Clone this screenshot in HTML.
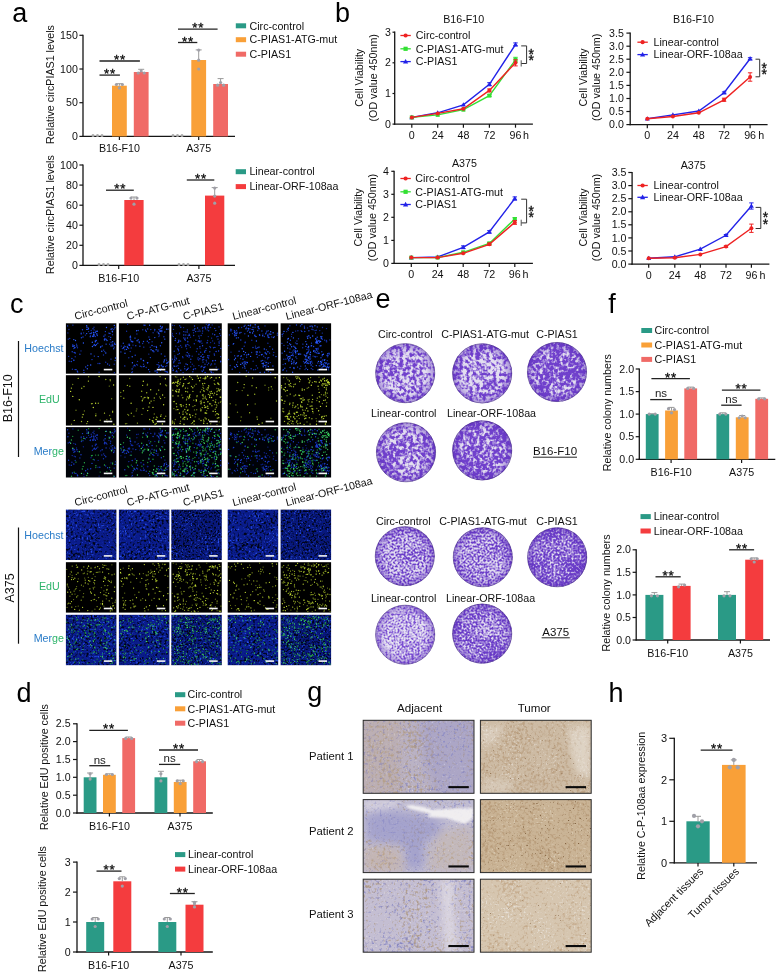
<!DOCTYPE html>
<html><head><meta charset="utf-8"><title>Figure</title>
<style>
html,body{margin:0;padding:0;background:#fff;}
body{width:777px;height:974px;overflow:hidden;}
svg{display:block;font-family:"Liberation Sans",Arial,sans-serif;}
</style></head><body>
<svg width="777" height="974" viewBox="0 0 777 974">
<defs>
<filter id="ha" x="0" y="0" width="1" height="1" color-interpolation-filters="sRGB"><feFlood flood-color="#0a1c8c" result="L0"/><feTurbulence type="fractalNoise" baseFrequency="0.45" numOctaves="1" seed="7"/><feColorMatrix type="matrix" values="1 0 0 0 0  0 0 0 0 0  0 0 0 0 0  0 0 0 0 1" result="h0"/><feTurbulence type="fractalNoise" baseFrequency="0.06" numOctaves="2" seed="57"/><feColorMatrix type="matrix" values="1 0 0 0 0  0 0 0 0 0  0 0 0 0 0  0 0 0 0 1" result="l0"/><feComposite in="h0" in2="l0" operator="arithmetic" k2="0.800" k3="0.200" result="c0"/><feColorMatrix in="c0" type="matrix" values="0 0 0 0 0  0 0 0 0 0  0 0 0 0 0  6 0 0 0 -3.000" result="t0"/><feFlood flood-color="#000418"/><feComposite in2="t0" operator="in" result="d0"/><feMerge result="L1"><feMergeNode in="L0"/><feMergeNode in="d0"/></feMerge><feTurbulence type="fractalNoise" baseFrequency="0.55" numOctaves="1" seed="107"/><feColorMatrix type="matrix" values="1 0 0 0 0  0 0 0 0 0  0 0 0 0 0  0 0 0 0 1" result="h1"/><feTurbulence type="fractalNoise" baseFrequency="0.06" numOctaves="2" seed="157"/><feColorMatrix type="matrix" values="1 0 0 0 0  0 0 0 0 0  0 0 0 0 0  0 0 0 0 1" result="l1"/><feComposite in="h1" in2="l1" operator="arithmetic" k2="0.800" k3="0.200" result="c1"/><feColorMatrix in="c1" type="matrix" values="0 0 0 0 0  0 0 0 0 0  0 0 0 0 0  6 0 0 0 -3.420" result="t1"/><feFlood flood-color="#2850f0"/><feComposite in2="t1" operator="in" result="d1"/><feMerge result="L2"><feMergeNode in="L1"/><feMergeNode in="d1"/></feMerge><feComposite in="L2" in2="SourceAlpha" operator="in"/></filter><filter id="ha2" x="0" y="0" width="1" height="1" color-interpolation-filters="sRGB"><feFlood flood-color="#08187c" result="L0"/><feTurbulence type="fractalNoise" baseFrequency="0.55" numOctaves="1" seed="8"/><feColorMatrix type="matrix" values="1 0 0 0 0  0 0 0 0 0  0 0 0 0 0  0 0 0 0 1" result="h0"/><feTurbulence type="fractalNoise" baseFrequency="0.06" numOctaves="2" seed="58"/><feColorMatrix type="matrix" values="1 0 0 0 0  0 0 0 0 0  0 0 0 0 0  0 0 0 0 1" result="l0"/><feComposite in="h0" in2="l0" operator="arithmetic" k2="0.850" k3="0.150" result="c0"/><feColorMatrix in="c0" type="matrix" values="0 0 0 0 0  0 0 0 0 0  0 0 0 0 0  6 0 0 0 -2.940" result="t0"/><feFlood flood-color="#000418"/><feComposite in2="t0" operator="in" result="d0"/><feMerge result="L1"><feMergeNode in="L0"/><feMergeNode in="d0"/></feMerge><feTurbulence type="fractalNoise" baseFrequency="0.55" numOctaves="1" seed="108"/><feColorMatrix type="matrix" values="1 0 0 0 0  0 0 0 0 0  0 0 0 0 0  0 0 0 0 1" result="h1"/><feTurbulence type="fractalNoise" baseFrequency="0.06" numOctaves="2" seed="158"/><feColorMatrix type="matrix" values="1 0 0 0 0  0 0 0 0 0  0 0 0 0 0  0 0 0 0 1" result="l1"/><feComposite in="h1" in2="l1" operator="arithmetic" k2="0.850" k3="0.150" result="c1"/><feColorMatrix in="c1" type="matrix" values="0 0 0 0 0  0 0 0 0 0  0 0 0 0 0  6 0 0 0 -3.480" result="t1"/><feFlood flood-color="#2850f0"/><feComposite in2="t1" operator="in" result="d1"/><feMerge result="L2"><feMergeNode in="L1"/><feMergeNode in="d1"/></feMerge><feComposite in="L2" in2="SourceAlpha" operator="in"/></filter><filter id="q4" x="0" y="0" width="1" height="1" color-interpolation-filters="sRGB"><feFlood flood-color="#e6e2f2" result="L0"/><feTurbulence type="fractalNoise" baseFrequency="0.5" numOctaves="2" seed="33"/><feColorMatrix type="matrix" values="1 0 0 0 0  0 0 0 0 0  0 0 0 0 0  0 0 0 0 1" result="h0"/><feTurbulence type="fractalNoise" baseFrequency="0.05" numOctaves="2" seed="83"/><feColorMatrix type="matrix" values="1 0 0 0 0  0 0 0 0 0  0 0 0 0 0  0 0 0 0 1" result="l0"/><feComposite in="h0" in2="l0" operator="arithmetic" k2="0.800" k3="0.200" result="c0"/><feColorMatrix in="c0" type="matrix" values="0 0 0 0 0  0 0 0 0 0  0 0 0 0 0  4 0 0 0 -1.640" result="t0"/><feFlood flood-color="#7a4ed2"/><feComposite in2="t0" operator="in" result="d0"/><feMerge result="L1"><feMergeNode in="L0"/><feMergeNode in="d0"/></feMerge><feComposite in="L1" in2="SourceAlpha" operator="in"/></filter><filter id="q5" x="0" y="0" width="1" height="1" color-interpolation-filters="sRGB"><feFlood flood-color="#e0daf0" result="L0"/><feTurbulence type="fractalNoise" baseFrequency="0.5" numOctaves="2" seed="34"/><feColorMatrix type="matrix" values="1 0 0 0 0  0 0 0 0 0  0 0 0 0 0  0 0 0 0 1" result="h0"/><feTurbulence type="fractalNoise" baseFrequency="0.05" numOctaves="2" seed="84"/><feColorMatrix type="matrix" values="1 0 0 0 0  0 0 0 0 0  0 0 0 0 0  0 0 0 0 1" result="l0"/><feComposite in="h0" in2="l0" operator="arithmetic" k2="0.800" k3="0.200" result="c0"/><feColorMatrix in="c0" type="matrix" values="0 0 0 0 0  0 0 0 0 0  0 0 0 0 0  4 0 0 0 -1.520" result="t0"/><feFlood flood-color="#6a3cc8"/><feComposite in2="t0" operator="in" result="d0"/><feMerge result="L1"><feMergeNode in="L0"/><feMergeNode in="d0"/></feMerge><feComposite in="L1" in2="SourceAlpha" operator="in"/></filter><filter id="q6" x="0" y="0" width="1" height="1" color-interpolation-filters="sRGB"><feFlood flood-color="#e0daf0" result="L0"/><feTurbulence type="fractalNoise" baseFrequency="0.5" numOctaves="2" seed="35"/><feColorMatrix type="matrix" values="1 0 0 0 0  0 0 0 0 0  0 0 0 0 0  0 0 0 0 1" result="h0"/><feTurbulence type="fractalNoise" baseFrequency="0.05" numOctaves="2" seed="85"/><feColorMatrix type="matrix" values="1 0 0 0 0  0 0 0 0 0  0 0 0 0 0  0 0 0 0 1" result="l0"/><feComposite in="h0" in2="l0" operator="arithmetic" k2="0.800" k3="0.200" result="c0"/><feColorMatrix in="c0" type="matrix" values="0 0 0 0 0  0 0 0 0 0  0 0 0 0 0  4 0 0 0 -1.400" result="t0"/><feFlood flood-color="#6a3cc8"/><feComposite in2="t0" operator="in" result="d0"/><feMerge result="L1"><feMergeNode in="L0"/><feMergeNode in="d0"/></feMerge><feComposite in="L1" in2="SourceAlpha" operator="in"/></filter><filter id="q7" x="0" y="0" width="1" height="1" color-interpolation-filters="sRGB"><feFlood flood-color="#e0daf0" result="L0"/><feTurbulence type="fractalNoise" baseFrequency="0.5" numOctaves="2" seed="36"/><feColorMatrix type="matrix" values="1 0 0 0 0  0 0 0 0 0  0 0 0 0 0  0 0 0 0 1" result="h0"/><feTurbulence type="fractalNoise" baseFrequency="0.05" numOctaves="2" seed="86"/><feColorMatrix type="matrix" values="1 0 0 0 0  0 0 0 0 0  0 0 0 0 0  0 0 0 0 1" result="l0"/><feComposite in="h0" in2="l0" operator="arithmetic" k2="0.800" k3="0.200" result="c0"/><feColorMatrix in="c0" type="matrix" values="0 0 0 0 0  0 0 0 0 0  0 0 0 0 0  4 0 0 0 -1.280" result="t0"/><feFlood flood-color="#6a3cc8"/><feComposite in2="t0" operator="in" result="d0"/><feMerge result="L1"><feMergeNode in="L0"/><feMergeNode in="d0"/></feMerge><feComposite in="L1" in2="SourceAlpha" operator="in"/></filter><filter id="r4" x="0" y="0" width="1" height="1" color-interpolation-filters="sRGB"><feFlood flood-color="#e2ddf0" result="L0"/><feTurbulence type="fractalNoise" baseFrequency="0.3" numOctaves="2" seed="43"/><feColorMatrix type="matrix" values="1 0 0 0 0  0 0 0 0 0  0 0 0 0 0  0 0 0 0 1" result="h0"/><feTurbulence type="fractalNoise" baseFrequency="0.05" numOctaves="2" seed="93"/><feColorMatrix type="matrix" values="1 0 0 0 0  0 0 0 0 0  0 0 0 0 0  0 0 0 0 1" result="l0"/><feComposite in="h0" in2="l0" operator="arithmetic" k2="0.750" k3="0.250" result="c0"/><feColorMatrix in="c0" type="matrix" values="0 0 0 0 0  0 0 0 0 0  0 0 0 0 0  5 0 0 0 -2.050" result="t0"/><feFlood flood-color="#7040cc"/><feComposite in2="t0" operator="in" result="d0"/><feMerge result="L1"><feMergeNode in="L0"/><feMergeNode in="d0"/></feMerge><feComposite in="L1" in2="SourceAlpha" operator="in"/></filter><filter id="r5" x="0" y="0" width="1" height="1" color-interpolation-filters="sRGB"><feFlood flood-color="#e2ddf0" result="L0"/><feTurbulence type="fractalNoise" baseFrequency="0.3" numOctaves="2" seed="44"/><feColorMatrix type="matrix" values="1 0 0 0 0  0 0 0 0 0  0 0 0 0 0  0 0 0 0 1" result="h0"/><feTurbulence type="fractalNoise" baseFrequency="0.05" numOctaves="2" seed="94"/><feColorMatrix type="matrix" values="1 0 0 0 0  0 0 0 0 0  0 0 0 0 0  0 0 0 0 1" result="l0"/><feComposite in="h0" in2="l0" operator="arithmetic" k2="0.750" k3="0.250" result="c0"/><feColorMatrix in="c0" type="matrix" values="0 0 0 0 0  0 0 0 0 0  0 0 0 0 0  5 0 0 0 -1.900" result="t0"/><feFlood flood-color="#7040cc"/><feComposite in2="t0" operator="in" result="d0"/><feMerge result="L1"><feMergeNode in="L0"/><feMergeNode in="d0"/></feMerge><feComposite in="L1" in2="SourceAlpha" operator="in"/></filter><filter id="r6" x="0" y="0" width="1" height="1" color-interpolation-filters="sRGB"><feFlood flood-color="#e2ddf0" result="L0"/><feTurbulence type="fractalNoise" baseFrequency="0.3" numOctaves="2" seed="45"/><feColorMatrix type="matrix" values="1 0 0 0 0  0 0 0 0 0  0 0 0 0 0  0 0 0 0 1" result="h0"/><feTurbulence type="fractalNoise" baseFrequency="0.05" numOctaves="2" seed="95"/><feColorMatrix type="matrix" values="1 0 0 0 0  0 0 0 0 0  0 0 0 0 0  0 0 0 0 1" result="l0"/><feComposite in="h0" in2="l0" operator="arithmetic" k2="0.750" k3="0.250" result="c0"/><feColorMatrix in="c0" type="matrix" values="0 0 0 0 0  0 0 0 0 0  0 0 0 0 0  5 0 0 0 -1.750" result="t0"/><feFlood flood-color="#7040cc"/><feComposite in2="t0" operator="in" result="d0"/><feMerge result="L1"><feMergeNode in="L0"/><feMergeNode in="d0"/></feMerge><feComposite in="L1" in2="SourceAlpha" operator="in"/></filter><radialGradient id="vig"><stop offset="0.7" stop-color="#5a2cb8" stop-opacity="0"/><stop offset="1" stop-color="#5a2cb8" stop-opacity="0.45"/></radialGradient><filter id="ia1" x="0" y="0" width="1" height="1" color-interpolation-filters="sRGB"><feFlood flood-color="#bab2c4" result="L0"/><feTurbulence type="fractalNoise" baseFrequency="0.35" numOctaves="2" seed="41"/><feColorMatrix type="matrix" values="1 0 0 0 0  0 0 0 0 0  0 0 0 0 0  0 0 0 0 1" result="h0"/><feTurbulence type="fractalNoise" baseFrequency="0.03" numOctaves="2" seed="91"/><feColorMatrix type="matrix" values="1 0 0 0 0  0 0 0 0 0  0 0 0 0 0  0 0 0 0 1" result="l0"/><feComposite in="h0" in2="l0" operator="arithmetic" k2="0.700" k3="0.300" result="c0"/><feColorMatrix in="c0" type="matrix" values="0 0 0 0 0  0 0 0 0 0  0 0 0 0 0  5 0 0 0 -2.600" result="t0"/><feFlood flood-color="#b09c8a"/><feComposite in2="t0" operator="in" result="d0"/><feMerge result="L1"><feMergeNode in="L0"/><feMergeNode in="d0"/></feMerge><feTurbulence type="fractalNoise" baseFrequency="0.35" numOctaves="2" seed="42"/><feColorMatrix type="matrix" values="1 0 0 0 0  0 0 0 0 0  0 0 0 0 0  0 0 0 0 1" result="h1"/><feTurbulence type="fractalNoise" baseFrequency="0.02" numOctaves="2" seed="92"/><feColorMatrix type="matrix" values="1 0 0 0 0  0 0 0 0 0  0 0 0 0 0  0 0 0 0 1" result="l1"/><feComposite in="h1" in2="l1" operator="arithmetic" k2="0.850" k3="0.150" result="c1"/><feColorMatrix in="c1" type="matrix" values="0 0 0 0 0  0 0 0 0 0  0 0 0 0 0  5 0 0 0 -2.900" result="t1"/><feFlood flood-color="#8686c2"/><feComposite in2="t1" operator="in" result="d1"/><feMerge result="L2"><feMergeNode in="L1"/><feMergeNode in="d1"/></feMerge><feTurbulence type="fractalNoise" baseFrequency="0.5" numOctaves="1" seed="43"/><feColorMatrix type="matrix" values="1 0 0 0 0  0 0 0 0 0  0 0 0 0 0  0 0 0 0 1" result="h2"/><feTurbulence type="fractalNoise" baseFrequency="0.05" numOctaves="1" seed="93"/><feColorMatrix type="matrix" values="1 0 0 0 0  0 0 0 0 0  0 0 0 0 0  0 0 0 0 1" result="l2"/><feComposite in="h2" in2="l2" operator="arithmetic" k2="0.850" k3="0.150" result="c2"/><feColorMatrix in="c2" type="matrix" values="0 0 0 0 0  0 0 0 0 0  0 0 0 0 0  5 0 0 0 -3.200" result="t2"/><feFlood flood-color="#dedae2"/><feComposite in2="t2" operator="in" result="d2"/><feMerge result="L3"><feMergeNode in="L2"/><feMergeNode in="d2"/></feMerge><feComposite in="L3" in2="SourceAlpha" operator="in"/></filter><filter id="ia2" x="0" y="0" width="1" height="1" color-interpolation-filters="sRGB"><feFlood flood-color="#c0bcd2" result="L0"/><feTurbulence type="fractalNoise" baseFrequency="0.35" numOctaves="2" seed="51"/><feColorMatrix type="matrix" values="1 0 0 0 0  0 0 0 0 0  0 0 0 0 0  0 0 0 0 1" result="h0"/><feTurbulence type="fractalNoise" baseFrequency="0.03" numOctaves="2" seed="101"/><feColorMatrix type="matrix" values="1 0 0 0 0  0 0 0 0 0  0 0 0 0 0  0 0 0 0 1" result="l0"/><feComposite in="h0" in2="l0" operator="arithmetic" k2="0.700" k3="0.300" result="c0"/><feColorMatrix in="c0" type="matrix" values="0 0 0 0 0  0 0 0 0 0  0 0 0 0 0  5 0 0 0 -2.800" result="t0"/><feFlood flood-color="#b09c8a"/><feComposite in2="t0" operator="in" result="d0"/><feMerge result="L1"><feMergeNode in="L0"/><feMergeNode in="d0"/></feMerge><feTurbulence type="fractalNoise" baseFrequency="0.35" numOctaves="2" seed="52"/><feColorMatrix type="matrix" values="1 0 0 0 0  0 0 0 0 0  0 0 0 0 0  0 0 0 0 1" result="h1"/><feTurbulence type="fractalNoise" baseFrequency="0.03" numOctaves="2" seed="102"/><feColorMatrix type="matrix" values="1 0 0 0 0  0 0 0 0 0  0 0 0 0 0  0 0 0 0 1" result="l1"/><feComposite in="h1" in2="l1" operator="arithmetic" k2="0.700" k3="0.300" result="c1"/><feColorMatrix in="c1" type="matrix" values="0 0 0 0 0  0 0 0 0 0  0 0 0 0 0  5 0 0 0 -2.900" result="t1"/><feFlood flood-color="#8686c2"/><feComposite in2="t1" operator="in" result="d1"/><feMerge result="L2"><feMergeNode in="L1"/><feMergeNode in="d1"/></feMerge><feTurbulence type="fractalNoise" baseFrequency="0.5" numOctaves="1" seed="53"/><feColorMatrix type="matrix" values="1 0 0 0 0  0 0 0 0 0  0 0 0 0 0  0 0 0 0 1" result="h2"/><feTurbulence type="fractalNoise" baseFrequency="0.05" numOctaves="1" seed="103"/><feColorMatrix type="matrix" values="1 0 0 0 0  0 0 0 0 0  0 0 0 0 0  0 0 0 0 1" result="l2"/><feComposite in="h2" in2="l2" operator="arithmetic" k2="0.850" k3="0.150" result="c2"/><feColorMatrix in="c2" type="matrix" values="0 0 0 0 0  0 0 0 0 0  0 0 0 0 0  5 0 0 0 -3.200" result="t2"/><feFlood flood-color="#dedae2"/><feComposite in2="t2" operator="in" result="d2"/><feMerge result="L3"><feMergeNode in="L2"/><feMergeNode in="d2"/></feMerge><feComposite in="L3" in2="SourceAlpha" operator="in"/></filter><filter id="ia3" x="0" y="0" width="1" height="1" color-interpolation-filters="sRGB"><feFlood flood-color="#c4bed2" result="L0"/><feTurbulence type="fractalNoise" baseFrequency="0.35" numOctaves="2" seed="61"/><feColorMatrix type="matrix" values="1 0 0 0 0  0 0 0 0 0  0 0 0 0 0  0 0 0 0 1" result="h0"/><feTurbulence type="fractalNoise" baseFrequency="0.03" numOctaves="2" seed="111"/><feColorMatrix type="matrix" values="1 0 0 0 0  0 0 0 0 0  0 0 0 0 0  0 0 0 0 1" result="l0"/><feComposite in="h0" in2="l0" operator="arithmetic" k2="0.700" k3="0.300" result="c0"/><feColorMatrix in="c0" type="matrix" values="0 0 0 0 0  0 0 0 0 0  0 0 0 0 0  5 0 0 0 -2.750" result="t0"/><feFlood flood-color="#b09c8a"/><feComposite in2="t0" operator="in" result="d0"/><feMerge result="L1"><feMergeNode in="L0"/><feMergeNode in="d0"/></feMerge><feTurbulence type="fractalNoise" baseFrequency="0.35" numOctaves="2" seed="62"/><feColorMatrix type="matrix" values="1 0 0 0 0  0 0 0 0 0  0 0 0 0 0  0 0 0 0 1" result="h1"/><feTurbulence type="fractalNoise" baseFrequency="0.03" numOctaves="2" seed="112"/><feColorMatrix type="matrix" values="1 0 0 0 0  0 0 0 0 0  0 0 0 0 0  0 0 0 0 1" result="l1"/><feComposite in="h1" in2="l1" operator="arithmetic" k2="0.700" k3="0.300" result="c1"/><feColorMatrix in="c1" type="matrix" values="0 0 0 0 0  0 0 0 0 0  0 0 0 0 0  5 0 0 0 -2.800" result="t1"/><feFlood flood-color="#8686c2"/><feComposite in2="t1" operator="in" result="d1"/><feMerge result="L2"><feMergeNode in="L1"/><feMergeNode in="d1"/></feMerge><feTurbulence type="fractalNoise" baseFrequency="0.5" numOctaves="1" seed="63"/><feColorMatrix type="matrix" values="1 0 0 0 0  0 0 0 0 0  0 0 0 0 0  0 0 0 0 1" result="h2"/><feTurbulence type="fractalNoise" baseFrequency="0.05" numOctaves="1" seed="113"/><feColorMatrix type="matrix" values="1 0 0 0 0  0 0 0 0 0  0 0 0 0 0  0 0 0 0 1" result="l2"/><feComposite in="h2" in2="l2" operator="arithmetic" k2="0.850" k3="0.150" result="c2"/><feColorMatrix in="c2" type="matrix" values="0 0 0 0 0  0 0 0 0 0  0 0 0 0 0  5 0 0 0 -3.100" result="t2"/><feFlood flood-color="#dedae2"/><feComposite in2="t2" operator="in" result="d2"/><feMerge result="L3"><feMergeNode in="L2"/><feMergeNode in="d2"/></feMerge><feComposite in="L3" in2="SourceAlpha" operator="in"/></filter><filter id="it1" x="0" y="0" width="1" height="1" color-interpolation-filters="sRGB"><feFlood flood-color="#cdbba4" result="L0"/><feTurbulence type="fractalNoise" baseFrequency="0.35" numOctaves="2" seed="44"/><feColorMatrix type="matrix" values="1 0 0 0 0  0 0 0 0 0  0 0 0 0 0  0 0 0 0 1" result="h0"/><feTurbulence type="fractalNoise" baseFrequency="0.03" numOctaves="2" seed="94"/><feColorMatrix type="matrix" values="1 0 0 0 0  0 0 0 0 0  0 0 0 0 0  0 0 0 0 1" result="l0"/><feComposite in="h0" in2="l0" operator="arithmetic" k2="0.700" k3="0.300" result="c0"/><feColorMatrix in="c0" type="matrix" values="0 0 0 0 0  0 0 0 0 0  0 0 0 0 0  5 0 0 0 -2.500" result="t0"/><feFlood flood-color="#bca284"/><feComposite in2="t0" operator="in" result="d0"/><feMerge result="L1"><feMergeNode in="L0"/><feMergeNode in="d0"/></feMerge><feTurbulence type="fractalNoise" baseFrequency="0.5" numOctaves="1" seed="45"/><feColorMatrix type="matrix" values="1 0 0 0 0  0 0 0 0 0  0 0 0 0 0  0 0 0 0 1" result="h1"/><feTurbulence type="fractalNoise" baseFrequency="0.04" numOctaves="2" seed="95"/><feColorMatrix type="matrix" values="1 0 0 0 0  0 0 0 0 0  0 0 0 0 0  0 0 0 0 1" result="l1"/><feComposite in="h1" in2="l1" operator="arithmetic" k2="0.700" k3="0.300" result="c1"/><feColorMatrix in="c1" type="matrix" values="0 0 0 0 0  0 0 0 0 0  0 0 0 0 0  5 0 0 0 -2.900" result="t1"/><feFlood flood-color="#e4dcd2"/><feComposite in2="t1" operator="in" result="d1"/><feMerge result="L2"><feMergeNode in="L1"/><feMergeNode in="d1"/></feMerge><feTurbulence type="fractalNoise" baseFrequency="0.6" numOctaves="1" seed="46"/><feColorMatrix type="matrix" values="1 0 0 0 0  0 0 0 0 0  0 0 0 0 0  0 0 0 0 1" result="h2"/><feColorMatrix in="h2" type="matrix" values="0 0 0 0 0  0 0 0 0 0  0 0 0 0 0  8 0 0 0 -5.600" result="t2"/><feFlood flood-color="#8c6c4c"/><feComposite in2="t2" operator="in" result="d2"/><feMerge result="L3"><feMergeNode in="L2"/><feMergeNode in="d2"/></feMerge><feComposite in="L3" in2="SourceAlpha" operator="in"/></filter><filter id="it2" x="0" y="0" width="1" height="1" color-interpolation-filters="sRGB"><feFlood flood-color="#cab496" result="L0"/><feTurbulence type="fractalNoise" baseFrequency="0.35" numOctaves="2" seed="54"/><feColorMatrix type="matrix" values="1 0 0 0 0  0 0 0 0 0  0 0 0 0 0  0 0 0 0 1" result="h0"/><feTurbulence type="fractalNoise" baseFrequency="0.03" numOctaves="2" seed="104"/><feColorMatrix type="matrix" values="1 0 0 0 0  0 0 0 0 0  0 0 0 0 0  0 0 0 0 1" result="l0"/><feComposite in="h0" in2="l0" operator="arithmetic" k2="0.700" k3="0.300" result="c0"/><feColorMatrix in="c0" type="matrix" values="0 0 0 0 0  0 0 0 0 0  0 0 0 0 0  5 0 0 0 -2.500" result="t0"/><feFlood flood-color="#b89c7a"/><feComposite in2="t0" operator="in" result="d0"/><feMerge result="L1"><feMergeNode in="L0"/><feMergeNode in="d0"/></feMerge><feTurbulence type="fractalNoise" baseFrequency="0.5" numOctaves="1" seed="55"/><feColorMatrix type="matrix" values="1 0 0 0 0  0 0 0 0 0  0 0 0 0 0  0 0 0 0 1" result="h1"/><feTurbulence type="fractalNoise" baseFrequency="0.04" numOctaves="2" seed="105"/><feColorMatrix type="matrix" values="1 0 0 0 0  0 0 0 0 0  0 0 0 0 0  0 0 0 0 1" result="l1"/><feComposite in="h1" in2="l1" operator="arithmetic" k2="0.700" k3="0.300" result="c1"/><feColorMatrix in="c1" type="matrix" values="0 0 0 0 0  0 0 0 0 0  0 0 0 0 0  5 0 0 0 -3.000" result="t1"/><feFlood flood-color="#e2d6c2"/><feComposite in2="t1" operator="in" result="d1"/><feMerge result="L2"><feMergeNode in="L1"/><feMergeNode in="d1"/></feMerge><feTurbulence type="fractalNoise" baseFrequency="0.6" numOctaves="1" seed="56"/><feColorMatrix type="matrix" values="1 0 0 0 0  0 0 0 0 0  0 0 0 0 0  0 0 0 0 1" result="h2"/><feColorMatrix in="h2" type="matrix" values="0 0 0 0 0  0 0 0 0 0  0 0 0 0 0  8 0 0 0 -5.440" result="t2"/><feFlood flood-color="#80603e"/><feComposite in2="t2" operator="in" result="d2"/><feMerge result="L3"><feMergeNode in="L2"/><feMergeNode in="d2"/></feMerge><feComposite in="L3" in2="SourceAlpha" operator="in"/></filter><filter id="it3" x="0" y="0" width="1" height="1" color-interpolation-filters="sRGB"><feFlood flood-color="#d6c6b0" result="L0"/><feTurbulence type="fractalNoise" baseFrequency="0.35" numOctaves="2" seed="64"/><feColorMatrix type="matrix" values="1 0 0 0 0  0 0 0 0 0  0 0 0 0 0  0 0 0 0 1" result="h0"/><feTurbulence type="fractalNoise" baseFrequency="0.03" numOctaves="2" seed="114"/><feColorMatrix type="matrix" values="1 0 0 0 0  0 0 0 0 0  0 0 0 0 0  0 0 0 0 1" result="l0"/><feComposite in="h0" in2="l0" operator="arithmetic" k2="0.700" k3="0.300" result="c0"/><feColorMatrix in="c0" type="matrix" values="0 0 0 0 0  0 0 0 0 0  0 0 0 0 0  5 0 0 0 -2.650" result="t0"/><feFlood flood-color="#c4aa8c"/><feComposite in2="t0" operator="in" result="d0"/><feMerge result="L1"><feMergeNode in="L0"/><feMergeNode in="d0"/></feMerge><feTurbulence type="fractalNoise" baseFrequency="0.5" numOctaves="1" seed="65"/><feColorMatrix type="matrix" values="1 0 0 0 0  0 0 0 0 0  0 0 0 0 0  0 0 0 0 1" result="h1"/><feTurbulence type="fractalNoise" baseFrequency="0.04" numOctaves="2" seed="115"/><feColorMatrix type="matrix" values="1 0 0 0 0  0 0 0 0 0  0 0 0 0 0  0 0 0 0 1" result="l1"/><feComposite in="h1" in2="l1" operator="arithmetic" k2="0.700" k3="0.300" result="c1"/><feColorMatrix in="c1" type="matrix" values="0 0 0 0 0  0 0 0 0 0  0 0 0 0 0  5 0 0 0 -2.900" result="t1"/><feFlood flood-color="#e8e2da"/><feComposite in2="t1" operator="in" result="d1"/><feMerge result="L2"><feMergeNode in="L1"/><feMergeNode in="d1"/></feMerge><feTurbulence type="fractalNoise" baseFrequency="0.6" numOctaves="1" seed="66"/><feColorMatrix type="matrix" values="1 0 0 0 0  0 0 0 0 0  0 0 0 0 0  0 0 0 0 1" result="h2"/><feColorMatrix in="h2" type="matrix" values="0 0 0 0 0  0 0 0 0 0  0 0 0 0 0  8 0 0 0 -5.760" result="t2"/><feFlood flood-color="#8c6c4c"/><feComposite in2="t2" operator="in" result="d2"/><feMerge result="L3"><feMergeNode in="L2"/><feMergeNode in="d2"/></feMerge><feComposite in="L3" in2="SourceAlpha" operator="in"/></filter><filter id="bl1" x="-50%" y="-50%" width="200%" height="200%"><feGaussianBlur stdDeviation="1"/></filter><filter id="bl3" x="-50%" y="-50%" width="200%" height="200%"><feGaussianBlur stdDeviation="3"/></filter><filter id="bl4" x="-50%" y="-50%" width="200%" height="200%"><feGaussianBlur stdDeviation="4"/></filter><clipPath id="cg00"><rect x="363.2" y="720.3" width="110.8" height="73"/></clipPath><clipPath id="cg01"><rect x="480.4" y="720.3" width="110.8" height="73"/></clipPath><clipPath id="cg10"><rect x="363.2" y="799.6" width="110.8" height="73"/></clipPath><clipPath id="cg11"><rect x="480.4" y="799.6" width="110.8" height="73"/></clipPath><clipPath id="cg20"><rect x="363.2" y="879.2" width="110.8" height="73"/></clipPath><clipPath id="cg21"><rect x="480.4" y="879.2" width="110.8" height="73"/></clipPath>
</defs>
<rect width="777" height="974" fill="#fff"/>
<rect x="65.9" y="323.3" width="50.5" height="50.4" fill="#000" />
<path d="M96.9 334.5h0M93.9 345.1h0M112.5 334.8h0M105.7 362.2h0M94.0 327.3h0M94.1 335.5h0M115.1 327.2h0M108.9 336.6h0M69.2 361.2h0M103.5 355.0h0M69.7 338.5h0M67.9 332.9h0M74.7 348.1h0M114.4 372.7h0M88.6 331.6h0M104.7 351.6h0M72.8 344.8h0M98.0 363.5h0M114.6 328.1h0M114.3 344.4h0M115.4 344.4h0M99.1 372.3h0M76.5 344.2h0M91.7 332.4h0M109.5 365.3h0M81.0 350.9h0M110.4 339.4h0M81.2 334.0h0M113.7 329.5h0M77.5 347.7h0M91.2 330.4h0M109.6 344.3h0M105.6 339.0h0M93.2 336.5h0M95.4 336.5h0M94.1 330.0h0M73.7 360.3h0M104.7 338.4h0M75.2 356.7h0M73.8 348.5h0M83.6 332.9h0M95.6 341.0h0M85.4 335.1h0M72.4 369.2h0M68.9 329.5h0M114.2 364.3h0M95.4 340.4h0M111.1 342.3h0M73.2 346.1h0M88.5 329.3h0M68.6 356.4h0" stroke="#1430a8" stroke-width="1.4" stroke-linecap="round" fill="none"/>
<path d="M74.2 352.5h0M96.5 344.4h0M107.6 364.0h0M75.3 353.0h0M110.0 333.4h0M113.7 348.7h0M75.1 369.6h0M87.0 329.4h0M103.7 350.1h0M90.5 335.9h0M99.8 363.5h0M97.8 343.3h0M71.3 361.5h0M90.2 336.7h0M94.0 334.2h0M96.0 331.3h0M97.4 331.1h0M106.2 339.4h0M85.7 367.0h0M114.2 347.1h0M105.4 331.6h0M112.2 344.2h0M68.2 339.1h0M72.2 351.8h0M67.6 325.9h0M83.0 337.0h0M73.9 360.2h0M108.9 333.1h0M94.3 356.1h0M112.1 328.8h0M114.5 343.3h0M92.0 359.6h0M76.2 369.6h0M81.2 333.2h0M82.5 329.8h0M81.4 337.7h0M96.4 340.5h0M105.1 334.9h0M94.0 345.5h0M100.8 346.8h0M97.3 335.5h0M79.9 354.2h0M110.7 337.4h0M77.7 372.0h0M72.9 325.1h0M90.0 333.6h0M83.8 370.3h0M74.4 345.7h0M102.2 345.9h0M103.9 336.3h0M111.0 359.1h0M93.0 328.7h0M115.1 360.6h0M87.7 365.5h0M71.9 358.5h0M96.8 333.8h0M95.4 332.5h0M94.4 344.5h0" stroke="#1c44d8" stroke-width="1.4" stroke-linecap="round" fill="none"/>
<path d="M75.5 340.5h0M114.3 325.4h0M88.5 328.2h0M73.8 339.6h0M112.7 341.7h0M92.7 336.2h0M87.0 329.4h0M72.6 346.1h0M106.5 327.5h0M112.5 331.7h0M84.0 372.6h0M107.0 340.5h0M87.0 327.2h0M104.4 339.7h0M92.4 346.5h0M87.3 368.8h0M100.5 347.1h0M104.6 340.1h0M73.3 346.1h0M93.7 332.4h0M76.9 346.0h0M98.2 356.6h0M112.2 331.3h0M97.0 331.4h0M115.5 358.0h0M91.0 333.5h0M91.0 353.9h0M95.3 341.8h0M90.7 365.0h0M93.8 335.9h0M83.4 343.0h0M95.6 345.5h0M74.9 347.4h0M86.7 333.6h0M101.8 351.2h0M106.1 344.1h0M105.8 353.0h0M93.7 334.2h0M92.3 342.2h0M86.7 325.8h0M111.1 345.9h0M77.3 371.1h0M111.1 329.3h0M112.8 345.7h0" stroke="#2c5cff" stroke-width="1.4" stroke-linecap="round" fill="none"/>
<rect x="103.8" y="368.8" width="8.5" height="1.6" fill="#f4f4f4" />
<rect x="65.9" y="375.2" width="50.5" height="50.4" fill="#000" />
<path d="M71.5 424.3h0M91.5 403.8h0M106.8 419.7h0M109.6 415.5h0M84.4 410.9h0M95.9 413.9h0M88.6 376.8h0M100.2 420.2h0M76.0 410.2h0M111.6 398.8h0M112.6 411.1h0M109.3 386.1h0M72.7 384.5h0M110.3 380.7h0" stroke="#6c7c18" stroke-width="1.4" stroke-linecap="round" fill="none"/>
<path d="M98.3 403.2h0M78.2 378.4h0M84.0 386.5h0M107.3 421.7h0M86.8 423.6h0M81.7 388.2h0M81.5 421.5h0M110.2 379.8h0M105.8 379.5h0" stroke="#98b024" stroke-width="1.4" stroke-linecap="round" fill="none"/>
<path d="M88.4 381.1h0M83.1 414.5h0M104.5 413.1h0M79.3 399.8h0M99.1 376.5h0M92.1 403.6h0M70.6 391.4h0M95.8 415.7h0M82.3 417.1h0M95.6 403.2h0M72.8 396.4h0M110.7 418.9h0M113.6 385.0h0M74.2 420.4h0M113.9 424.2h0M112.6 412.0h0M87.6 421.6h0M93.3 407.5h0M71.4 388.1h0" stroke="#c0d834" stroke-width="1.4" stroke-linecap="round" fill="none"/>
<rect x="103.8" y="420.7" width="8.5" height="1.6" fill="#f4f4f4" />
<rect x="65.9" y="427.1" width="50.5" height="50.4" fill="#000208" />
<path d="M96.9 438.3h0M74.2 456.3h0M112.5 438.6h0M73.8 443.4h0M94.1 439.3h0M108.9 440.4h0M69.2 465.0h0M87.0 433.2h0M90.5 439.7h0M72.6 449.9h0M96.0 435.1h0M74.7 451.9h0M84.0 476.4h0M107.0 444.3h0M87.0 431.0h0M87.3 472.6h0M100.5 450.9h0M88.6 435.4h0M108.9 436.9h0M104.6 443.9h0M73.3 449.9h0M98.0 467.3h0M76.2 473.4h0M98.2 460.4h0M115.4 448.2h0M99.1 476.1h0M112.2 435.1h0M115.5 461.8h0M94.0 449.3h0M76.5 448.0h0M91.0 437.3h0M91.0 457.7h0M109.5 469.1h0M100.8 450.6h0M81.2 437.8h0M113.7 433.3h0M97.3 439.3h0M83.4 446.8h0M77.5 451.5h0M72.9 428.9h0M109.6 448.1h0M105.6 442.8h0M73.7 464.1h0M93.7 438.0h0M111.0 462.9h0M95.6 444.8h0M95.4 444.2h0M111.1 433.1h0M88.5 433.1h0" stroke="#0c2088" stroke-width="1.4" stroke-linecap="round" fill="none"/>
<path d="M75.5 444.3h0M96.5 448.2h0M93.9 448.9h0M75.3 456.8h0M114.3 429.2h0M105.7 466.0h0M112.7 445.5h0M94.0 431.1h0M103.5 458.8h0M103.7 453.9h0M97.8 447.1h0M87.0 433.2h0M94.0 438.0h0M106.5 431.3h0M97.4 434.9h0M112.5 435.5h0M114.4 476.5h0M112.2 448.0h0M72.2 455.6h0M104.4 443.5h0M92.4 450.3h0M83.0 440.8h0M73.9 464.0h0M104.7 455.4h0M114.6 431.9h0M114.3 448.2h0M81.2 437.0h0M81.4 441.5h0M96.4 444.3h0M95.3 445.6h0M110.4 443.2h0M93.8 439.7h0M79.9 458.0h0M95.6 449.3h0M91.2 434.2h0M110.7 441.2h0M90.0 437.4h0M83.8 474.1h0M93.2 440.3h0M94.1 433.8h0M86.7 437.4h0M74.4 449.5h0M101.8 455.0h0M75.2 460.5h0M73.8 452.3h0M83.6 436.7h0M92.3 446.0h0M93.0 432.5h0M85.4 438.9h0M68.9 433.3h0M111.1 449.7h0M87.7 469.3h0M71.9 462.3h0M112.8 449.5h0M96.8 437.6h0M73.2 449.9h0M95.4 436.3h0" stroke="#1430b0" stroke-width="1.4" stroke-linecap="round" fill="none"/>
<path d="M107.6 467.8h0M88.5 432.0h0M110.0 437.2h0M113.7 452.5h0M115.1 431.0h0M75.1 473.4h0M92.7 440.0h0M99.8 467.3h0M71.3 465.3h0M90.2 440.5h0M69.7 442.3h0M67.9 436.7h0M106.2 443.2h0M85.7 470.8h0M114.2 450.9h0M105.4 435.4h0M68.2 442.9h0M67.6 429.7h0M72.8 448.6h0M94.3 459.9h0M112.1 432.6h0M114.5 447.1h0M93.7 436.2h0M92.0 463.4h0M76.9 449.8h0M82.5 433.6h0M105.1 438.7h0M97.0 435.2h0M91.7 436.2h0M81.0 454.7h0M90.7 468.8h0M74.9 451.2h0M77.7 475.8h0M95.4 440.3h0M104.7 442.2h0M106.1 447.9h0M102.2 449.7h0M103.9 440.1h0M105.8 456.8h0M72.4 473.0h0M114.2 468.1h0M86.7 429.6h0M111.1 446.1h0M115.1 464.4h0M77.3 474.9h0M94.4 448.3h0M68.6 460.2h0" stroke="#1c40d0" stroke-width="1.4" stroke-linecap="round" fill="none"/>
<path d="M91.5 455.7h0M106.8 471.6h0M109.6 467.4h0M99.1 428.4h0M78.2 430.3h0M88.6 428.7h0M100.2 472.1h0M95.8 467.6h0M95.6 455.1h0M74.2 472.3h0M112.6 463.0h0M93.3 459.4h0M81.7 440.1h0M72.7 436.4h0" stroke="#1c8c38" stroke-width="1.4" stroke-linecap="round" fill="none"/>
<path d="M98.3 455.1h0M71.5 476.2h0M83.1 466.4h0M104.5 465.0h0M84.4 462.8h0M95.9 465.8h0M92.1 455.5h0M82.3 469.0h0M76.0 462.1h0M113.6 436.9h0M112.6 463.9h0M86.8 475.5h0M71.4 440.0h0" stroke="#28b048" stroke-width="1.4" stroke-linecap="round" fill="none"/>
<path d="M88.4 433.0h0M79.3 451.7h0M70.6 443.3h0M72.8 448.3h0M110.7 470.8h0M111.6 450.7h0M113.9 476.1h0M84.0 438.4h0M107.3 473.6h0M87.6 473.5h0M109.3 438.0h0M81.5 473.4h0M110.2 431.7h0M105.8 431.4h0M110.3 432.6h0" stroke="#44d468" stroke-width="1.4" stroke-linecap="round" fill="none"/>
<rect x="103.8" y="472.6" width="8.5" height="1.6" fill="#f4f4f4" />
<rect x="118.9" y="323.3" width="50.5" height="50.4" fill="#000" />
<path d="M142.8 329.8h0M139.4 342.8h0M158.7 362.6h0M136.9 334.0h0M165.5 366.5h0M133.2 366.9h0M129.6 345.0h0M137.5 361.4h0M134.5 365.2h0M140.5 366.2h0M156.5 370.7h0M166.1 359.1h0M148.8 354.1h0M127.1 346.6h0M127.6 324.3h0M147.7 362.9h0M143.8 361.0h0M166.9 365.7h0M150.2 347.3h0M166.6 360.6h0M130.2 351.5h0M162.4 327.7h0M126.6 331.3h0M159.3 335.0h0M154.1 346.5h0M159.4 331.1h0M164.3 361.0h0M143.5 364.3h0M154.7 330.7h0M122.4 348.5h0M162.0 366.2h0M148.9 337.0h0M133.0 345.1h0M125.4 346.6h0M136.7 364.4h0M132.5 371.6h0M152.6 350.8h0M123.7 348.3h0M131.2 348.0h0M152.1 341.7h0M135.3 365.9h0M147.9 362.6h0M124.8 349.7h0M146.2 367.5h0M128.6 348.4h0M158.5 364.9h0M158.9 336.6h0M128.8 357.8h0M129.1 343.9h0M141.8 366.7h0M121.3 346.1h0M157.2 372.5h0M128.1 347.9h0M137.5 365.1h0M157.2 331.9h0M128.3 345.0h0M157.9 351.4h0M149.7 371.7h0M142.6 343.5h0M153.1 332.7h0" stroke="#1430a8" stroke-width="1.4" stroke-linecap="round" fill="none"/>
<path d="M153.9 351.8h0M143.8 347.1h0M147.7 328.9h0M130.2 337.8h0M123.3 343.2h0M135.2 355.2h0M132.1 341.8h0M159.0 329.5h0M131.3 341.2h0M144.2 366.1h0M161.2 369.0h0M150.4 357.6h0M120.9 351.9h0M165.2 371.5h0M168.2 329.1h0M147.3 341.3h0M138.2 330.5h0M130.5 339.8h0M143.9 325.1h0M146.3 331.5h0M139.9 346.3h0M154.8 329.4h0M157.1 364.6h0M138.2 339.8h0M161.4 327.9h0M150.8 329.6h0M167.4 362.7h0M162.3 326.7h0M163.9 336.7h0M143.5 341.5h0M168.4 361.9h0M156.2 346.5h0M164.9 356.3h0M124.8 365.9h0M145.0 325.2h0M157.2 372.3h0M135.8 345.8h0M132.2 341.4h0M134.2 365.5h0M130.6 337.7h0M130.2 336.7h0M163.2 366.4h0M159.5 366.0h0M166.7 371.7h0M148.8 342.8h0M132.8 341.7h0M160.9 328.7h0M161.3 353.9h0M160.4 345.8h0M131.9 372.4h0M164.8 332.0h0M124.4 346.1h0" stroke="#1c44d8" stroke-width="1.4" stroke-linecap="round" fill="none"/>
<path d="M139.2 341.9h0M153.0 350.8h0M161.3 365.3h0M127.5 347.2h0M160.3 331.3h0M148.6 369.6h0M166.7 329.2h0M130.5 336.1h0M135.0 338.1h0M158.0 350.1h0M161.7 342.8h0M166.8 363.2h0M152.0 345.5h0M164.8 339.1h0M132.2 356.7h0M136.6 330.7h0M164.4 360.0h0M160.5 370.2h0M151.1 349.7h0M129.5 345.2h0M160.4 326.2h0M149.6 325.2h0M158.9 333.5h0M126.5 349.4h0M158.5 332.9h0M125.0 353.3h0M154.8 337.6h0M137.1 340.8h0M156.5 347.5h0M158.7 367.2h0M123.7 347.4h0M132.1 368.9h0M162.9 366.9h0M161.8 330.6h0M145.6 330.1h0M149.7 339.4h0M161.8 331.6h0M141.0 359.0h0M163.9 362.0h0M147.5 362.7h0M156.1 349.7h0M143.8 366.6h0M132.4 362.7h0M167.5 372.1h0M143.4 360.4h0M155.1 371.0h0M160.2 330.7h0" stroke="#2c5cff" stroke-width="1.4" stroke-linecap="round" fill="none"/>
<rect x="156.8" y="368.8" width="8.5" height="1.6" fill="#f4f4f4" />
<rect x="118.9" y="375.2" width="50.5" height="50.4" fill="#000" />
<path d="M153.6 417.8h0M128.6 415.2h0M125.5 423.7h0M165.7 416.2h0M120.7 392.5h0M154.3 414.0h0M166.6 385.7h0M147.5 384.3h0M136.3 410.9h0M156.6 416.9h0M141.9 414.4h0M143.9 398.0h0M154.0 400.6h0M159.7 397.0h0M120.9 396.4h0M136.8 408.9h0M133.9 416.2h0M126.8 423.6h0M129.7 378.5h0M153.0 420.8h0M164.7 397.6h0M127.8 414.4h0M147.4 397.2h0M155.6 419.4h0M161.2 414.7h0" stroke="#6c7c18" stroke-width="1.4" stroke-linecap="round" fill="none"/>
<path d="M127.4 385.4h0M164.3 418.4h0M160.1 376.6h0M137.4 423.1h0M149.7 419.5h0M156.3 423.5h0M142.9 399.1h0M141.3 396.6h0M146.7 392.8h0M147.3 385.1h0M142.6 385.4h0M129.8 386.3h0M148.2 398.5h0M123.5 390.8h0M152.7 421.1h0M156.4 419.5h0M143.1 408.5h0M156.5 394.0h0M157.1 417.6h0M154.3 398.0h0M123.8 398.2h0M131.3 413.2h0M141.7 391.3h0M165.7 384.9h0M148.9 407.0h0" stroke="#98b024" stroke-width="1.4" stroke-linecap="round" fill="none"/>
<path d="M165.4 378.7h0M150.7 389.8h0M153.3 422.3h0M162.4 423.9h0M144.9 397.4h0M143.3 381.2h0M148.5 397.6h0M153.0 407.4h0M158.7 390.1h0M160.4 383.9h0M160.7 416.2h0M155.1 424.2h0M142.3 400.8h0M131.1 403.3h0M151.1 401.1h0M147.7 410.6h0M152.3 420.6h0M163.6 404.7h0M160.5 398.6h0M149.7 403.0h0M162.6 395.0h0" stroke="#c0d834" stroke-width="1.4" stroke-linecap="round" fill="none"/>
<rect x="156.8" y="420.7" width="8.5" height="1.6" fill="#f4f4f4" />
<rect x="118.9" y="427.1" width="50.5" height="50.4" fill="#000208" />
<path d="M136.9 437.8h0M143.8 450.9h0M147.7 432.7h0M130.2 441.6h0M160.3 435.1h0M130.5 439.9h0M148.8 457.9h0M158.0 453.9h0M166.8 467.0h0M127.6 428.1h0M147.7 466.7h0M136.6 434.5h0M130.2 455.3h0M160.5 474.0h0M120.9 455.7h0M151.1 453.5h0M160.4 430.0h0M138.2 434.3h0M130.5 443.6h0M159.3 438.8h0M154.1 450.3h0M159.4 434.9h0M139.9 450.1h0M157.1 468.4h0M154.7 434.5h0M154.8 441.4h0M161.4 431.7h0M167.4 466.5h0M137.1 444.6h0M163.9 440.5h0M158.7 471.0h0M148.9 440.8h0M162.9 470.7h0M125.4 450.4h0M145.6 433.9h0M145.0 429.0h0M131.2 451.8h0M147.5 466.5h0M132.2 445.2h0M135.3 469.7h0M147.9 466.4h0M130.2 440.5h0M124.8 453.5h0M163.2 470.2h0M166.7 475.5h0M158.5 468.7h0M148.8 446.6h0M167.5 475.9h0M132.8 445.5h0M143.4 464.2h0M131.9 476.2h0M129.1 447.7h0M141.8 470.5h0M128.1 451.7h0" stroke="#0c2088" stroke-width="1.4" stroke-linecap="round" fill="none"/>
<path d="M139.2 445.7h0M142.8 433.6h0M139.4 446.6h0M158.7 466.4h0M165.5 470.3h0M129.6 448.8h0M127.5 451.0h0M148.6 473.4h0M140.5 470.0h0M166.1 462.9h0M135.2 459.0h0M132.1 445.6h0M127.1 450.4h0M159.0 433.3h0M161.7 446.6h0M152.0 449.3h0M143.8 464.8h0M131.3 445.0h0M166.9 469.5h0M150.2 451.1h0M150.4 461.4h0M129.5 449.0h0M162.4 431.5h0M126.6 435.1h0M149.6 429.0h0M158.9 437.3h0M164.3 464.8h0M143.5 468.1h0M125.0 457.1h0M154.8 433.2h0M138.2 443.6h0M150.8 433.4h0M143.5 445.3h0M162.0 470.0h0M123.7 451.2h0M168.4 465.7h0M133.0 448.9h0M132.1 472.7h0M164.9 460.1h0M132.5 475.4h0M149.7 443.2h0M123.7 452.1h0M141.0 462.8h0M157.2 476.1h0M134.2 469.3h0M156.1 453.5h0M143.8 470.4h0M146.2 471.3h0M132.4 466.5h0M159.5 469.8h0M158.9 440.4h0M128.8 461.6h0M157.2 476.3h0M137.5 468.9h0M157.9 455.2h0M149.7 475.5h0" stroke="#1430b0" stroke-width="1.4" stroke-linecap="round" fill="none"/>
<path d="M153.9 455.6h0M153.0 454.6h0M161.3 469.1h0M133.2 470.7h0M166.7 433.0h0M137.5 465.2h0M134.5 469.0h0M156.5 474.5h0M123.3 447.0h0M135.0 441.9h0M164.8 442.9h0M144.2 469.9h0M132.2 460.5h0M161.2 472.8h0M166.6 464.4h0M164.4 463.8h0M165.2 475.3h0M168.2 432.9h0M147.3 445.1h0M143.9 428.9h0M146.3 435.3h0M126.5 453.2h0M158.5 436.7h0M122.4 452.3h0M162.3 430.5h0M156.5 451.3h0M161.8 434.4h0M156.2 450.3h0M136.7 468.2h0M124.8 469.7h0M152.6 454.6h0M161.8 435.4h0M163.9 465.8h0M135.8 449.6h0M152.1 445.5h0M130.6 441.5h0M128.6 452.2h0M160.9 432.5h0M155.1 474.8h0M161.3 457.7h0M160.4 449.6h0M164.8 435.8h0M121.3 449.9h0M160.2 434.5h0M157.2 435.7h0M124.4 449.9h0M128.3 448.8h0M142.6 447.3h0M153.1 436.5h0" stroke="#1c40d0" stroke-width="1.4" stroke-linecap="round" fill="none"/>
<path d="M150.7 441.7h0M125.5 475.6h0M144.9 449.3h0M149.7 471.4h0M156.6 468.8h0M160.7 468.1h0M141.9 466.3h0M143.9 449.9h0M154.0 452.5h0M155.1 476.1h0M120.9 448.3h0M142.6 437.3h0M147.7 462.5h0M133.9 468.1h0M126.8 475.5h0M123.5 442.7h0M153.0 472.7h0M156.5 445.9h0M157.1 469.5h0M154.3 449.9h0M127.8 466.3h0M147.4 449.1h0M131.3 465.1h0M162.6 446.9h0M155.6 471.3h0" stroke="#1c8c38" stroke-width="1.4" stroke-linecap="round" fill="none"/>
<path d="M165.4 430.6h0M128.6 467.1h0M160.1 428.5h0M153.3 474.2h0M162.4 475.8h0M154.3 465.9h0M166.6 437.6h0M147.5 436.2h0M136.3 462.8h0M153.0 459.3h0M142.3 452.7h0M159.7 448.9h0M131.1 455.2h0M151.1 453.0h0M152.3 472.5h0M156.4 471.4h0M163.6 456.6h0M164.7 449.5h0M143.1 460.4h0M149.7 454.9h0M141.7 443.2h0" stroke="#28b048" stroke-width="1.4" stroke-linecap="round" fill="none"/>
<path d="M153.6 469.7h0M127.4 437.3h0M165.7 468.1h0M164.3 470.3h0M120.7 444.4h0M143.3 433.1h0M137.4 475.0h0M156.3 475.4h0M148.5 449.5h0M142.9 451.0h0M141.3 448.5h0M158.7 442.0h0M160.4 435.8h0M146.7 444.7h0M147.3 437.0h0M136.8 460.8h0M129.8 438.2h0M148.2 450.4h0M152.7 473.0h0M129.7 430.4h0M160.5 450.5h0M123.8 450.1h0M165.7 436.8h0M161.2 466.6h0M148.9 458.9h0" stroke="#44d468" stroke-width="1.4" stroke-linecap="round" fill="none"/>
<rect x="156.8" y="472.6" width="8.5" height="1.6" fill="#f4f4f4" />
<rect x="171.3" y="323.3" width="50.5" height="50.4" fill="#000" />
<path d="M200.1 348.6h0M185.6 338.1h0M215.2 360.4h0M183.6 327.6h0M187.8 342.1h0M200.6 356.4h0M202.3 333.2h0M205.4 327.8h0M207.5 357.4h0M175.9 371.6h0M207.0 343.1h0M214.5 343.2h0M192.3 364.3h0M188.4 368.1h0M189.0 345.6h0M205.1 366.8h0M207.2 329.9h0M185.2 332.0h0M198.1 357.6h0M198.1 341.6h0M193.5 332.7h0M201.2 341.0h0M176.4 333.4h0M172.5 335.3h0M186.6 348.7h0M220.0 340.9h0M190.5 337.2h0M181.7 347.3h0M173.8 366.0h0M177.7 348.5h0M183.0 357.7h0M220.5 329.6h0M208.5 357.5h0M174.3 325.6h0M190.7 366.8h0M194.0 368.7h0M216.7 336.7h0M207.5 364.8h0M174.9 357.4h0M198.6 360.0h0M186.2 344.9h0M212.6 340.9h0M205.5 372.8h0M179.5 333.9h0M175.1 360.5h0M212.7 360.7h0M220.5 335.5h0M211.5 369.7h0M202.0 343.3h0M172.4 325.2h0M207.6 340.4h0M180.6 345.5h0M208.6 358.5h0M190.4 347.2h0M178.9 346.6h0M199.1 329.9h0M189.0 357.3h0M178.7 363.2h0M179.6 332.9h0M184.6 366.5h0M196.5 351.5h0M192.2 356.3h0M172.3 333.5h0M208.3 336.6h0M210.6 342.6h0M210.6 327.5h0M198.1 331.4h0M172.4 368.3h0M203.6 367.4h0M193.9 365.9h0M212.2 324.9h0M197.8 359.0h0M175.8 346.3h0M206.6 361.9h0M208.9 324.3h0M208.1 327.5h0" stroke="#10289a" stroke-width="1.4" stroke-linecap="round" fill="none"/>
<path d="M219.0 341.9h0M205.8 350.4h0M202.7 354.4h0M179.4 353.5h0M199.9 342.3h0M210.7 365.1h0M210.5 347.6h0M183.1 372.8h0M205.6 328.7h0M198.9 354.2h0M204.7 351.3h0M183.7 331.6h0M179.2 360.5h0M187.8 341.4h0M202.8 327.5h0M211.6 338.1h0M202.0 371.0h0M200.7 352.2h0M209.0 355.7h0M217.9 336.4h0M202.4 371.5h0M202.7 331.0h0M208.7 330.8h0M197.2 348.7h0M176.3 366.2h0M174.2 351.3h0M192.8 371.7h0M205.0 372.4h0M214.9 364.0h0M177.9 354.4h0M188.7 353.9h0M188.0 368.4h0M173.7 362.8h0M211.5 363.9h0M205.0 327.0h0M187.4 329.9h0M194.3 343.8h0M208.0 327.8h0M187.9 355.7h0M203.8 356.8h0M189.1 334.2h0M172.3 359.3h0M219.0 345.4h0M219.0 326.9h0M209.8 351.7h0M206.3 324.1h0M207.2 342.5h0M185.7 345.3h0M218.7 369.2h0M198.9 365.6h0M207.6 355.8h0M185.8 335.0h0M220.6 356.6h0M213.2 372.9h0M208.6 363.2h0M186.1 355.1h0M174.9 356.0h0M205.0 364.2h0M179.7 325.8h0M198.4 340.6h0M188.3 335.6h0M209.9 346.6h0M199.4 338.1h0M202.5 328.6h0M195.6 368.8h0M182.6 356.8h0M176.5 358.7h0M199.0 341.0h0M201.0 366.9h0M193.0 330.2h0M213.5 347.7h0M187.8 344.4h0M212.6 333.9h0M214.7 328.4h0M177.1 371.9h0M178.6 350.8h0M206.2 360.3h0M214.2 354.0h0M203.7 359.5h0M187.3 356.3h0M201.1 335.5h0M193.7 335.5h0M204.7 352.2h0M195.8 340.1h0M176.3 358.3h0M173.5 329.4h0M177.9 365.7h0M216.2 367.1h0M185.3 340.2h0M190.6 362.1h0M184.8 368.7h0" stroke="#1838c0" stroke-width="1.4" stroke-linecap="round" fill="none"/>
<path d="M186.0 363.9h0M184.8 339.2h0M198.9 336.1h0M180.1 363.0h0M187.2 352.5h0M178.6 368.4h0M176.6 371.0h0M203.9 367.7h0M194.2 330.1h0M219.2 343.1h0M185.9 346.6h0M195.7 331.6h0M211.0 371.8h0M208.4 325.3h0M201.4 356.1h0M174.0 361.2h0M209.3 324.8h0M219.6 333.6h0M194.9 328.7h0M190.8 359.2h0M173.2 336.6h0M174.6 359.2h0M180.8 327.2h0M220.8 361.3h0M218.0 339.1h0M199.9 341.2h0M218.6 351.0h0M220.6 361.7h0M208.0 325.9h0M187.4 369.4h0M202.9 357.5h0M215.5 360.6h0M197.6 328.0h0M214.7 334.7h0M214.9 347.4h0M215.8 330.6h0M174.6 366.2h0M201.8 366.3h0M194.5 326.0h0M178.7 340.9h0M202.5 359.9h0M173.1 370.5h0M183.8 337.9h0M186.4 370.1h0M178.7 341.7h0M220.9 348.4h0M180.8 370.2h0M177.9 342.6h0M203.0 362.1h0M187.4 364.6h0M216.1 351.5h0M199.9 346.8h0M187.5 338.0h0M211.5 372.6h0M199.9 358.8h0M204.3 367.2h0M214.5 355.1h0M187.1 332.0h0M193.4 369.5h0M216.7 369.8h0M175.2 340.5h0M178.2 349.5h0M202.6 345.8h0M189.6 335.2h0M206.2 348.6h0M173.3 369.9h0M180.6 341.1h0M212.8 360.8h0M200.0 331.1h0M178.9 340.3h0M175.5 338.6h0M189.6 355.8h0M203.5 370.0h0M183.8 335.0h0" stroke="#2448e0" stroke-width="1.4" stroke-linecap="round" fill="none"/>
<rect x="209.2" y="368.8" width="8.5" height="1.6" fill="#f4f4f4" />
<rect x="171.3" y="375.2" width="50.5" height="50.4" fill="#000" />
<path d="M176.8 377.1h0M190.2 394.8h0M173.9 408.6h0M196.7 409.7h0M184.2 419.6h0M177.6 383.3h0M214.7 404.6h0M201.5 402.4h0M176.9 389.4h0M219.2 384.5h0M203.3 396.7h0M206.4 389.2h0M205.4 396.2h0M181.8 395.1h0M185.9 417.1h0M176.8 392.0h0M182.9 412.0h0M178.3 409.6h0M189.8 397.5h0M190.1 415.3h0M203.6 388.5h0M186.2 378.9h0M201.1 409.4h0M196.3 401.4h0M219.2 421.9h0M191.4 423.6h0M178.0 385.4h0M205.0 379.2h0M216.5 404.6h0M184.7 419.2h0M180.2 382.5h0M216.4 407.4h0M179.2 390.6h0M206.7 410.6h0M214.3 383.6h0M183.3 405.8h0M187.0 413.6h0M193.0 406.5h0M196.1 384.2h0M175.3 419.5h0M202.9 387.4h0M176.1 409.8h0M207.0 406.9h0M196.9 396.7h0M200.3 401.8h0M218.5 403.0h0M201.8 389.6h0M191.2 377.8h0M194.1 424.3h0M178.6 391.7h0M186.4 400.0h0M216.9 388.5h0M180.5 421.2h0M194.4 386.0h0M180.8 378.6h0M199.1 419.0h0M204.4 391.3h0M214.2 380.5h0M203.2 385.6h0M208.8 386.2h0M216.2 407.5h0M173.5 401.6h0M188.3 409.9h0M216.9 391.8h0M187.7 388.2h0M217.8 383.3h0M210.7 423.7h0M217.0 424.6h0M215.8 399.8h0M194.5 409.9h0M216.9 405.8h0M183.3 411.1h0M213.6 395.1h0M200.5 409.0h0M209.6 397.6h0M215.4 415.0h0M220.4 402.3h0M175.4 376.8h0M193.7 400.2h0M195.2 416.9h0M203.2 378.4h0M221.0 401.4h0" stroke="#6c7c18" stroke-width="1.4" stroke-linecap="round" fill="none"/>
<path d="M176.7 406.8h0M216.8 413.8h0M180.6 404.6h0M214.9 384.4h0M211.4 391.5h0M215.7 402.6h0M182.7 386.6h0M208.1 388.1h0M209.6 403.7h0M205.5 377.0h0M192.9 391.4h0M219.5 390.9h0M177.5 381.4h0M187.6 391.9h0M201.1 401.0h0M184.1 417.4h0M175.6 382.2h0M220.0 397.1h0M208.4 394.4h0M172.3 383.3h0M177.9 383.5h0M210.6 403.9h0M189.1 397.6h0M186.9 414.0h0M207.7 406.2h0M209.9 391.9h0M220.2 389.6h0M202.4 395.1h0M204.5 405.5h0M197.1 395.8h0M180.3 404.8h0M200.5 377.8h0M184.8 409.5h0M208.6 385.6h0M202.3 407.6h0M217.3 391.1h0M178.1 380.0h0M210.3 378.1h0M187.4 396.9h0M205.6 413.0h0M176.3 403.7h0M188.8 398.6h0M174.0 422.1h0M206.5 399.2h0M203.6 390.7h0M211.9 405.7h0M207.2 423.5h0M183.4 377.3h0M217.8 413.6h0M189.4 382.9h0M203.0 398.8h0M181.4 404.9h0M191.5 386.5h0M206.6 413.3h0M186.3 406.9h0M207.5 376.2h0M177.3 386.3h0M182.8 397.7h0M194.9 405.6h0M210.6 393.6h0M186.6 399.1h0M215.2 409.2h0M192.6 422.7h0M192.7 415.6h0M181.3 406.5h0M188.8 397.9h0M205.1 417.9h0M218.6 388.9h0M176.8 385.6h0M174.2 401.5h0M207.7 389.9h0M180.6 417.1h0M174.4 423.8h0M185.8 412.1h0M172.8 390.3h0M194.0 420.8h0M180.5 379.6h0M203.5 419.9h0M183.2 418.8h0M200.4 391.9h0M178.4 381.4h0M204.7 383.4h0M182.9 419.1h0M213.1 400.5h0M204.0 421.3h0M186.4 404.5h0" stroke="#98b024" stroke-width="1.4" stroke-linecap="round" fill="none"/>
<path d="M177.6 409.6h0M175.7 391.0h0M205.7 407.1h0M220.7 397.3h0M209.9 395.3h0M189.4 404.8h0M185.8 391.5h0M172.4 421.1h0M216.1 378.0h0M183.0 414.3h0M192.5 379.4h0M213.1 411.3h0M178.1 395.9h0M207.6 376.6h0M208.1 387.8h0M216.9 394.5h0M202.7 383.8h0M196.2 399.7h0M201.0 420.5h0M207.9 401.8h0M189.7 376.5h0M189.5 395.1h0M201.0 403.8h0M203.1 395.0h0M219.4 377.5h0M184.0 424.3h0M184.7 417.2h0M218.8 417.7h0M215.5 411.6h0M180.1 423.5h0M179.7 384.1h0M176.5 391.5h0M211.6 397.5h0M200.9 410.8h0M177.1 382.5h0M172.4 423.0h0M211.8 421.5h0M185.1 379.4h0M205.0 407.5h0M204.9 378.3h0M209.6 397.2h0M185.4 388.1h0M188.2 383.4h0M199.7 380.7h0M212.2 393.4h0M218.5 414.6h0M195.8 414.1h0M198.3 378.2h0M187.5 410.2h0M192.8 387.8h0M203.7 423.2h0M174.2 383.1h0M197.3 376.0h0M205.1 412.9h0M172.9 395.9h0M190.5 417.2h0M205.9 378.0h0M189.7 414.5h0M208.0 408.4h0M183.7 383.8h0M214.5 393.1h0M187.4 419.0h0M219.0 390.2h0M205.1 398.0h0M183.1 385.5h0M178.9 392.0h0M204.1 402.5h0M173.3 382.5h0M211.6 377.4h0M194.1 421.4h0M218.4 384.0h0M217.9 383.1h0M196.4 400.4h0M179.4 413.1h0M208.6 420.0h0M215.3 401.9h0M189.4 396.4h0M217.3 418.1h0M179.2 389.5h0M206.2 418.9h0" stroke="#c0d834" stroke-width="1.4" stroke-linecap="round" fill="none"/>
<rect x="209.2" y="420.7" width="8.5" height="1.6" fill="#f4f4f4" />
<rect x="171.3" y="427.1" width="50.5" height="50.4" fill="#000208" />
<path d="M200.1 452.4h0M202.7 458.2h0M198.9 439.9h0M180.1 466.8h0M215.2 464.2h0M183.6 431.4h0M179.4 457.3h0M176.6 474.8h0M203.9 471.5h0M205.4 431.6h0M219.2 446.9h0M185.9 450.4h0M210.7 468.9h0M210.5 451.4h0M208.4 429.1h0M205.6 432.5h0M204.7 455.1h0M179.2 464.3h0M187.8 445.2h0M202.8 431.3h0M202.0 474.8h0M201.4 459.9h0M200.7 456.0h0M202.4 475.3h0M202.7 434.8h0M190.8 463.0h0M208.7 434.6h0M174.2 455.1h0M220.8 465.1h0M190.5 441.0h0M218.6 454.8h0M214.9 467.8h0M183.0 461.5h0M211.5 467.7h0M197.6 431.8h0M208.5 461.3h0M174.3 429.4h0M215.8 434.4h0M194.5 429.8h0M172.3 463.1h0M219.0 449.2h0M186.2 448.7h0M209.8 455.5h0M205.5 476.6h0M212.7 464.5h0M211.5 473.5h0M172.4 429.0h0M207.6 444.2h0M213.2 476.7h0M203.0 465.9h0M187.4 468.4h0M216.1 455.3h0M188.3 439.4h0M208.6 462.3h0M190.4 451.0h0M209.9 450.4h0M179.6 436.7h0M199.9 462.6h0M195.6 472.6h0M187.1 435.8h0M182.6 460.6h0M199.0 444.8h0M193.0 434.0h0M208.3 440.4h0M210.6 446.4h0M187.8 448.2h0M178.2 453.3h0M177.1 475.7h0M198.1 435.2h0M178.6 454.6h0M202.6 449.6h0M206.2 452.4h0M173.3 473.7h0M180.6 444.9h0M212.8 464.6h0M197.8 462.8h0M204.7 456.0h0M175.8 450.1h0M176.3 462.1h0M175.5 442.4h0M184.8 472.5h0" stroke="#0c2088" stroke-width="1.4" stroke-linecap="round" fill="none"/>
<path d="M185.6 441.9h0M186.0 467.7h0M205.8 454.2h0M178.6 472.2h0M211.0 475.6h0M183.1 476.6h0M188.4 471.9h0M198.9 458.0h0M183.7 435.4h0M207.2 433.7h0M185.2 435.8h0M174.0 465.0h0M194.9 432.5h0M198.1 445.4h0M217.9 440.2h0M193.5 436.5h0M174.6 463.0h0M180.8 431.0h0M176.4 437.2h0M176.3 470.0h0M172.5 439.1h0M192.8 475.5h0M218.0 442.9h0M220.6 465.5h0M177.7 452.3h0M188.7 457.7h0M188.0 472.2h0M208.0 429.7h0M187.4 473.2h0M220.5 433.4h0M202.9 461.3h0M215.5 464.4h0M187.4 433.7h0M190.7 470.6h0M216.7 440.5h0M174.6 470.0h0M201.8 470.1h0M187.9 459.5h0M174.9 461.2h0M203.8 460.6h0M189.1 438.0h0M178.7 444.7h0M202.5 463.7h0M173.1 474.3h0M212.6 444.7h0M206.3 427.9h0M183.8 441.7h0M198.9 469.4h0M179.5 437.7h0M175.1 464.3h0M207.6 459.6h0M185.8 438.8h0M208.6 467.0h0M178.7 445.5h0M174.9 459.8h0M177.9 446.4h0M179.7 429.6h0M180.6 449.3h0M178.9 450.4h0M199.4 441.9h0M202.5 432.4h0M214.5 458.9h0M201.0 470.7h0M216.7 473.6h0M213.5 451.5h0M172.3 437.3h0M175.2 444.3h0M212.6 437.7h0M203.6 471.2h0M189.6 439.0h0M206.2 464.1h0M200.0 434.9h0M203.7 463.3h0M187.3 460.1h0M193.7 439.3h0M206.6 465.7h0M173.5 433.2h0M185.3 444.0h0M203.5 473.8h0M183.8 438.8h0" stroke="#1430b0" stroke-width="1.4" stroke-linecap="round" fill="none"/>
<path d="M219.0 445.7h0M184.8 443.0h0M187.2 456.3h0M187.8 445.9h0M199.9 446.1h0M200.6 460.2h0M202.3 437.0h0M194.2 433.9h0M207.5 461.2h0M175.9 475.4h0M195.7 435.4h0M207.0 446.9h0M214.5 447.0h0M192.3 468.1h0M189.0 449.4h0M205.1 470.6h0M211.6 441.9h0M209.3 428.6h0M219.6 437.4h0M198.1 461.4h0M209.0 459.5h0M201.2 444.8h0M173.2 440.4h0M197.2 452.5h0M186.6 452.5h0M220.0 444.7h0M199.9 445.0h0M181.7 451.1h0M173.8 469.8h0M205.0 476.2h0M177.9 458.2h0M173.7 466.6h0M205.0 430.8h0M214.7 438.5h0M194.3 447.6h0M214.9 451.2h0M208.0 431.6h0M194.0 472.5h0M207.5 468.6h0M198.6 463.8h0M219.0 430.7h0M207.2 446.3h0M185.7 449.1h0M218.7 473.0h0M220.5 439.3h0M186.4 473.9h0M202.0 447.1h0M220.6 460.4h0M186.1 458.9h0M220.9 452.2h0M180.8 474.0h0M205.0 468.0h0M198.4 444.4h0M199.9 450.6h0M199.1 433.7h0M187.5 441.8h0M211.5 476.4h0M189.0 461.1h0M178.7 467.0h0M184.6 470.3h0M204.3 471.0h0M196.5 455.3h0M176.5 462.5h0M192.2 460.1h0M193.4 473.3h0M210.6 431.3h0M214.7 432.2h0M172.4 472.1h0M193.9 469.7h0M212.2 428.7h0M214.2 457.8h0M178.9 444.1h0M201.1 439.3h0M195.8 443.9h0M208.9 428.1h0M208.1 431.3h0M177.9 469.5h0M216.2 470.9h0M189.6 459.6h0M190.6 465.9h0" stroke="#1c40d0" stroke-width="1.4" stroke-linecap="round" fill="none"/>
<path d="M216.8 465.7h0M173.9 460.5h0M211.4 443.4h0M215.7 454.5h0M216.1 429.9h0M192.5 431.3h0M214.7 456.5h0M201.5 454.3h0M213.1 463.2h0M176.9 441.3h0M209.6 455.6h0M203.3 448.6h0M192.9 443.3h0M205.4 448.1h0M187.6 443.8h0M182.9 463.9h0M196.2 451.6h0M201.1 452.9h0M184.1 469.3h0M189.8 449.4h0M203.6 440.4h0M208.4 446.3h0M201.0 455.7h0M210.6 455.8h0M196.3 453.3h0M189.1 449.5h0M219.2 473.8h0M218.8 469.6h0M209.9 443.8h0M216.5 456.5h0M220.2 441.5h0M180.2 434.4h0M216.4 459.3h0M197.1 447.7h0M180.3 456.7h0M211.6 449.4h0M184.8 461.4h0M177.1 434.4h0M208.6 437.5h0M217.3 443.0h0M178.1 431.9h0M187.0 465.5h0M193.0 458.4h0M210.3 430.0h0M185.1 431.3h0M176.1 461.7h0M207.0 458.8h0M196.9 448.6h0M209.6 449.1h0M185.4 440.0h0M218.5 454.9h0M201.8 441.5h0M188.8 450.5h0M218.5 466.5h0M206.5 451.1h0M187.5 462.1h0M203.6 442.6h0M192.8 439.7h0M203.7 475.1h0M180.8 430.5h0M174.2 435.0h0M191.5 438.4h0M205.1 464.8h0M194.9 457.5h0M210.6 445.5h0M215.2 461.1h0M192.6 474.6h0M188.3 461.8h0M188.8 449.8h0M208.0 460.3h0M207.7 441.8h0M180.6 469.0h0M217.8 435.2h0M214.5 445.0h0M185.8 464.0h0M178.9 443.9h0M180.5 431.5h0M218.4 435.9h0M200.4 443.8h0M183.3 463.0h0M213.6 447.0h0M196.4 452.3h0M209.6 449.5h0M179.4 465.0h0M204.7 435.3h0M217.3 470.0h0M204.0 473.2h0M179.2 441.4h0M203.2 430.3h0" stroke="#1c8c38" stroke-width="1.4" stroke-linecap="round" fill="none"/>
<path d="M177.6 461.5h0M176.7 458.7h0M205.7 459.0h0M176.8 429.0h0M190.2 446.7h0M220.7 449.2h0M196.7 461.6h0M189.4 456.7h0M172.4 473.0h0M182.7 438.5h0M183.0 466.2h0M219.2 436.4h0M206.4 441.1h0M219.5 442.8h0M216.9 446.4h0M181.8 447.0h0M202.7 435.7h0M207.9 453.7h0M190.1 467.2h0M201.1 461.3h0M203.1 446.9h0M191.4 475.5h0M184.7 469.1h0M178.0 437.3h0M202.4 447.0h0M204.5 457.4h0M179.2 442.5h0M206.7 462.5h0M176.5 443.4h0M200.5 429.7h0M200.9 462.7h0M214.3 435.5h0M183.3 457.7h0M172.4 474.9h0M211.8 473.4h0M196.1 436.1h0M175.3 471.4h0M187.4 448.8h0M204.9 430.2h0M212.2 445.3h0M194.1 476.2h0M178.6 443.6h0M195.8 466.0h0M198.3 430.1h0M216.9 440.4h0M183.4 429.2h0M199.1 470.9h0M181.4 456.8h0M186.3 458.8h0M207.5 428.1h0M177.3 438.2h0M205.9 429.9h0M203.2 437.5h0M173.5 453.5h0M192.7 467.5h0M187.7 440.1h0M218.6 440.8h0M176.8 437.5h0M174.2 453.4h0M210.7 475.6h0M183.7 435.7h0M174.4 475.7h0M215.8 451.7h0M205.1 449.9h0M183.1 437.4h0M172.8 442.2h0M194.5 461.8h0M204.1 454.4h0M194.1 473.3h0M217.9 435.0h0M215.4 466.9h0M220.4 454.2h0M175.4 428.7h0M193.7 452.1h0M182.9 471.0h0M206.2 470.8h0M221.0 453.3h0" stroke="#28b048" stroke-width="1.4" stroke-linecap="round" fill="none"/>
<path d="M175.7 442.9h0M209.9 447.2h0M180.6 456.5h0M185.8 443.4h0M214.9 436.3h0M184.2 471.5h0M177.6 435.2h0M208.1 440.0h0M205.5 428.9h0M178.1 447.8h0M207.6 428.5h0M208.1 439.7h0M177.5 433.3h0M185.9 469.0h0M176.8 443.9h0M201.0 472.4h0M178.3 461.5h0M175.6 434.1h0M220.0 449.0h0M189.7 428.4h0M186.2 430.8h0M172.3 435.2h0M189.5 447.0h0M177.9 435.4h0M219.4 429.4h0M184.0 476.2h0M186.9 465.9h0M205.0 431.1h0M207.7 458.1h0M184.7 471.1h0M215.5 463.5h0M180.1 475.4h0M179.7 436.0h0M202.3 459.5h0M205.6 464.9h0M202.9 439.3h0M205.0 459.4h0M200.3 453.7h0M176.3 455.6h0M188.2 435.3h0M199.7 432.6h0M191.2 429.7h0M174.0 474.0h0M186.4 451.9h0M211.9 457.6h0M207.2 475.4h0M180.5 473.1h0M194.4 437.9h0M217.8 465.5h0M189.4 434.8h0M204.4 443.2h0M203.0 450.7h0M197.3 427.9h0M214.2 432.4h0M172.9 447.8h0M206.6 465.2h0M190.5 469.1h0M182.8 449.6h0M189.7 466.4h0M186.6 451.0h0M208.8 438.1h0M216.2 459.4h0M181.3 458.4h0M216.9 443.7h0M205.1 469.8h0M217.0 476.5h0M187.4 470.9h0M219.0 442.1h0M194.0 472.7h0M173.3 434.4h0M203.5 471.8h0M211.6 429.3h0M183.2 470.7h0M216.9 457.7h0M178.4 433.3h0M200.5 460.9h0M208.6 471.9h0M213.1 452.4h0M215.3 453.8h0M189.4 448.3h0M195.2 468.8h0M186.4 456.4h0" stroke="#44d468" stroke-width="1.4" stroke-linecap="round" fill="none"/>
<rect x="209.2" y="472.6" width="8.5" height="1.6" fill="#f4f4f4" />
<rect x="227.7" y="323.3" width="50.5" height="50.4" fill="#000" />
<path d="M256.4 348.5h0M244.3 361.8h0M259.6 352.0h0M244.8 333.7h0M266.2 332.7h0M255.1 327.2h0M251.8 340.3h0M259.2 355.4h0M254.6 335.8h0M237.6 362.1h0M234.4 334.3h0M257.7 330.5h0M264.3 336.5h0M251.6 352.5h0M255.5 346.1h0M267.5 358.9h0M229.4 334.9h0M268.3 330.7h0M231.6 329.9h0M259.7 335.0h0M246.6 357.3h0M265.0 325.9h0M240.7 356.6h0M241.6 327.5h0M244.2 346.3h0M230.2 365.5h0M266.8 365.0h0M262.4 354.5h0M243.9 362.3h0M245.1 325.2h0M245.0 361.9h0M273.8 352.4h0M242.7 367.7h0M257.6 368.0h0M240.5 358.6h0M245.1 342.8h0M230.5 330.6h0M239.7 372.5h0M255.5 347.9h0M255.5 336.5h0M231.0 352.1h0M253.7 369.8h0M253.1 361.2h0M246.0 362.0h0M232.5 333.6h0M235.5 331.9h0M236.5 330.4h0M246.5 370.7h0M250.2 332.8h0M268.4 371.5h0M259.9 352.3h0M228.5 359.5h0M255.6 369.5h0M264.9 361.1h0M266.7 370.1h0M231.0 331.1h0M277.4 333.3h0M234.6 355.7h0M257.4 357.3h0M257.0 354.3h0M256.3 365.8h0M262.9 334.1h0M246.1 364.6h0M259.2 328.7h0M263.7 356.3h0M248.5 372.2h0M247.0 362.8h0M265.3 357.7h0M266.5 362.6h0M267.9 343.3h0M228.6 345.6h0M271.7 336.9h0M266.4 349.7h0M249.9 328.7h0M246.5 327.3h0M270.3 362.6h0M267.9 357.8h0" stroke="#1430a8" stroke-width="1.4" stroke-linecap="round" fill="none"/>
<path d="M235.3 367.5h0M238.3 355.7h0M274.2 336.7h0M258.8 328.5h0M242.6 363.5h0M265.8 367.0h0M236.4 338.0h0M268.8 357.6h0M269.9 346.6h0M262.7 360.4h0M269.3 334.0h0M240.8 340.0h0M257.8 347.7h0M239.1 351.3h0M245.2 342.1h0M272.9 366.0h0M238.3 337.7h0M267.8 335.0h0M232.2 369.2h0M259.6 335.4h0M265.7 333.7h0M264.5 372.3h0M244.2 354.5h0M265.3 353.6h0M235.5 333.8h0M247.4 331.1h0M256.4 354.2h0M234.4 330.7h0M268.3 337.2h0M270.7 372.6h0M269.6 353.1h0M234.5 366.6h0M259.5 334.8h0M251.1 368.8h0M238.7 327.7h0M258.1 327.6h0M236.8 333.4h0M243.0 359.3h0M268.3 363.2h0M266.9 331.3h0M246.7 355.0h0M265.2 352.4h0M253.5 331.2h0M241.0 332.4h0M273.3 355.1h0M248.5 329.9h0M237.0 332.3h0M252.0 329.4h0M265.9 362.6h0M277.3 335.1h0M261.9 331.0h0M242.2 363.0h0M265.3 365.4h0M253.0 327.3h0M269.0 337.5h0M230.8 329.2h0M253.0 347.5h0M244.6 366.5h0M266.6 362.4h0M264.4 365.4h0M254.8 335.2h0M237.3 356.1h0M250.6 325.0h0" stroke="#1c44d8" stroke-width="1.4" stroke-linecap="round" fill="none"/>
<path d="M235.5 358.2h0M244.1 365.0h0M245.0 368.1h0M262.7 335.7h0M276.0 356.6h0M245.1 363.2h0M262.2 363.4h0M261.2 361.0h0M244.2 326.2h0M248.6 354.5h0M270.8 334.2h0M241.3 356.0h0M247.4 362.5h0M240.7 364.4h0M246.0 328.7h0M249.8 332.2h0M234.5 332.3h0M245.5 352.6h0M264.3 349.0h0M233.7 343.6h0M248.3 325.4h0M256.4 341.0h0M263.2 366.8h0M267.9 335.9h0M237.5 366.4h0M248.4 354.4h0M266.5 354.0h0M239.8 333.0h0M255.2 324.7h0M273.1 332.7h0M268.3 366.5h0M242.2 348.8h0M263.5 363.3h0M234.8 335.8h0M250.2 325.8h0M250.6 356.4h0M252.6 333.0h0M253.0 329.6h0M256.1 336.6h0M248.4 336.0h0M248.3 328.4h0M261.5 354.7h0M260.1 372.4h0M243.6 351.4h0M256.3 351.9h0M270.7 331.8h0M233.2 344.1h0M236.3 335.3h0M263.2 364.9h0M234.5 359.7h0M267.9 351.8h0M272.6 349.1h0M236.6 364.8h0M259.0 347.1h0M273.4 337.6h0M258.2 326.4h0M257.3 352.0h0" stroke="#2c5cff" stroke-width="1.4" stroke-linecap="round" fill="none"/>
<rect x="265.6" y="368.8" width="8.5" height="1.6" fill="#f4f4f4" />
<rect x="227.7" y="375.2" width="50.5" height="50.4" fill="#000" />
<path d="M240.6 420.8h0M268.7 387.7h0M237.5 412.2h0M270.9 418.3h0M272.2 389.1h0M255.2 404.0h0M242.2 390.6h0M230.2 403.8h0M243.9 387.8h0M265.0 385.2h0M235.9 404.9h0M241.2 417.0h0M268.6 390.1h0" stroke="#6c7c18" stroke-width="1.4" stroke-linecap="round" fill="none"/>
<path d="M257.0 416.9h0M257.4 419.2h0M246.2 376.3h0M236.9 390.6h0M271.3 386.7h0M262.2 423.0h0M256.4 387.8h0M252.0 385.7h0M237.7 382.5h0M254.7 394.3h0M249.6 412.7h0M276.5 401.0h0M252.6 378.0h0" stroke="#98b024" stroke-width="1.4" stroke-linecap="round" fill="none"/>
<path d="M275.2 377.8h0M258.9 424.5h0M247.6 404.7h0M247.9 395.3h0M228.8 417.3h0M244.2 384.6h0" stroke="#c0d834" stroke-width="1.4" stroke-linecap="round" fill="none"/>
<rect x="265.6" y="420.7" width="8.5" height="1.6" fill="#f4f4f4" />
<rect x="227.7" y="427.1" width="50.5" height="50.4" fill="#000208" />
<path d="M256.4 452.3h0M235.3 471.3h0M266.2 436.5h0M258.8 432.3h0M259.2 459.2h0M245.1 467.0h0M262.2 467.2h0M261.2 464.8h0M236.4 441.8h0M234.4 438.1h0M262.7 464.2h0M255.5 449.9h0M270.8 438.0h0M247.4 466.3h0M268.3 434.5h0M246.0 432.5h0M246.6 461.1h0M245.5 456.4h0M264.3 452.8h0M241.6 431.3h0M259.6 439.2h0M248.3 429.2h0M265.7 437.5h0M264.5 476.1h0M244.2 458.3h0M247.4 434.9h0M256.4 458.0h0M263.2 470.6h0M245.0 465.7h0M234.4 434.5h0M273.8 456.2h0M269.6 456.9h0M257.6 471.8h0M266.5 457.8h0M239.7 476.3h0M255.5 440.3h0M255.2 428.5h0M253.1 465.0h0M246.0 465.8h0M236.8 437.2h0M268.3 470.3h0M232.5 437.4h0M235.5 435.7h0M236.5 434.2h0M250.6 460.2h0M252.6 436.8h0M256.1 440.4h0M268.4 475.3h0M248.3 432.2h0M253.5 435.0h0M264.9 464.9h0M237.0 436.1h0M270.7 435.6h0M233.2 447.9h0M263.7 460.1h0M247.0 466.6h0M265.3 469.2h0M267.9 455.6h0M269.0 441.3h0M267.9 447.1h0M244.6 470.3h0M266.6 466.2h0M271.7 440.7h0M266.4 453.5h0M236.6 468.6h0M249.9 432.5h0M246.5 431.1h0M258.2 430.2h0M267.9 461.6h0" stroke="#0c2088" stroke-width="1.4" stroke-linecap="round" fill="none"/>
<path d="M244.1 468.8h0M259.6 455.8h0M244.8 437.5h0M251.8 444.1h0M276.0 460.4h0M242.6 467.3h0M254.6 439.6h0M244.2 430.0h0M248.6 458.3h0M257.7 434.3h0M251.6 456.3h0M267.5 462.7h0M257.8 451.5h0M240.7 468.2h0M231.6 433.7h0M245.2 445.9h0M234.5 436.1h0M265.0 429.7h0M238.3 441.5h0M232.2 473.0h0M230.2 469.3h0M265.3 457.4h0M256.4 444.8h0M245.1 429.0h0M268.3 441.0h0M270.7 476.4h0M267.9 439.7h0M237.5 470.2h0M234.5 470.4h0M251.1 472.6h0M238.7 431.5h0M253.7 473.6h0M258.1 431.4h0M243.0 463.1h0M268.3 467.0h0M266.9 435.1h0M246.5 474.5h0M253.0 433.4h0M248.4 439.8h0M259.9 456.1h0M228.5 463.3h0M241.0 436.2h0M273.3 458.9h0M243.6 455.2h0M234.6 459.5h0M257.4 461.1h0M256.3 469.6h0M277.3 438.9h0M259.2 432.5h0M242.2 466.8h0M236.3 439.1h0M234.5 463.5h0M253.0 431.1h0M230.8 433.0h0M266.5 466.4h0M272.6 452.9h0M273.4 441.4h0M250.6 428.8h0M270.3 466.4h0M257.3 455.8h0" stroke="#1430b0" stroke-width="1.4" stroke-linecap="round" fill="none"/>
<path d="M235.5 462.0h0M244.3 465.6h0M255.1 431.0h0M238.3 459.5h0M245.0 471.9h0M262.7 439.5h0M274.2 440.5h0M265.8 470.8h0M237.6 465.9h0M268.8 461.4h0M269.9 450.4h0M264.3 440.3h0M269.3 437.8h0M240.8 443.8h0M241.3 459.8h0M229.4 438.7h0M259.7 438.8h0M239.1 455.1h0M249.8 436.0h0M272.9 469.8h0M240.7 460.4h0M267.8 438.8h0M244.2 450.1h0M233.7 447.4h0M266.8 468.8h0M262.4 458.3h0M235.5 437.6h0M243.9 466.1h0M242.7 471.5h0M240.5 462.4h0M248.4 458.2h0M245.1 446.6h0M230.5 434.4h0M255.5 451.7h0M239.8 436.8h0M259.5 438.6h0M231.0 455.9h0M273.1 436.5h0M242.2 452.6h0M263.5 467.1h0M234.8 439.6h0M250.2 429.6h0M250.2 436.6h0M246.7 458.8h0M265.2 456.2h0M261.5 458.5h0M255.6 473.3h0M260.1 476.2h0M266.7 473.9h0M231.0 434.9h0M277.4 437.1h0M248.5 433.7h0M257.0 458.1h0M256.3 455.7h0M252.0 433.2h0M262.9 437.9h0M265.9 466.4h0M246.1 468.4h0M261.9 434.8h0M248.5 476.0h0M263.2 468.7h0M265.3 461.5h0M253.0 451.3h0M228.6 449.4h0M264.4 469.2h0M254.8 439.0h0M237.3 459.9h0M259.0 450.9h0" stroke="#1c40d0" stroke-width="1.4" stroke-linecap="round" fill="none"/>
<path d="M257.0 468.8h0M246.2 428.2h0M240.6 472.7h0M268.7 439.6h0M236.9 442.5h0M272.2 441.0h0M255.2 455.9h0M237.7 434.4h0M276.5 452.9h0M265.0 437.1h0M252.6 429.9h0" stroke="#1c8c38" stroke-width="1.4" stroke-linecap="round" fill="none"/>
<path d="M257.4 471.1h0M275.2 429.7h0M247.6 456.6h0M271.3 438.6h0M270.9 470.2h0M262.2 474.9h0M256.4 439.7h0M252.0 437.6h0M228.8 469.2h0M230.2 455.7h0M254.7 446.2h0M243.9 439.7h0M249.6 464.6h0M244.2 436.5h0M268.6 442.0h0" stroke="#28b048" stroke-width="1.4" stroke-linecap="round" fill="none"/>
<path d="M258.9 476.4h0M237.5 464.1h0M247.9 447.2h0M242.2 442.5h0M235.9 456.8h0M241.2 468.9h0" stroke="#44d468" stroke-width="1.4" stroke-linecap="round" fill="none"/>
<rect x="265.6" y="472.6" width="8.5" height="1.6" fill="#f4f4f4" />
<rect x="280.6" y="323.3" width="50.5" height="50.4" fill="#000" />
<path d="M304.4 326.2h0M326.7 341.8h0M315.7 348.6h0M300.8 366.3h0M296.8 358.6h0M288.0 345.6h0M322.0 338.7h0M316.6 352.6h0M296.9 341.0h0M306.9 349.4h0M310.7 358.1h0M293.1 352.9h0M294.8 351.6h0M315.6 339.0h0M295.6 331.1h0M318.2 348.2h0M316.2 342.5h0M309.5 356.8h0M291.6 334.3h0M315.0 330.6h0M307.8 347.5h0M322.3 339.4h0M320.2 363.2h0M293.4 355.7h0M325.2 365.1h0M305.0 369.6h0M316.8 348.7h0M301.1 330.6h0M326.4 368.2h0M302.7 347.7h0M283.8 359.3h0M283.1 364.6h0M310.9 345.9h0M319.8 330.6h0M328.3 369.7h0M310.1 356.6h0M308.5 351.4h0M291.5 336.6h0M283.2 333.5h0M320.9 361.6h0M282.4 336.1h0M319.2 365.7h0M306.7 363.3h0M307.4 360.5h0M292.8 351.1h0M316.2 343.4h0M288.7 361.1h0M312.7 366.4h0M308.4 335.7h0M295.5 342.9h0M320.0 346.0h0M313.1 356.1h0M323.7 366.0h0M329.5 354.0h0M298.5 338.7h0M327.7 356.8h0M292.8 354.3h0M293.8 363.9h0M328.0 363.5h0M290.0 349.0h0M289.9 325.7h0M315.6 333.0h0M329.8 339.9h0M317.0 356.6h0M326.5 340.5h0M311.7 361.3h0M315.4 357.0h0M326.4 341.8h0M311.3 368.5h0M307.5 327.9h0M316.3 330.3h0M295.8 353.8h0M326.9 355.5h0M287.4 329.3h0M303.5 361.5h0M322.5 327.5h0M284.0 345.4h0M318.2 343.6h0M325.6 363.4h0M292.3 355.4h0M293.8 368.3h0M289.5 352.2h0M281.9 343.4h0M308.5 357.3h0M297.9 330.8h0M288.2 330.2h0M304.3 354.8h0M292.6 354.9h0M320.9 361.6h0M318.1 349.3h0M295.6 350.4h0M313.1 329.7h0M312.8 369.5h0M312.5 363.1h0M317.8 363.0h0M329.0 363.8h0M316.4 353.1h0M286.7 331.6h0M327.3 360.6h0M326.5 328.6h0M322.3 333.1h0M318.3 353.4h0M308.8 360.8h0M286.6 370.9h0M298.3 353.7h0" stroke="#1430a8" stroke-width="1.4" stroke-linecap="round" fill="none"/>
<path d="M316.4 350.1h0M324.8 362.4h0M320.6 336.7h0M310.2 361.7h0M301.8 331.4h0M306.1 368.3h0M291.4 361.2h0M295.6 348.3h0M312.0 329.3h0M318.1 353.3h0M323.8 363.9h0M293.9 362.5h0M307.1 352.8h0M306.0 359.2h0M319.7 342.2h0M288.6 359.7h0M284.8 368.3h0M289.6 356.4h0M312.6 326.9h0M319.1 340.7h0M323.6 364.2h0M322.2 355.8h0M314.9 356.5h0M285.9 359.1h0M317.3 326.9h0M320.0 365.9h0M317.2 337.3h0M319.6 341.0h0M307.9 352.7h0M294.0 361.0h0M308.9 350.0h0M304.8 331.5h0M311.5 343.1h0M289.6 343.7h0M310.4 363.2h0M302.9 344.1h0M291.1 352.6h0M308.4 357.9h0M308.7 363.5h0M290.4 340.3h0M308.9 330.8h0M313.6 346.5h0M305.9 346.4h0M311.9 326.0h0M308.6 347.7h0M306.4 361.0h0M321.9 361.1h0M310.0 359.3h0M294.0 350.0h0M290.1 367.5h0M329.0 353.2h0M299.9 368.8h0M295.5 351.0h0M293.8 346.2h0M327.6 364.7h0M309.0 335.9h0M322.9 359.9h0M304.4 363.0h0M321.8 351.8h0M307.3 336.8h0M286.8 355.2h0M322.2 364.1h0M282.2 334.4h0M305.1 359.2h0M307.1 359.7h0M315.1 351.1h0M316.9 340.0h0M316.6 348.9h0M327.4 366.6h0M283.5 369.7h0M300.5 325.9h0M321.0 357.8h0M294.1 368.6h0M329.1 366.9h0M289.1 360.6h0M306.7 355.7h0M305.4 365.9h0M317.7 351.1h0M310.9 362.2h0M296.5 325.0h0M310.0 359.1h0M297.6 367.1h0M313.9 350.4h0M308.1 352.0h0M315.1 352.2h0M316.2 342.5h0M324.7 340.1h0M287.7 358.6h0" stroke="#1c44d8" stroke-width="1.4" stroke-linecap="round" fill="none"/>
<path d="M298.7 354.4h0M316.9 342.0h0M305.4 362.6h0M328.5 367.8h0M292.3 359.3h0M321.3 338.2h0M309.9 354.1h0M290.7 344.7h0M317.8 370.0h0M316.3 365.6h0M292.0 363.1h0M291.7 346.8h0M317.1 341.5h0M318.4 340.9h0M310.5 352.2h0M321.5 364.6h0M326.2 363.0h0M327.0 367.3h0M310.3 354.6h0M320.8 369.3h0M314.9 325.7h0M296.5 362.7h0M320.6 341.4h0M299.2 353.9h0M327.9 355.3h0M288.5 356.6h0M305.1 355.5h0M315.8 338.7h0M287.8 357.1h0M307.6 369.6h0M323.4 354.2h0M327.8 353.6h0M322.4 354.6h0M297.0 343.8h0M318.5 361.4h0M292.9 332.4h0M324.8 359.6h0M321.8 336.7h0M322.0 367.9h0M311.1 365.0h0M308.4 357.1h0M295.7 363.8h0M323.1 366.5h0M287.7 348.1h0M305.8 356.8h0M292.6 372.3h0M310.3 337.7h0M295.6 352.4h0M291.6 363.7h0M288.4 328.2h0M282.1 353.1h0M293.9 367.6h0M287.8 339.0h0M317.3 343.0h0M285.3 363.7h0M300.7 354.1h0M301.9 324.6h0M307.7 338.3h0M293.4 337.9h0M321.5 362.7h0M315.9 342.1h0M295.9 351.6h0M306.8 353.8h0M310.1 326.2h0M284.0 331.4h0M295.9 356.9h0M319.1 353.2h0M320.6 361.5h0M320.9 345.7h0M317.4 342.6h0M291.3 355.4h0M325.2 366.6h0M295.9 348.5h0M284.6 351.3h0M308.6 346.5h0M311.6 345.8h0M310.4 354.8h0M316.6 341.0h0M294.9 347.3h0M287.4 342.1h0M324.1 365.7h0M306.7 344.3h0M282.8 370.1h0M290.2 357.1h0M306.2 361.5h0M312.7 336.0h0M309.0 358.1h0M297.4 351.0h0M305.8 341.6h0M288.4 338.5h0M313.6 351.2h0M324.5 360.3h0M321.3 364.7h0M304.5 328.0h0M307.7 363.0h0M289.8 358.5h0" stroke="#2c5cff" stroke-width="1.4" stroke-linecap="round" fill="none"/>
<rect x="318.5" y="368.8" width="8.5" height="1.6" fill="#f4f4f4" />
<rect x="280.6" y="375.2" width="50.5" height="50.4" fill="#000" />
<path d="M289.2 421.6h0M284.1 403.4h0M316.8 400.6h0M326.1 385.6h0M326.7 402.7h0M293.2 423.9h0M290.9 420.8h0M302.7 409.8h0M322.8 379.6h0M319.3 396.5h0M302.9 410.4h0M308.6 387.5h0M309.2 399.4h0M289.4 386.0h0M322.0 418.9h0M289.4 411.0h0M287.7 423.9h0M321.6 385.0h0M287.9 379.8h0M304.4 413.7h0M325.0 380.9h0M328.4 381.4h0M328.6 383.5h0M290.5 385.8h0M294.0 384.5h0M318.7 389.1h0M316.1 418.6h0M293.6 417.4h0M295.6 376.9h0M322.7 385.7h0M327.5 385.5h0M308.8 401.8h0M288.5 413.6h0M286.6 377.9h0M283.7 377.6h0M313.1 412.9h0M316.8 408.4h0M323.3 384.1h0M289.8 414.1h0M292.6 407.1h0M306.0 418.1h0M307.7 404.4h0M296.2 376.6h0M299.3 418.4h0M305.3 410.2h0M289.4 424.6h0M300.3 398.8h0M307.2 388.3h0M325.8 383.5h0M307.0 421.9h0M291.6 423.4h0M322.4 403.5h0M319.5 414.6h0M282.7 411.3h0M319.0 377.3h0M281.5 396.7h0M321.4 394.6h0M312.4 382.5h0M287.1 395.8h0" stroke="#6c7c18" stroke-width="1.4" stroke-linecap="round" fill="none"/>
<path d="M300.8 414.7h0M329.3 382.6h0M303.0 397.9h0M297.5 412.2h0M295.8 406.2h0M293.7 416.7h0M294.9 407.5h0M289.9 403.2h0M293.5 386.7h0M295.6 395.0h0M283.5 389.2h0M304.0 399.9h0M304.4 389.8h0M303.0 414.9h0M327.6 397.6h0M290.6 383.4h0M292.7 421.5h0M284.9 401.2h0M325.5 393.9h0M322.9 378.9h0M311.9 418.8h0M292.6 421.4h0M304.6 418.8h0M302.2 389.0h0M325.5 392.3h0M316.7 421.1h0M296.5 422.1h0M297.0 416.6h0M305.7 418.3h0M287.4 418.8h0M312.3 395.2h0M324.4 387.4h0M304.3 399.7h0M325.6 424.0h0M289.6 404.6h0M298.6 415.4h0M310.6 377.6h0M327.2 393.1h0M310.2 406.3h0M326.3 388.0h0M324.5 383.9h0M291.2 386.6h0M294.1 395.9h0M311.9 408.8h0M288.0 414.5h0M325.4 400.0h0M292.8 405.2h0M302.2 390.3h0M300.6 405.2h0M290.7 416.8h0M293.8 417.0h0M319.9 397.1h0M284.4 389.7h0M326.0 396.1h0M297.8 423.7h0M304.1 424.5h0M308.1 400.0h0M283.7 411.7h0M309.3 417.7h0M312.6 399.4h0M320.7 380.3h0M292.9 421.4h0M284.5 421.4h0M299.6 381.6h0M281.5 387.6h0M289.1 413.3h0M324.4 378.2h0M327.3 379.8h0M327.6 382.7h0M283.0 408.7h0M285.3 383.9h0M281.5 387.9h0M323.8 395.0h0M285.3 416.5h0M297.7 404.7h0M303.0 400.3h0M302.8 400.1h0M301.8 402.2h0M326.2 415.8h0M304.4 416.1h0M298.8 395.3h0M326.4 389.8h0M326.9 385.0h0" stroke="#98b024" stroke-width="1.4" stroke-linecap="round" fill="none"/>
<path d="M323.6 418.6h0M301.6 402.0h0M317.3 398.1h0M296.9 378.5h0M297.0 421.0h0M294.9 418.8h0M310.1 424.1h0M329.3 384.2h0M298.2 408.1h0M318.1 386.3h0M327.7 382.3h0M287.6 417.1h0M282.4 400.2h0M324.6 380.8h0M326.6 380.7h0M322.9 383.7h0M312.7 409.0h0M316.5 424.2h0M325.7 385.3h0M285.3 387.4h0M300.8 406.7h0M324.2 416.3h0M289.0 384.5h0M319.2 392.4h0M312.0 402.0h0M289.1 413.2h0M288.3 419.0h0M287.2 390.4h0M321.4 381.0h0M326.4 406.2h0M281.5 385.7h0M309.9 380.9h0M303.9 412.8h0M311.9 406.0h0M316.1 381.9h0M314.7 381.6h0M295.3 384.1h0M309.2 382.8h0M300.2 379.6h0M312.7 411.4h0M296.4 412.3h0M285.5 391.1h0M287.6 416.4h0M308.4 378.9h0M318.6 410.8h0M299.3 378.3h0M302.2 406.9h0M288.0 423.2h0M325.3 424.1h0M281.5 399.9h0M307.9 411.0h0M321.7 417.3h0M290.2 394.1h0M311.3 385.2h0M306.7 408.2h0M297.9 377.0h0M306.1 415.5h0M300.2 423.3h0M319.3 382.3h0M319.3 401.7h0M323.8 400.4h0M289.4 419.3h0M286.7 416.3h0M293.1 402.9h0M328.8 382.4h0M322.1 416.5h0M320.5 406.4h0M294.1 413.2h0M299.6 395.5h0M328.0 381.8h0M301.2 398.7h0M289.4 380.9h0M294.7 414.0h0M326.1 422.3h0" stroke="#c0d834" stroke-width="1.4" stroke-linecap="round" fill="none"/>
<rect x="318.5" y="420.7" width="8.5" height="1.6" fill="#f4f4f4" />
<rect x="280.6" y="427.1" width="50.5" height="50.4" fill="#000208" />
<path d="M298.7 458.2h0M324.8 466.2h0M315.7 452.4h0M296.8 462.4h0M305.4 466.4h0M328.5 471.6h0M288.0 449.4h0M290.7 448.5h0M292.0 466.9h0M310.7 461.9h0M318.4 444.7h0M295.6 452.1h0M315.6 442.8h0M318.2 452.0h0M284.8 472.1h0M327.0 471.1h0M312.6 430.7h0M309.5 460.6h0M319.1 444.5h0M315.0 434.4h0M299.2 457.7h0M323.6 468.0h0M322.2 459.6h0M307.8 451.3h0M327.9 459.1h0M320.2 467.0h0M288.5 460.4h0M325.2 468.9h0M316.8 452.5h0M305.1 459.3h0M301.1 434.4h0M326.4 472.0h0M307.6 473.4h0M307.9 456.5h0M283.1 468.4h0M308.9 453.8h0M311.5 446.9h0M297.0 447.6h0M310.1 460.4h0M291.5 440.4h0M322.0 471.7h0M308.7 467.3h0M320.9 465.4h0M282.4 439.9h0M306.7 467.1h0M308.4 460.9h0M307.4 464.3h0M308.9 434.6h0M323.1 470.3h0M308.4 439.5h0M305.8 460.6h0M292.6 476.1h0M295.6 456.2h0M311.9 429.8h0M298.5 442.5h0M288.4 432.0h0M282.1 456.9h0M308.6 451.5h0M306.4 464.8h0M321.9 464.9h0M300.7 457.9h0M293.8 450.0h0M301.9 428.4h0M307.7 442.1h0M327.6 468.5h0M309.0 439.7h0M311.7 465.1h0M322.9 463.7h0M304.4 466.8h0M315.4 460.8h0M321.8 455.6h0M286.8 459.0h0M322.2 467.9h0M295.9 455.4h0M295.9 460.7h0M307.1 463.5h0M311.3 472.3h0M295.8 457.6h0M325.2 470.4h0M284.6 455.1h0M287.4 433.1h0M316.9 443.8h0M316.6 452.7h0M308.6 450.3h0M303.5 465.3h0M322.5 431.3h0M300.5 429.7h0M284.0 449.2h0M293.8 472.1h0M321.0 461.6h0M294.1 472.4h0M281.9 447.2h0M306.7 459.5h0M306.7 448.1h0M308.5 461.1h0M282.8 473.9h0M304.3 458.6h0M309.0 461.9h0M297.4 454.8h0M305.8 445.4h0M288.4 442.3h0M310.9 466.0h0M296.5 428.8h0M310.0 462.9h0M313.6 455.0h0M297.6 470.9h0M313.9 454.2h0M317.8 466.8h0M304.5 431.8h0M307.7 466.8h0M308.1 455.8h0M316.4 456.9h0M326.5 432.4h0M322.3 436.9h0M316.2 446.3h0M318.3 457.2h0M287.7 462.4h0" stroke="#0c2088" stroke-width="1.4" stroke-linecap="round" fill="none"/>
<path d="M304.4 430.0h0M326.7 445.6h0M316.9 445.8h0M310.2 465.5h0M322.0 442.5h0M296.9 444.8h0M316.3 469.4h0M293.1 456.7h0M312.0 433.1h0M294.8 455.4h0M310.5 456.0h0M293.9 466.3h0M288.6 463.5h0M289.6 460.2h0M310.3 458.4h0M320.8 473.1h0M316.2 446.3h0M314.9 460.3h0M322.3 443.2h0M285.9 462.9h0M293.4 459.5h0M320.0 469.7h0M317.2 441.1h0M315.8 442.5h0M287.8 460.9h0M323.4 458.0h0M283.8 463.1h0M319.8 434.4h0M318.5 465.2h0M308.5 455.2h0M310.4 467.0h0M302.9 447.9h0M291.1 456.4h0M308.4 461.7h0M319.2 469.5h0M295.7 467.6h0M292.8 454.9h0M316.2 447.2h0M313.6 450.3h0M305.9 450.2h0M310.3 441.5h0M320.0 449.8h0M291.6 467.5h0M310.0 463.1h0M294.0 453.8h0M299.9 472.6h0M285.3 467.5h0M290.0 452.8h0M329.8 443.7h0M307.3 440.6h0M282.2 438.2h0M284.0 435.2h0M319.1 457.0h0M307.5 431.7h0M317.4 446.4h0M316.3 434.1h0M295.9 452.3h0M326.9 459.3h0M325.6 467.2h0M311.6 449.6h0M329.1 470.7h0M287.4 445.9h0M289.1 464.4h0M324.1 469.5h0M297.9 434.6h0M290.2 460.9h0M288.2 434.0h0M305.4 469.7h0M292.6 458.7h0M320.9 465.4h0M312.8 473.3h0M324.5 464.1h0M329.0 467.6h0M289.8 462.3h0M298.3 457.5h0M324.7 443.9h0" stroke="#1430b0" stroke-width="1.4" stroke-linecap="round" fill="none"/>
<path d="M316.4 453.9h0M320.6 440.5h0M300.8 470.1h0M292.3 463.1h0M321.3 442.0h0M301.8 435.2h0M316.6 456.4h0M309.9 457.9h0M306.9 453.2h0M306.1 472.1h0M317.8 473.8h0M291.7 450.6h0M317.1 445.3h0M291.4 465.0h0M318.1 457.1h0M295.6 434.9h0M323.8 467.7h0M307.1 456.6h0M321.5 468.4h0M306.0 463.0h0M319.7 446.0h0M326.2 466.8h0M314.9 429.5h0M296.5 466.5h0M320.6 445.2h0M291.6 438.1h0M317.3 430.7h0M305.0 473.4h0M319.6 444.8h0M302.7 451.5h0M327.8 457.4h0M310.9 449.7h0M294.0 464.8h0M328.3 473.5h0M304.8 435.3h0M322.4 458.4h0M292.9 436.2h0M324.8 463.4h0M321.8 440.5h0M283.2 437.3h0M289.6 447.5h0M311.1 468.8h0M290.4 444.1h0M288.7 464.9h0M312.7 470.2h0M295.5 446.7h0M287.7 451.9h0M313.1 459.9h0M323.7 469.8h0M329.5 457.8h0M327.7 460.6h0M293.9 471.4h0M292.8 458.1h0M287.8 442.8h0M317.3 446.8h0M293.8 467.7h0M290.1 471.3h0M329.0 457.0h0M328.0 467.3h0M295.5 454.8h0M289.9 429.5h0M315.6 436.8h0M317.0 460.4h0M326.5 444.3h0M293.4 441.7h0M321.5 466.5h0M315.9 445.9h0M326.4 445.6h0M305.1 463.0h0M306.8 457.6h0M310.1 430.0h0M320.6 465.3h0M320.9 449.5h0M315.1 454.9h0M291.3 459.2h0M327.4 470.4h0M283.5 473.5h0M318.2 447.4h0M292.3 459.2h0M310.4 458.6h0M289.5 456.0h0M316.6 444.8h0M294.9 451.1h0M306.2 465.3h0M312.7 439.8h0M317.7 454.9h0M318.1 453.1h0M295.6 454.2h0M313.1 433.5h0M312.5 466.9h0M321.3 468.5h0M286.7 435.4h0M327.3 464.4h0M315.1 456.0h0M308.8 464.6h0M286.6 474.7h0" stroke="#1c40d0" stroke-width="1.4" stroke-linecap="round" fill="none"/>
<path d="M326.1 437.5h0M329.3 434.5h0M303.0 449.8h0M317.3 450.0h0M296.9 430.4h0M329.3 436.1h0M290.9 472.7h0M297.5 464.1h0M294.9 459.4h0M298.2 460.0h0M293.5 438.6h0M318.1 438.2h0M283.5 441.1h0M304.0 451.8h0M304.4 441.7h0M303.0 466.8h0M309.2 451.3h0M289.4 437.9h0M324.6 432.7h0M284.9 453.1h0M312.7 460.9h0M287.7 475.8h0M311.9 470.7h0M321.6 436.9h0M325.7 437.2h0M292.6 473.3h0M304.6 470.7h0M300.8 458.6h0M325.0 432.8h0M305.7 470.2h0M312.0 453.9h0M324.4 439.3h0M304.3 451.6h0M289.6 456.5h0M281.5 437.6h0M309.9 432.8h0M298.6 467.3h0M303.9 464.7h0M311.9 457.9h0M293.6 469.3h0M327.5 437.4h0M294.1 447.8h0M311.9 460.7h0M286.6 429.8h0M296.4 464.2h0M325.4 451.9h0M285.5 443.0h0M292.8 457.1h0M313.1 464.8h0M290.7 468.7h0M319.9 449.0h0M318.6 462.7h0M288.0 475.1h0M308.1 451.9h0M325.3 476.0h0M307.9 462.9h0M321.7 469.2h0M290.2 446.0h0M312.6 451.3h0M306.7 460.1h0M306.1 467.4h0M319.3 434.2h0M327.3 431.7h0M307.2 440.2h0M297.7 456.6h0M307.0 473.8h0M303.0 452.2h0M320.5 458.3h0M299.6 447.4h0M319.5 466.5h0M282.7 463.2h0M319.0 429.2h0M321.4 446.5h0M304.4 468.0h0" stroke="#1c8c38" stroke-width="1.4" stroke-linecap="round" fill="none"/>
<path d="M284.1 455.3h0M293.2 475.8h0M301.6 453.9h0M297.0 472.9h0M310.1 476.0h0M295.8 458.1h0M289.9 455.1h0M302.7 461.7h0M322.8 431.5h0M295.6 446.9h0M319.3 448.4h0M308.6 439.4h0M327.7 434.2h0M287.6 469.0h0M327.6 449.5h0M282.4 452.1h0M322.0 470.8h0M292.7 473.4h0M289.4 462.9h0M325.5 444.2h0M285.3 439.3h0M296.5 474.0h0M324.2 468.2h0M287.4 470.7h0M289.0 436.4h0M319.2 444.3h0M287.2 442.3h0M325.6 475.9h0M316.1 470.5h0M310.6 429.5h0M310.2 458.2h0M326.3 439.9h0M316.1 433.8h0M295.3 436.0h0M324.5 435.8h0M291.2 438.5h0M308.8 453.7h0M288.5 465.5h0M287.6 468.3h0M300.6 457.1h0M316.8 460.3h0M293.8 468.9h0M284.4 441.6h0M299.3 430.2h0M289.8 466.0h0M304.1 476.4h0M302.2 458.8h0M292.6 459.0h0M309.3 469.6h0M311.3 437.1h0M307.7 456.3h0M292.9 473.3h0M281.5 439.5h0M300.2 475.2h0M305.3 462.1h0M289.1 465.2h0M324.4 430.1h0M319.3 453.6h0M323.8 452.3h0M289.4 471.2h0M327.6 434.6h0M293.1 454.8h0M283.0 460.6h0M285.3 435.8h0M325.8 435.4h0M285.3 468.4h0M291.6 475.3h0M328.8 434.3h0M302.8 452.0h0M328.0 433.7h0M281.5 448.6h0M301.2 450.6h0M289.4 432.8h0M326.1 474.2h0" stroke="#28b048" stroke-width="1.4" stroke-linecap="round" fill="none"/>
<path d="M289.2 473.5h0M300.8 466.6h0M316.8 452.5h0M323.6 470.5h0M326.7 454.6h0M294.9 470.7h0M293.7 468.6h0M302.9 462.3h0M290.6 435.3h0M326.6 432.6h0M325.5 445.8h0M322.9 435.6h0M322.9 430.8h0M316.5 476.1h0M287.9 431.7h0M302.2 440.9h0M304.4 465.6h0M316.7 473.0h0M297.0 468.5h0M328.4 433.3h0M312.3 447.1h0M328.6 435.4h0M289.1 465.1h0M290.5 437.7h0M294.0 436.4h0M288.3 470.9h0M321.4 432.9h0M326.4 458.1h0M318.7 441.0h0M327.2 445.0h0M314.7 433.5h0M295.6 428.8h0M309.2 434.7h0M322.7 437.6h0M300.2 431.5h0M312.7 463.3h0M288.0 466.4h0M283.7 429.5h0M308.4 430.8h0M302.2 442.2h0M323.3 436.0h0M326.0 448.0h0M297.8 475.6h0M283.7 463.6h0M281.5 451.8h0M306.0 470.0h0M296.2 428.5h0M297.9 428.9h0M320.7 432.2h0M284.5 473.3h0M299.3 470.3h0M299.6 433.5h0M289.4 476.5h0M286.7 468.2h0M300.3 450.7h0M281.5 439.8h0M323.8 446.9h0M322.1 468.4h0M294.1 465.1h0M322.4 455.4h0M301.8 454.1h0M326.2 467.7h0M294.7 465.9h0M298.8 447.2h0M326.4 441.7h0M312.4 434.4h0M287.1 447.7h0M326.9 436.9h0" stroke="#44d468" stroke-width="1.4" stroke-linecap="round" fill="none"/>
<rect x="318.5" y="472.6" width="8.5" height="1.6" fill="#f4f4f4" />
<rect x="65.9" y="509.6" width="50.5" height="50.4" fill="#000" filter="url(#ha)"/>
<rect x="103.8" y="555.1" width="8.5" height="1.6" fill="#f4f4f4" />
<rect x="65.9" y="562.2" width="50.5" height="50.4" fill="#000" />
<path d="M104.4 577.9h0M99.9 571.9h0M66.7 569.4h0M69.4 589.5h0M76.5 597.0h0M111.4 581.2h0M94.7 587.1h0M85.3 580.6h0M93.3 599.6h0M94.3 580.3h0M98.2 572.1h0M102.7 564.7h0M97.2 572.4h0M71.5 572.3h0M68.4 587.0h0M93.4 574.2h0M75.0 594.1h0M95.1 576.6h0M106.3 598.8h0M96.4 600.5h0M70.1 574.0h0M83.2 573.7h0M67.7 603.9h0M75.2 589.6h0M88.5 584.0h0M111.9 564.8h0M85.2 579.9h0M103.9 590.8h0M95.4 567.1h0M112.5 609.6h0M100.8 603.8h0M105.9 565.3h0M84.7 578.0h0M88.3 577.4h0M106.2 595.8h0M104.7 576.6h0M73.6 599.5h0M112.7 603.2h0M87.8 583.8h0M83.6 593.5h0M79.9 590.6h0M67.1 607.4h0M105.6 595.1h0M67.3 585.8h0M106.0 592.5h0M94.9 609.2h0M103.9 606.1h0M76.6 586.6h0M72.1 575.3h0M78.2 606.0h0M78.3 578.8h0M69.9 596.2h0M96.2 572.3h0M83.4 586.2h0M112.1 610.7h0M93.5 588.9h0M71.2 571.4h0M101.3 587.6h0M77.8 595.7h0M92.1 611.0h0M115.5 600.1h0M75.8 606.6h0" stroke="#6c7c18" stroke-width="1.25" stroke-linecap="round" fill="none"/>
<path d="M92.1 578.4h0M84.3 573.1h0M115.1 602.2h0M105.3 579.1h0M108.7 569.2h0M108.7 573.7h0M95.0 567.7h0M97.1 606.6h0M73.5 579.4h0M79.4 610.2h0M99.5 568.7h0M100.5 607.9h0M72.2 566.1h0M83.8 566.9h0M76.3 574.3h0M111.2 608.8h0M76.0 588.6h0M108.6 593.4h0M76.8 596.8h0M104.9 585.5h0M108.3 580.3h0M81.2 600.2h0M106.8 590.2h0M94.9 595.3h0M98.7 597.5h0M94.5 583.8h0M93.9 582.3h0M113.6 605.6h0M110.5 606.9h0M104.2 565.4h0M105.6 577.7h0M100.5 592.6h0M114.3 574.1h0M87.3 573.9h0M94.6 599.3h0M72.0 577.6h0M88.5 566.2h0M87.4 568.2h0M110.3 608.0h0M93.2 587.8h0M81.4 585.1h0M83.1 596.9h0M87.9 571.1h0M76.4 565.0h0M104.1 578.3h0M68.7 576.5h0M107.8 585.6h0M67.3 584.2h0M70.3 603.5h0M72.1 594.2h0M94.7 594.5h0M74.1 591.1h0" stroke="#98b024" stroke-width="1.25" stroke-linecap="round" fill="none"/>
<path d="M104.0 594.7h0M87.8 610.6h0M89.8 581.2h0M91.2 600.5h0M77.6 567.1h0M111.1 582.6h0M89.9 588.8h0M109.3 581.3h0M70.7 592.0h0M112.8 605.9h0M91.0 568.0h0M107.0 589.3h0M103.0 567.4h0M85.3 582.9h0M77.0 567.3h0M102.6 572.1h0M94.8 580.4h0M88.6 566.2h0M71.5 601.5h0M112.0 574.8h0M82.6 607.3h0M102.5 603.4h0M71.8 607.1h0M103.5 581.4h0M67.7 592.2h0M102.7 601.1h0M91.1 571.7h0M109.2 600.8h0M74.7 609.4h0M78.0 572.9h0M90.1 571.9h0M111.8 598.2h0M114.5 608.1h0M102.5 604.5h0M71.5 579.5h0M81.7 569.9h0M90.5 591.9h0M74.8 578.2h0M110.3 610.9h0M107.0 568.8h0M99.4 609.2h0M114.3 591.5h0M97.7 566.5h0M88.6 580.5h0M68.8 603.2h0M77.7 581.6h0M106.9 595.8h0M114.7 587.1h0M91.4 593.2h0" stroke="#c0d834" stroke-width="1.25" stroke-linecap="round" fill="none"/>
<rect x="103.8" y="607.7" width="8.5" height="1.6" fill="#f4f4f4" />
<rect x="65.9" y="614.8" width="50.5" height="50.4" fill="#000" filter="url(#ha)"/>
<path d="M104.4 630.5h0M89.8 633.8h0M111.4 633.8h0M91.2 653.1h0M77.6 619.7h0M111.1 635.2h0M94.3 632.9h0M102.7 617.3h0M97.1 659.2h0M93.4 626.8h0M73.5 632.0h0M75.0 646.7h0M100.5 660.5h0M83.8 619.5h0M102.6 624.7h0M76.3 626.9h0M111.2 661.4h0M76.0 641.2h0M108.6 646.0h0M111.9 617.4h0M85.2 632.5h0M112.5 662.2h0M82.6 659.9h0M88.3 630.0h0M106.2 648.4h0M71.8 659.7h0M102.7 653.7h0M93.9 634.9h0M73.6 652.1h0M87.8 636.4h0M110.5 659.5h0M83.6 646.1h0M79.9 643.2h0M67.1 660.0h0M100.5 645.2h0M90.1 624.5h0M103.9 658.7h0M71.5 632.1h0M72.1 627.9h0M107.0 621.4h0M104.1 630.9h0M99.4 661.8h0M114.3 644.1h0M88.6 633.1h0M68.8 655.8h0M78.3 631.4h0M77.7 634.2h0M83.4 638.8h0M92.1 663.6h0M70.3 656.1h0M74.1 643.7h0" stroke="#1c8c38" stroke-width="1.25" stroke-linecap="round" fill="none"/>
<path d="M92.1 631.0h0M87.8 663.2h0M66.7 622.0h0M115.1 654.8h0M105.3 631.7h0M76.5 649.6h0M94.7 639.7h0M85.3 633.2h0M93.3 652.2h0M108.7 626.3h0M98.2 624.7h0M97.2 625.0h0M109.3 633.9h0M112.8 658.5h0M91.0 620.6h0M107.0 641.9h0M106.3 651.4h0M96.4 653.1h0M70.1 626.6h0M103.0 620.0h0M99.5 621.3h0M72.2 618.7h0M77.0 619.9h0M83.2 626.3h0M76.8 649.4h0M75.2 642.2h0M104.9 638.1h0M88.6 618.8h0M88.5 636.6h0M100.8 656.4h0M84.7 630.6h0M98.7 650.1h0M94.5 636.4h0M67.7 644.8h0M91.1 624.3h0M104.7 629.2h0M113.6 658.2h0M112.7 655.8h0M74.7 662.0h0M114.3 626.7h0M87.3 626.5h0M94.6 651.9h0M94.9 661.8h0M78.0 625.5h0M72.0 630.2h0M88.5 618.8h0M114.5 660.7h0M110.3 660.6h0M93.2 640.4h0M74.8 630.8h0M87.9 623.7h0M76.4 617.6h0M110.3 663.5h0M78.2 658.6h0M97.7 619.1h0M107.8 638.2h0M96.2 624.9h0M112.1 663.3h0M71.2 624.0h0M77.8 648.3h0M72.1 646.8h0" stroke="#28b048" stroke-width="1.25" stroke-linecap="round" fill="none"/>
<path d="M104.0 647.3h0M84.3 625.7h0M99.9 624.5h0M69.4 642.1h0M108.7 621.8h0M89.9 641.4h0M95.0 620.3h0M71.5 624.9h0M70.7 644.6h0M68.4 639.6h0M95.1 629.2h0M79.4 662.8h0M85.3 635.5h0M67.7 656.5h0M94.8 633.0h0M71.5 654.1h0M108.3 632.9h0M81.2 652.8h0M112.0 627.4h0M103.9 643.4h0M95.4 619.7h0M106.8 642.8h0M105.9 617.9h0M94.9 647.9h0M102.5 656.0h0M103.5 634.0h0M109.2 653.4h0M104.2 618.0h0M105.6 630.3h0M105.6 647.7h0M67.3 638.4h0M106.0 645.1h0M87.4 620.8h0M111.8 650.8h0M102.5 657.1h0M76.6 639.2h0M81.4 637.7h0M81.7 622.5h0M90.5 644.5h0M83.1 649.5h0M68.7 629.1h0M69.9 648.8h0M93.5 641.5h0M67.3 636.8h0M106.9 648.4h0M101.3 640.2h0M114.7 639.7h0M115.5 652.7h0M75.8 659.2h0M91.4 645.8h0M94.7 647.1h0" stroke="#44d468" stroke-width="1.25" stroke-linecap="round" fill="none"/>
<rect x="103.8" y="660.3" width="8.5" height="1.6" fill="#f4f4f4" />
<rect x="118.9" y="509.6" width="50.5" height="50.4" fill="#000" filter="url(#ha)"/>
<rect x="156.8" y="555.1" width="8.5" height="1.6" fill="#f4f4f4" />
<rect x="118.9" y="562.2" width="50.5" height="50.4" fill="#000" />
<path d="M140.2 582.0h0M123.2 568.0h0M150.9 570.1h0M143.3 573.5h0M132.9 574.5h0M160.8 591.5h0M166.7 569.7h0M167.9 587.5h0M147.7 579.7h0M162.7 564.2h0M142.7 598.5h0M123.2 600.7h0M129.9 574.8h0M127.2 578.8h0M151.7 600.2h0M146.3 580.1h0M165.0 564.1h0M122.1 586.4h0M152.8 571.7h0M134.1 575.2h0M152.9 573.9h0M120.9 580.7h0M154.5 565.3h0M146.1 574.9h0M159.1 609.5h0M132.1 573.5h0M156.7 568.9h0M146.8 575.7h0M124.7 602.0h0M145.8 580.4h0M162.1 610.7h0M130.6 569.9h0M155.8 578.9h0M124.7 593.1h0M134.8 594.8h0" stroke="#6c7c18" stroke-width="1.25" stroke-linecap="round" fill="none"/>
<path d="M148.6 594.9h0M122.8 597.8h0M166.6 599.8h0M140.8 600.1h0M120.8 573.2h0M152.4 579.3h0M158.6 572.0h0M155.1 593.1h0M159.2 567.0h0M130.8 582.0h0M157.0 580.7h0M156.4 580.6h0M146.9 589.0h0M159.0 598.9h0M148.2 574.9h0M162.0 567.9h0M135.6 606.0h0M153.9 576.8h0M148.4 571.9h0M144.4 608.4h0M148.2 609.8h0M152.5 576.2h0M132.7 599.9h0M146.3 588.8h0M166.5 570.6h0M125.6 605.0h0M123.1 607.7h0M148.6 583.8h0M124.5 577.9h0M153.0 563.9h0M136.6 578.4h0M134.1 606.0h0M163.6 595.6h0M148.8 593.9h0M150.2 573.3h0M157.9 587.8h0M124.9 578.0h0M148.4 571.8h0M166.7 599.5h0M145.8 586.1h0M165.1 575.3h0M167.8 576.2h0M144.9 610.9h0M160.1 570.2h0M138.9 592.2h0M154.1 598.3h0" stroke="#98b024" stroke-width="1.25" stroke-linecap="round" fill="none"/>
<path d="M129.0 565.9h0M164.9 564.5h0M163.5 595.8h0M159.3 591.3h0M141.8 578.3h0M156.0 581.5h0M159.0 565.2h0M155.5 579.8h0M123.2 584.1h0M126.4 578.1h0M133.6 588.0h0M132.4 568.7h0M149.6 605.5h0M155.1 573.9h0M159.5 599.0h0M163.5 605.7h0M151.3 572.2h0M123.7 605.1h0M121.5 581.3h0M125.1 609.3h0M128.7 568.4h0M123.9 603.9h0M136.5 597.7h0M168.4 568.3h0M133.1 603.8h0M130.8 607.8h0M144.3 564.5h0M125.7 600.5h0M134.1 606.9h0M156.6 605.9h0M156.5 587.4h0M158.2 563.6h0M139.6 573.9h0M120.5 572.4h0M126.9 577.9h0M145.6 600.2h0M122.2 578.4h0M154.5 571.4h0M120.6 569.3h0M128.7 574.9h0M145.9 584.7h0M129.5 574.3h0M167.9 593.5h0M165.5 610.6h0M153.1 589.2h0M146.3 606.9h0M130.2 600.5h0" stroke="#c0d834" stroke-width="1.25" stroke-linecap="round" fill="none"/>
<rect x="156.8" y="607.7" width="8.5" height="1.6" fill="#f4f4f4" />
<rect x="118.9" y="614.8" width="50.5" height="50.4" fill="#000" filter="url(#ha)"/>
<path d="M164.9 617.1h0M163.5 648.4h0M122.8 650.4h0M166.6 652.4h0M159.0 617.8h0M150.9 622.7h0M143.3 626.1h0M123.2 636.7h0M160.8 644.1h0M126.4 630.7h0M162.7 616.8h0M132.4 621.3h0M129.9 627.4h0M156.4 633.2h0M146.3 632.7h0M153.9 629.4h0M148.2 662.4h0M132.7 652.5h0M152.8 624.3h0M136.5 650.3h0M166.5 623.2h0M168.4 620.9h0M133.1 656.4h0M154.5 617.9h0M153.0 616.5h0M146.1 627.5h0M132.1 626.1h0M158.2 616.2h0M163.6 648.2h0M145.6 652.8h0M124.7 654.6h0M162.1 663.3h0M165.1 627.9h0M129.5 626.9h0M165.5 663.2h0M146.3 659.5h0M154.1 650.9h0" stroke="#1c8c38" stroke-width="1.25" stroke-linecap="round" fill="none"/>
<path d="M129.0 618.5h0M140.2 634.6h0M120.8 625.8h0M155.5 632.4h0M158.6 624.6h0M159.2 619.6h0M133.6 640.6h0M147.7 632.3h0M142.7 651.1h0M123.2 653.3h0M130.8 634.6h0M155.1 626.5h0M159.5 651.6h0M151.7 652.8h0M159.0 651.5h0M148.2 627.5h0M135.6 658.6h0M151.3 624.8h0M144.4 661.0h0M121.5 633.9h0M125.1 661.9h0M128.7 621.0h0M123.9 656.5h0M122.1 639.0h0M125.6 657.6h0M134.1 627.8h0M136.6 631.0h0M134.1 658.6h0M134.1 659.5h0M156.5 640.0h0M159.1 662.1h0M139.6 626.5h0M148.8 646.5h0M156.7 621.5h0M126.9 630.5h0M148.4 624.4h0M166.7 652.1h0M130.6 622.5h0M155.8 631.5h0M124.7 645.7h0M122.2 631.0h0M134.8 647.4h0M154.5 624.0h0M120.6 621.9h0M145.9 637.3h0M167.9 646.1h0M153.1 641.8h0M144.9 663.5h0M160.1 622.8h0" stroke="#28b048" stroke-width="1.25" stroke-linecap="round" fill="none"/>
<path d="M123.2 620.6h0M159.3 643.9h0M148.6 647.5h0M140.8 652.7h0M141.8 630.9h0M156.0 634.1h0M132.9 627.1h0M152.4 631.9h0M166.7 622.3h0M155.1 645.7h0M167.9 640.1h0M149.6 658.1h0M157.0 633.3h0M127.2 631.4h0M163.5 658.3h0M146.9 641.6h0M162.0 620.5h0M165.0 616.7h0M148.4 624.5h0M123.7 657.7h0M152.5 628.8h0M146.3 641.4h0M123.1 660.3h0M152.9 626.5h0M120.9 633.3h0M148.6 636.4h0M124.5 630.5h0M130.8 660.4h0M144.3 617.1h0M125.7 653.1h0M156.6 658.5h0M150.2 625.9h0M146.8 628.3h0M120.5 625.0h0M157.9 640.4h0M124.9 630.6h0M145.8 633.0h0M145.8 638.7h0M128.7 627.5h0M167.8 628.8h0M138.9 644.8h0M130.2 653.1h0" stroke="#44d468" stroke-width="1.25" stroke-linecap="round" fill="none"/>
<rect x="156.8" y="660.3" width="8.5" height="1.6" fill="#f4f4f4" />
<rect x="171.3" y="509.6" width="50.5" height="50.4" fill="#000" filter="url(#ha2)"/>
<rect x="209.2" y="555.1" width="8.5" height="1.6" fill="#f4f4f4" />
<rect x="171.3" y="562.2" width="50.5" height="50.4" fill="#000" />
<path d="M205.5 580.2h0M217.0 603.2h0M203.0 601.8h0M178.5 571.8h0M215.4 599.2h0M181.7 563.3h0M210.3 584.1h0M196.7 591.9h0M198.2 611.6h0M193.6 573.4h0M183.2 603.9h0M205.4 603.8h0M218.2 576.4h0M219.0 582.9h0M172.1 593.3h0M195.7 597.9h0M181.2 591.9h0M174.8 596.7h0M217.1 610.7h0M207.8 607.6h0M186.9 573.0h0M207.9 598.8h0M187.2 572.4h0M176.2 564.0h0M206.4 577.3h0M186.5 565.8h0M205.3 605.3h0M200.1 567.2h0M205.9 585.4h0M179.1 599.6h0M213.9 568.3h0M190.1 580.1h0M206.8 563.1h0M211.2 567.7h0M180.4 588.0h0M220.2 594.9h0M186.7 607.5h0M192.2 605.0h0M181.7 581.4h0M193.0 580.0h0M204.8 578.8h0M180.7 608.4h0M218.2 575.8h0M177.5 578.8h0M183.1 604.0h0M193.2 586.5h0M207.4 580.3h0M215.0 579.7h0M173.2 563.1h0M179.7 603.8h0M187.7 610.0h0M180.7 576.9h0M217.4 567.3h0M192.6 589.0h0M216.2 581.2h0M179.5 573.2h0M186.1 582.0h0M175.8 586.3h0M186.4 601.3h0M186.8 569.9h0M205.4 576.4h0M200.8 582.0h0M191.7 583.9h0M195.4 573.9h0M202.1 593.2h0M196.4 600.0h0M183.6 606.9h0M188.7 610.4h0M185.7 564.5h0M203.2 605.2h0M201.5 584.9h0M197.1 604.1h0M211.1 607.2h0" stroke="#6c7c18" stroke-width="1.25" stroke-linecap="round" fill="none"/>
<path d="M200.7 599.2h0M178.0 597.2h0M188.0 564.9h0M189.3 566.7h0M217.9 585.7h0M188.9 587.8h0M174.6 611.5h0M219.4 570.6h0M184.5 610.3h0M181.9 567.1h0M207.3 571.1h0M206.2 598.4h0M187.5 582.8h0M176.3 579.6h0M178.4 605.5h0M220.8 611.0h0M191.2 607.6h0M192.1 587.6h0M212.5 609.7h0M209.2 587.3h0M186.3 575.0h0M219.0 564.5h0M183.3 599.1h0M182.8 609.0h0M191.5 611.8h0M188.4 608.5h0M192.5 582.9h0M185.4 604.1h0M189.5 574.5h0M199.1 598.3h0M194.9 585.9h0M197.3 578.5h0M175.6 610.4h0M191.7 568.9h0M197.2 597.7h0M213.6 566.6h0M203.3 596.2h0M195.2 600.3h0M174.5 578.3h0M203.7 596.8h0M178.0 582.3h0M178.0 607.0h0M219.4 575.1h0M177.1 594.1h0M175.6 611.0h0M219.1 610.8h0M196.7 569.0h0M200.8 579.8h0M204.2 575.9h0M206.3 576.6h0M187.2 567.1h0M211.2 589.9h0M178.3 576.7h0M221.0 606.0h0M178.2 594.0h0M176.6 574.9h0M214.0 582.3h0M215.3 606.8h0M190.9 573.1h0M212.1 602.5h0M189.3 596.6h0M202.4 601.6h0M220.9 573.8h0M206.1 575.0h0M203.5 603.0h0M202.7 571.2h0M177.7 608.0h0M195.9 604.0h0M219.2 564.6h0M178.0 574.5h0M181.0 579.2h0M177.8 600.6h0M209.4 566.8h0M206.3 579.0h0M181.8 593.9h0M217.2 567.3h0M193.0 591.2h0" stroke="#98b024" stroke-width="1.25" stroke-linecap="round" fill="none"/>
<path d="M216.9 593.4h0M211.0 604.8h0M185.6 569.9h0M215.3 565.8h0M199.7 575.1h0M176.5 606.7h0M209.5 569.7h0M179.5 575.4h0M218.2 583.2h0M184.0 591.3h0M214.3 584.2h0M189.7 608.2h0M180.0 566.5h0M192.6 576.3h0M212.2 565.9h0M211.8 610.6h0M174.9 601.0h0M215.0 566.9h0M214.3 590.5h0M173.7 607.8h0M217.7 594.1h0M217.6 590.4h0M180.3 568.6h0M196.4 605.5h0M183.4 600.9h0M217.6 568.8h0M219.9 611.4h0M178.5 568.4h0M206.3 604.7h0M174.4 596.0h0M197.6 608.5h0M220.6 577.7h0M200.0 607.4h0M219.8 566.4h0M190.1 586.8h0M205.6 600.6h0M180.0 578.4h0M193.6 578.6h0M217.1 601.1h0M194.2 610.9h0M210.4 593.4h0M188.9 569.4h0M196.7 578.9h0M192.2 565.9h0M210.2 605.3h0M178.3 575.9h0M192.6 578.1h0M202.9 573.0h0M212.8 573.3h0M190.7 595.9h0M208.1 569.9h0M173.2 574.2h0M213.2 592.5h0M187.5 574.8h0M195.4 585.9h0M199.0 565.1h0M178.3 575.1h0M179.9 580.6h0M191.1 569.5h0M173.4 582.2h0M196.3 594.8h0M195.9 586.0h0M177.5 597.8h0M195.0 611.8h0M205.9 588.4h0M181.3 568.6h0M185.3 571.5h0M215.4 580.2h0M210.3 566.4h0M212.8 566.8h0M213.0 567.4h0M192.9 574.1h0M194.2 599.2h0M187.2 574.7h0M194.4 595.4h0M215.8 574.9h0M176.0 576.4h0M195.3 584.9h0M220.1 580.8h0M213.3 574.7h0M180.4 604.3h0M183.5 579.8h0" stroke="#c0d834" stroke-width="1.25" stroke-linecap="round" fill="none"/>
<rect x="209.2" y="607.7" width="8.5" height="1.6" fill="#f4f4f4" />
<rect x="171.3" y="614.8" width="50.5" height="50.4" fill="#000" filter="url(#ha2)"/>
<path d="M211.0 657.4h0M176.5 659.3h0M217.0 655.8h0M188.0 617.5h0M179.5 628.0h0M218.2 635.8h0M180.0 619.1h0M212.2 618.5h0M220.8 663.6h0M217.7 646.7h0M181.7 615.9h0M186.3 627.6h0M219.0 617.1h0M196.7 644.5h0M182.8 661.6h0M191.5 664.4h0M178.5 621.0h0M174.4 648.6h0M193.6 626.0h0M205.4 656.4h0M218.2 629.0h0M219.0 635.5h0M172.1 645.9h0M195.7 650.5h0M192.5 635.5h0M185.4 656.7h0M174.8 649.3h0M189.5 627.1h0M194.9 638.5h0M197.3 631.1h0M217.1 663.3h0M197.2 650.3h0M213.6 619.2h0M190.1 639.4h0M205.6 653.2h0M207.9 651.4h0M217.1 653.7h0M210.4 646.0h0M192.2 618.5h0M203.7 649.4h0M205.3 657.9h0M200.1 619.8h0M205.9 638.0h0M178.0 659.6h0M177.1 646.7h0M202.9 625.6h0M212.8 625.9h0M175.6 663.6h0M219.1 663.4h0M186.7 660.1h0M204.2 628.5h0M213.2 645.1h0M195.4 638.5h0M193.0 632.6h0M204.8 631.4h0M207.4 632.9h0M178.2 646.6h0M195.9 638.6h0M179.7 656.4h0M187.7 662.6h0M180.7 629.5h0M181.3 621.2h0M215.3 659.4h0M190.9 625.7h0M217.4 619.9h0M212.1 655.1h0M215.4 632.8h0M220.9 626.4h0M186.1 634.6h0M202.7 623.8h0M175.8 638.9h0M213.0 620.0h0M200.8 634.6h0M195.3 637.5h0M178.0 627.1h0M181.0 631.8h0M209.4 619.4h0M220.1 633.4h0M211.1 659.8h0M217.2 619.9h0M183.5 632.4h0" stroke="#1c8c38" stroke-width="1.25" stroke-linecap="round" fill="none"/>
<path d="M200.7 651.8h0M215.3 618.4h0M199.7 627.7h0M209.5 622.3h0M188.9 640.4h0M184.0 643.9h0M174.6 664.1h0M189.7 660.8h0M184.5 662.9h0M181.9 619.7h0M178.5 624.4h0M206.2 651.0h0M187.5 635.4h0M211.8 663.2h0M176.3 632.2h0M178.4 658.1h0M215.4 651.8h0M215.0 619.5h0M191.2 660.2h0M214.3 643.1h0M173.7 660.4h0M212.5 662.3h0M180.3 621.2h0M196.4 658.1h0M210.3 636.7h0M183.4 653.5h0M219.9 664.0h0M197.6 661.1h0M191.7 621.5h0M219.8 619.0h0M186.9 625.6h0M180.0 631.0h0M193.6 631.2h0M195.2 652.9h0M176.2 616.6h0M206.4 629.9h0M210.2 657.9h0M178.0 634.9h0M178.3 628.5h0M179.1 652.2h0M219.4 627.7h0M213.9 620.9h0M190.1 632.7h0M200.8 632.4h0M206.3 629.2h0M192.2 657.6h0M181.7 634.0h0M187.2 619.7h0M211.2 642.5h0M199.0 617.7h0M180.7 661.0h0M193.2 639.1h0M221.0 658.6h0M173.4 634.8h0M196.3 647.4h0M176.6 627.5h0M205.9 641.0h0M185.3 624.1h0M214.0 634.9h0M192.6 641.6h0M216.2 633.8h0M179.5 625.8h0M210.3 619.0h0M202.4 654.2h0M203.5 655.6h0M212.8 619.4h0M192.9 626.7h0M194.2 651.8h0M205.4 629.0h0M187.2 627.3h0M191.7 636.5h0M177.7 660.6h0M195.4 626.5h0M194.4 648.0h0M188.7 663.0h0M219.2 617.2h0M201.5 637.5h0M197.1 656.7h0M181.8 646.5h0M213.3 627.3h0M180.4 656.9h0" stroke="#28b048" stroke-width="1.25" stroke-linecap="round" fill="none"/>
<path d="M216.9 646.0h0M185.6 622.5h0M178.0 649.8h0M205.5 632.8h0M189.3 619.3h0M217.9 638.3h0M214.3 636.8h0M203.0 654.4h0M219.4 623.2h0M192.6 628.9h0M207.3 623.7h0M174.9 653.6h0M192.1 640.2h0M209.2 639.9h0M217.6 643.0h0M217.6 621.4h0M183.3 651.7h0M198.2 664.2h0M188.4 661.1h0M206.3 657.3h0M183.2 656.5h0M220.6 630.3h0M181.2 644.5h0M199.1 650.9h0M207.8 660.2h0M175.6 663.0h0M200.0 660.0h0M203.3 648.8h0M187.2 625.0h0M194.2 663.5h0M188.9 622.0h0M196.7 631.5h0M186.5 618.4h0M174.5 630.9h0M192.6 630.7h0M206.8 615.7h0M211.2 620.3h0M196.7 621.6h0M190.7 648.5h0M180.4 640.6h0M220.2 647.5h0M208.1 622.5h0M173.2 626.8h0M187.5 627.4h0M178.3 629.3h0M218.2 628.4h0M177.5 631.4h0M183.1 656.6h0M178.3 627.7h0M179.9 633.2h0M215.0 632.3h0M191.1 622.1h0M173.2 615.7h0M177.5 650.4h0M195.0 664.4h0M189.3 649.2h0M206.1 627.6h0M186.4 653.9h0M186.8 622.5h0M202.1 645.8h0M196.4 652.6h0M183.6 659.5h0M215.8 627.5h0M176.0 629.0h0M195.9 656.6h0M185.7 617.1h0M177.8 653.2h0M203.2 657.8h0M206.3 631.6h0M193.0 643.8h0" stroke="#44d468" stroke-width="1.25" stroke-linecap="round" fill="none"/>
<rect x="209.2" y="660.3" width="8.5" height="1.6" fill="#f4f4f4" />
<rect x="227.7" y="509.6" width="50.5" height="50.4" fill="#000" filter="url(#ha)"/>
<rect x="265.6" y="555.1" width="8.5" height="1.6" fill="#f4f4f4" />
<rect x="227.7" y="562.2" width="50.5" height="50.4" fill="#000" />
<path d="M231.6 608.4h0M274.9 600.4h0M254.3 610.2h0M272.6 597.6h0M260.0 604.4h0M266.6 609.4h0M276.5 577.7h0M245.3 609.1h0M255.9 585.6h0M275.8 594.8h0M264.4 591.2h0M240.4 596.2h0M241.6 604.2h0M233.0 597.2h0M276.1 611.0h0M245.2 578.5h0M263.1 567.0h0M251.5 584.0h0M260.3 573.8h0M263.5 572.1h0M246.6 607.3h0M249.3 576.8h0M246.6 600.7h0M248.3 604.1h0M236.5 609.8h0M259.3 585.1h0M277.0 579.4h0M230.5 605.3h0M241.8 579.0h0M272.8 586.7h0M230.3 568.0h0M274.9 577.1h0M263.9 605.7h0M249.7 565.1h0M249.5 580.3h0M236.9 598.8h0M235.3 605.5h0" stroke="#6c7c18" stroke-width="1.25" stroke-linecap="round" fill="none"/>
<path d="M277.3 598.6h0M272.7 566.0h0M246.9 606.3h0M259.7 563.1h0M252.7 591.6h0M257.5 587.7h0M259.4 587.4h0M249.3 574.7h0M262.3 569.8h0M257.0 581.1h0M236.4 586.2h0M268.7 596.4h0M254.0 600.6h0M268.5 608.7h0M252.1 572.8h0M243.4 568.3h0M273.2 602.5h0M228.6 566.9h0M260.1 593.3h0M268.9 597.0h0M251.4 610.9h0M262.7 597.2h0M250.3 574.5h0M260.6 569.1h0M260.9 587.2h0M258.6 571.0h0M231.7 566.6h0M276.1 607.2h0M238.0 608.8h0M234.6 564.0h0M238.9 589.0h0M236.8 585.1h0M253.7 580.9h0M248.8 606.7h0M233.1 597.9h0M256.0 589.8h0M250.5 567.6h0M247.1 597.9h0M276.9 604.9h0M263.7 589.8h0M230.6 594.7h0M235.3 569.8h0" stroke="#98b024" stroke-width="1.25" stroke-linecap="round" fill="none"/>
<path d="M250.9 607.9h0M233.6 582.2h0M258.0 594.7h0M238.7 608.8h0M276.6 564.0h0M245.3 592.4h0M241.2 599.5h0M258.3 603.1h0M235.8 590.2h0M269.0 597.9h0M275.6 585.8h0M261.0 571.5h0M229.2 601.3h0M234.1 593.0h0M241.4 564.1h0M237.8 563.2h0M267.8 609.4h0M229.5 580.4h0M235.7 566.2h0M272.2 563.7h0M238.0 608.7h0M269.8 573.5h0M234.4 583.3h0M250.7 594.8h0M247.8 567.3h0M265.5 607.8h0M269.4 582.3h0M260.0 601.1h0M239.2 610.3h0M244.0 584.8h0M266.1 582.8h0M257.7 602.8h0M247.2 584.0h0M254.5 600.5h0M248.0 575.8h0" stroke="#c0d834" stroke-width="1.25" stroke-linecap="round" fill="none"/>
<rect x="265.6" y="607.7" width="8.5" height="1.6" fill="#f4f4f4" />
<rect x="227.7" y="614.8" width="50.5" height="50.4" fill="#000" filter="url(#ha)"/>
<path d="M272.7 618.6h0M233.6 634.8h0M238.7 661.4h0M272.6 650.2h0M260.0 657.0h0M259.7 615.7h0M276.5 630.3h0M255.9 638.2h0M241.2 652.1h0M240.4 648.8h0M268.7 649.0h0M254.0 653.2h0M268.5 661.3h0M252.1 625.4h0M273.2 655.1h0M261.0 624.1h0M262.7 649.8h0M263.1 619.6h0M260.3 626.4h0M258.6 623.6h0M276.1 659.8h0M267.8 662.0h0M248.8 659.3h0M238.0 661.3h0M256.0 642.4h0M241.8 631.6h0M263.7 642.4h0M230.6 647.3h0M247.2 636.6h0" stroke="#1c8c38" stroke-width="1.25" stroke-linecap="round" fill="none"/>
<path d="M250.9 660.5h0M258.0 647.3h0M276.6 616.6h0M245.3 645.0h0M252.7 644.2h0M257.5 640.3h0M259.4 640.0h0M249.3 627.3h0M262.3 622.4h0M258.3 655.7h0M235.8 642.8h0M275.8 647.4h0M233.0 649.8h0M243.4 620.9h0M260.1 645.9h0M251.4 663.5h0M251.5 636.6h0M234.1 645.6h0M237.8 615.8h0M238.0 661.4h0M234.6 616.6h0M238.9 641.6h0M253.7 633.5h0M246.6 653.3h0M248.3 656.7h0M233.1 650.5h0M236.5 662.4h0M259.3 637.7h0M269.8 626.1h0M247.1 650.5h0M247.8 619.9h0M230.5 657.9h0M265.5 660.4h0M272.8 639.3h0M276.9 657.5h0M269.4 634.9h0M274.9 629.7h0M260.0 653.7h0M239.2 662.9h0M266.1 635.4h0M249.5 632.9h0M236.9 651.4h0" stroke="#28b048" stroke-width="1.25" stroke-linecap="round" fill="none"/>
<path d="M277.3 651.2h0M231.6 661.0h0M274.9 653.0h0M254.3 662.8h0M246.9 658.9h0M266.6 662.0h0M245.3 661.7h0M264.4 643.8h0M241.6 656.8h0M257.0 633.7h0M269.0 650.5h0M275.6 638.4h0M236.4 638.8h0M228.6 619.5h0M268.9 649.6h0M276.1 663.6h0M245.2 631.1h0M229.2 653.9h0M250.3 627.1h0M260.6 621.7h0M260.9 639.8h0M231.7 619.2h0M241.4 616.7h0M263.5 624.7h0M236.8 637.7h0M246.6 659.9h0M229.5 633.0h0M249.3 629.4h0M235.7 618.8h0M272.2 616.3h0M234.4 635.9h0M277.0 632.0h0M250.7 647.4h0M250.5 620.2h0M230.3 620.6h0M244.0 637.4h0M263.9 658.3h0M257.7 655.4h0M249.7 617.7h0M254.5 653.1h0M248.0 628.4h0M235.3 658.1h0M235.3 622.4h0" stroke="#44d468" stroke-width="1.25" stroke-linecap="round" fill="none"/>
<rect x="265.6" y="660.3" width="8.5" height="1.6" fill="#f4f4f4" />
<rect x="280.6" y="509.6" width="50.5" height="50.4" fill="#000" filter="url(#ha2)"/>
<rect x="318.5" y="555.1" width="8.5" height="1.6" fill="#f4f4f4" />
<rect x="280.6" y="562.2" width="50.5" height="50.4" fill="#000" />
<path d="M289.6 573.4h0M303.1 566.7h0M312.3 584.3h0M307.2 574.3h0M327.5 588.0h0M295.6 577.9h0M301.3 567.8h0M325.8 597.8h0M318.5 565.5h0M313.3 564.1h0M282.2 582.8h0M303.5 604.6h0M311.2 603.4h0M325.3 569.7h0M316.4 567.4h0M308.2 563.2h0M323.6 591.3h0M307.2 605.7h0M322.2 581.0h0M299.4 571.7h0M297.2 594.3h0M321.5 564.9h0M303.0 576.0h0M287.3 609.1h0M300.1 590.5h0M284.0 581.1h0M320.1 586.9h0M314.9 564.7h0M315.4 595.4h0M297.6 601.3h0M294.5 584.4h0M300.8 567.4h0M294.7 597.7h0M306.0 577.5h0M289.3 592.0h0M310.4 594.8h0M324.7 566.4h0M316.1 570.5h0M325.2 592.0h0M329.1 609.7h0M309.0 607.7h0M310.5 604.1h0M322.3 588.5h0M294.7 587.1h0M330.1 611.5h0M299.0 602.3h0M290.9 610.1h0M316.4 574.1h0M301.0 566.1h0M294.8 575.3h0M305.5 567.8h0M304.2 580.3h0M299.0 570.4h0M321.7 596.4h0M294.6 603.7h0M290.5 583.4h0M316.6 571.6h0M310.9 575.1h0M324.9 592.5h0M310.0 602.8h0M310.3 569.2h0M288.0 588.8h0M324.9 571.3h0M326.4 596.6h0M309.8 565.1h0M317.9 607.5h0M283.1 598.9h0M324.0 592.3h0M296.5 565.3h0M283.4 581.5h0M326.9 566.8h0M313.9 599.1h0M283.8 610.1h0M294.5 573.6h0M325.7 600.8h0M297.8 578.2h0M324.5 610.1h0M318.0 599.4h0M314.6 593.2h0M321.2 595.2h0M312.2 611.5h0M283.4 582.9h0M292.8 570.3h0M328.0 564.2h0M304.3 571.6h0M301.5 567.4h0" stroke="#6c7c18" stroke-width="1.25" stroke-linecap="round" fill="none"/>
<path d="M328.7 568.3h0M290.5 571.0h0M286.8 590.1h0M298.8 579.7h0M288.1 570.2h0M283.1 610.5h0M309.9 569.1h0M316.6 563.5h0M307.6 601.2h0M284.8 602.6h0M296.5 580.1h0M329.7 589.1h0M315.5 601.4h0M308.7 571.0h0M310.4 569.3h0M289.8 579.5h0M324.4 590.0h0M294.7 608.8h0M323.9 573.5h0M288.4 588.0h0M318.8 564.8h0M311.0 606.9h0M290.0 595.2h0M308.5 568.3h0M297.2 607.1h0M283.9 607.3h0M324.5 606.0h0M290.8 593.2h0M321.1 587.1h0M323.0 566.7h0M286.0 585.4h0M295.2 594.0h0M330.0 594.5h0M311.7 594.7h0M313.0 576.7h0M324.3 566.4h0M307.9 611.5h0M314.7 565.4h0M288.2 565.2h0M293.7 591.5h0M325.9 595.1h0M309.0 573.9h0M313.1 598.1h0M304.8 602.7h0M288.3 593.4h0M320.0 604.7h0M288.9 605.5h0M328.7 609.5h0M311.2 579.8h0M311.7 603.1h0M295.6 565.6h0M294.4 585.9h0M300.0 603.2h0M283.4 589.6h0M300.0 576.1h0M308.8 570.7h0M318.6 570.9h0M323.3 572.3h0M291.7 597.7h0M287.9 577.7h0M284.4 607.4h0M303.9 600.1h0M288.4 583.0h0M306.2 574.4h0M287.2 577.9h0M295.7 597.0h0M286.9 567.3h0M329.6 601.1h0M283.7 565.5h0M284.0 600.8h0M311.2 592.4h0M326.1 565.0h0M304.4 568.7h0M303.0 566.9h0M321.8 605.7h0M289.3 568.4h0M284.8 582.3h0M310.1 570.3h0M307.6 581.9h0M294.5 571.3h0M305.9 580.6h0M322.8 604.1h0M285.0 577.3h0M298.2 575.9h0M284.0 575.1h0M325.9 594.9h0M283.3 572.0h0M327.8 572.7h0M304.4 564.0h0M318.2 605.9h0M294.3 575.4h0M297.0 611.1h0M316.9 583.3h0M308.1 569.2h0M315.1 599.2h0M316.0 574.1h0M291.8 581.1h0" stroke="#98b024" stroke-width="1.25" stroke-linecap="round" fill="none"/>
<path d="M318.8 594.1h0M290.1 594.0h0M289.5 575.8h0M323.3 586.7h0M309.3 572.1h0M296.2 590.1h0M311.8 565.9h0M303.5 572.1h0M313.1 603.0h0M299.4 597.0h0M288.0 582.9h0M285.4 610.7h0M315.3 610.0h0M293.7 601.1h0M287.6 584.9h0M291.1 583.3h0M290.6 594.4h0M308.2 608.6h0M284.6 574.8h0M314.5 582.2h0M315.3 579.3h0M310.9 585.3h0M304.0 590.0h0M312.5 602.1h0M307.4 608.9h0M316.7 566.7h0M286.6 575.1h0M323.2 586.1h0M298.3 590.4h0M301.1 571.4h0M292.7 607.1h0M325.4 604.9h0M308.9 601.6h0M299.7 606.3h0M322.1 575.0h0M306.6 609.7h0M309.0 603.2h0M328.5 572.3h0M325.8 571.2h0M327.8 594.2h0M317.5 603.9h0M313.9 566.1h0M294.6 596.0h0M286.2 591.6h0M307.8 569.3h0M319.6 607.2h0M297.4 608.8h0M297.6 563.3h0M303.2 584.2h0M282.1 567.0h0M326.6 605.9h0M292.2 595.4h0M307.4 574.3h0M308.1 565.0h0M291.6 591.3h0M322.4 598.7h0M281.6 579.3h0M317.8 584.9h0M304.0 600.2h0M282.4 603.7h0M324.0 611.1h0M318.7 564.6h0M311.0 574.7h0M294.9 578.0h0M297.9 593.1h0M292.1 574.2h0M303.8 572.0h0M318.8 570.9h0M322.2 595.7h0M313.0 594.5h0M320.6 581.0h0M313.2 606.9h0M319.6 573.7h0M304.5 567.9h0M286.5 606.4h0M295.3 601.9h0M319.6 594.9h0" stroke="#c0d834" stroke-width="1.25" stroke-linecap="round" fill="none"/>
<rect x="318.5" y="607.7" width="8.5" height="1.6" fill="#f4f4f4" />
<rect x="280.6" y="614.8" width="50.5" height="50.4" fill="#000" filter="url(#ha2)"/>
<path d="M303.1 619.3h0M318.8 646.7h0M327.5 640.6h0M309.9 621.7h0M309.3 624.7h0M316.6 616.1h0M318.5 618.1h0M307.6 653.8h0M284.8 655.2h0M296.2 642.7h0M311.8 618.5h0M282.2 635.4h0M316.4 620.0h0M308.7 623.6h0M308.2 615.8h0M321.5 617.5h0M293.7 653.7h0M324.4 642.6h0M303.0 628.6h0M287.3 661.7h0M290.0 647.8h0M300.1 643.1h0M291.1 635.9h0M324.5 658.6h0M308.2 661.2h0M294.5 637.0h0M290.8 645.8h0M323.0 619.3h0M300.8 620.0h0M314.5 634.8h0M294.7 650.3h0M306.0 630.1h0M324.7 619.0h0M324.3 619.0h0M307.4 661.5h0M314.7 618.0h0M288.2 617.8h0M293.7 644.1h0M325.9 647.7h0M301.1 624.0h0M292.7 659.7h0M325.4 657.5h0M288.3 646.0h0M320.0 657.3h0M310.5 656.7h0M322.3 641.1h0M311.7 655.7h0M299.7 658.9h0M309.0 655.8h0M328.5 624.9h0M325.8 623.8h0M317.5 656.5h0M304.2 632.9h0M299.0 623.0h0M286.2 644.2h0M321.7 649.0h0M300.0 628.7h0M308.8 623.3h0M297.6 615.9h0M303.2 636.8h0M318.6 623.5h0M282.1 619.6h0M310.3 621.8h0M292.2 648.0h0M307.4 626.9h0M303.9 652.7h0M326.4 649.2h0M295.7 649.6h0M309.8 617.7h0M329.6 653.7h0M304.0 652.8h0M282.4 656.3h0M324.0 663.7h0M324.0 644.9h0M294.5 626.2h0M294.9 630.6h0M297.9 645.7h0M324.5 662.7h0M310.1 622.9h0M318.8 623.5h0M305.9 633.2h0M285.0 629.9h0M284.0 627.7h0M283.3 624.6h0M319.6 626.3h0M304.4 616.6h0M321.2 647.8h0M294.3 628.0h0M297.0 663.7h0M304.5 620.5h0M312.2 664.1h0M316.9 635.9h0M295.3 654.5h0M319.6 647.5h0M316.0 626.7h0M301.5 620.0h0" stroke="#1c8c38" stroke-width="1.25" stroke-linecap="round" fill="none"/>
<path d="M289.6 626.0h0M290.5 623.6h0M295.6 630.5h0M290.1 646.6h0M283.1 663.1h0M323.3 639.3h0M303.5 657.2h0M296.5 632.7h0M329.7 641.7h0M325.3 622.3h0M313.1 655.6h0M310.4 621.9h0M323.6 643.9h0M288.0 635.5h0M307.2 658.3h0M322.2 633.6h0M285.4 663.3h0M297.2 646.9h0M315.3 662.6h0M289.8 632.1h0M288.4 640.6h0M318.8 617.4h0M308.5 620.9h0M314.9 617.3h0M283.9 659.9h0M284.6 627.4h0M321.1 639.7h0M315.3 631.9h0M286.0 638.0h0M310.4 647.4h0M311.7 647.3h0M304.0 642.6h0M312.5 654.7h0M288.9 658.1h0M328.7 662.1h0M311.2 632.4h0M306.6 662.3h0M294.4 638.5h0M316.4 626.7h0M301.0 618.7h0M313.9 618.7h0M305.5 620.4h0M310.9 627.7h0M297.4 661.4h0M324.9 645.1h0M323.3 624.9h0M291.7 650.3h0M310.0 655.4h0M326.6 658.5h0M287.9 630.3h0M284.4 660.0h0M324.9 623.9h0M308.1 617.6h0M291.6 643.9h0M322.4 651.3h0M283.1 651.5h0M283.7 618.1h0M284.0 653.4h0M311.0 627.3h0M296.5 617.9h0M326.9 619.4h0M326.1 617.6h0M303.0 619.5h0M325.7 653.4h0M318.0 652.0h0M322.2 648.3h0M313.0 647.1h0M298.2 628.5h0M325.9 647.5h0M318.2 658.5h0M286.5 659.0h0M283.4 635.5h0M315.1 651.8h0M328.0 616.8h0M291.8 633.7h0" stroke="#28b048" stroke-width="1.25" stroke-linecap="round" fill="none"/>
<path d="M328.7 620.9h0M312.3 636.9h0M307.2 626.9h0M286.8 642.7h0M298.8 632.3h0M288.1 622.8h0M289.5 628.4h0M301.3 620.4h0M325.8 650.4h0M313.3 616.7h0M303.5 624.7h0M311.2 656.0h0M315.5 654.0h0M299.4 649.6h0M299.4 624.3h0M294.7 661.4h0M287.6 637.5h0M323.9 626.1h0M311.0 659.5h0M284.0 633.7h0M320.1 639.5h0M297.2 659.7h0M315.4 648.0h0M297.6 653.9h0M290.6 647.0h0M289.3 644.6h0M310.9 637.9h0M295.2 646.6h0M330.0 647.1h0M313.0 629.3h0M316.1 623.1h0M307.9 664.1h0M325.2 644.6h0M316.7 619.3h0M286.6 627.7h0M323.2 638.7h0M309.0 626.5h0M298.3 643.0h0M313.1 650.7h0M304.8 655.3h0M329.1 662.3h0M309.0 660.3h0M308.9 654.2h0M294.7 639.7h0M330.1 664.1h0M295.6 618.2h0M322.1 627.6h0M327.8 646.8h0M299.0 654.9h0M290.9 662.7h0M300.0 655.8h0M294.8 627.9h0M283.4 642.2h0M294.6 648.6h0M294.6 656.3h0M290.5 636.0h0M316.6 624.2h0M307.8 621.9h0M319.6 659.8h0M288.0 641.4h0M288.4 635.6h0M306.2 627.0h0M287.2 630.5h0M281.6 631.9h0M286.9 619.9h0M317.9 660.1h0M317.8 637.5h0M318.7 617.2h0M283.4 634.1h0M311.2 645.0h0M313.9 651.7h0M283.8 662.7h0M304.4 621.3h0M321.8 658.3h0M297.8 630.8h0M289.3 621.0h0M292.1 626.8h0M284.8 634.9h0M303.8 624.6h0M307.6 634.5h0M294.5 623.9h0M322.8 656.7h0M320.6 633.6h0M314.6 645.8h0M313.2 659.5h0M327.8 625.3h0M308.1 621.8h0M292.8 622.9h0M304.3 624.2h0" stroke="#44d468" stroke-width="1.25" stroke-linecap="round" fill="none"/>
<rect x="318.5" y="660.3" width="8.5" height="1.6" fill="#f4f4f4" />
<text x="63.5" y="352.3" font-size="10.7" text-anchor="end" fill="#2a7cc8" >Hoechst</text>
<text x="59.7" y="403.0" font-size="10.7" text-anchor="end" fill="#2db46a" >EdU</text>
<text x="64" y="454.6" font-size="10.7" text-anchor="end"><tspan fill="#2a7cc8">Mer</tspan><tspan fill="#2db46a">ge</tspan></text>
<text x="63.5" y="538.6" font-size="10.7" text-anchor="end" fill="#2a7cc8" >Hoechst</text>
<text x="59.7" y="590.0" font-size="10.7" text-anchor="end" fill="#2db46a" >EdU</text>
<text x="64" y="642.3" font-size="10.7" text-anchor="end"><tspan fill="#2a7cc8">Mer</tspan><tspan fill="#2db46a">ge</tspan></text>
<line x1="18.5" y1="341.0" x2="18.5" y2="457.0" stroke="#111" stroke-width="1.2"/>
<line x1="18.5" y1="527.5" x2="18.5" y2="643.7" stroke="#111" stroke-width="1.2"/>
<text transform="translate(12.0,398.3) rotate(-90)" font-size="12.5" text-anchor="middle" fill="#111">B16-F10</text>
<text transform="translate(13.5,588.0) rotate(-90)" font-size="12.5" text-anchor="middle" fill="#111">A375</text>
<text transform="translate(75.5,320.0) rotate(-14.5)" font-size="10.7" fill="#111">Circ-control</text>
<text transform="translate(127.7,320.0) rotate(-14.5)" font-size="10.7" fill="#111">C-P-ATG-mut</text>
<text transform="translate(183.9,320.0) rotate(-14.5)" font-size="10.7" fill="#111">C-PIAS1</text>
<text transform="translate(233.6,320.0) rotate(-14.5)" font-size="10.7" fill="#111">Linear-control</text>
<text transform="translate(286.8,320.0) rotate(-14.5)" font-size="10.7" fill="#111">Linear-ORF-108aa</text>
<text transform="translate(75.5,506.3) rotate(-14.5)" font-size="10.7" fill="#111">Circ-control</text>
<text transform="translate(127.7,506.3) rotate(-14.5)" font-size="10.7" fill="#111">C-P-ATG-mut</text>
<text transform="translate(183.9,506.3) rotate(-14.5)" font-size="10.7" fill="#111">C-PIAS1</text>
<text transform="translate(233.6,506.3) rotate(-14.5)" font-size="10.7" fill="#111">Linear-control</text>
<text transform="translate(286.8,506.3) rotate(-14.5)" font-size="10.7" fill="#111">Linear-ORF-108aa</text>
<circle cx="405.2" cy="373.2" r="29.8" fill="#000" filter="url(#r4)"/>
<circle cx="405.2" cy="373.2" r="29.8" fill="url(#vig)"/>
<circle cx="405.2" cy="373.2" r="29.6" fill="none" stroke="#3c2c6c" stroke-opacity="0.6" stroke-width="0.7"/>
<circle cx="482.2" cy="373.4" r="29.8" fill="#000" filter="url(#r4)"/>
<circle cx="482.2" cy="373.4" r="29.8" fill="url(#vig)"/>
<circle cx="482.2" cy="373.4" r="29.6" fill="none" stroke="#3c2c6c" stroke-opacity="0.6" stroke-width="0.7"/>
<circle cx="557" cy="372" r="29.8" fill="#000" filter="url(#r6)"/>
<circle cx="557" cy="372" r="29.8" fill="url(#vig)"/>
<circle cx="557" cy="372" r="29.6" fill="none" stroke="#3c2c6c" stroke-opacity="0.6" stroke-width="0.7"/>
<circle cx="406" cy="452.3" r="29.8" fill="#000" filter="url(#r5)"/>
<circle cx="406" cy="452.3" r="29.8" fill="url(#vig)"/>
<circle cx="406" cy="452.3" r="29.6" fill="none" stroke="#3c2c6c" stroke-opacity="0.6" stroke-width="0.7"/>
<circle cx="482.2" cy="450.4" r="29.8" fill="#000" filter="url(#r6)"/>
<circle cx="482.2" cy="450.4" r="29.8" fill="url(#vig)"/>
<circle cx="482.2" cy="450.4" r="29.6" fill="none" stroke="#3c2c6c" stroke-opacity="0.6" stroke-width="0.7"/>
<circle cx="404.8" cy="556.2" r="29.8" fill="#000" filter="url(#q5)"/>
<circle cx="404.8" cy="556.2" r="29.8" fill="url(#vig)"/>
<circle cx="404.8" cy="556.2" r="29.6" fill="none" stroke="#3c2c6c" stroke-opacity="0.6" stroke-width="0.7"/>
<circle cx="482.8" cy="557.3" r="29.8" fill="#000" filter="url(#q5)"/>
<circle cx="482.8" cy="557.3" r="29.8" fill="url(#vig)"/>
<circle cx="482.8" cy="557.3" r="29.6" fill="none" stroke="#3c2c6c" stroke-opacity="0.6" stroke-width="0.7"/>
<circle cx="557.2" cy="557.3" r="29.8" fill="#000" filter="url(#q7)"/>
<circle cx="557.2" cy="557.3" r="29.8" fill="url(#vig)"/>
<circle cx="557.2" cy="557.3" r="29.6" fill="none" stroke="#3c2c6c" stroke-opacity="0.6" stroke-width="0.7"/>
<circle cx="405.2" cy="634.7" r="29.8" fill="#000" filter="url(#q4)"/>
<circle cx="405.2" cy="634.7" r="29.8" fill="url(#vig)"/>
<circle cx="405.2" cy="634.7" r="29.6" fill="none" stroke="#3c2c6c" stroke-opacity="0.6" stroke-width="0.7"/>
<circle cx="482.2" cy="633.6" r="29.8" fill="#000" filter="url(#q6)"/>
<circle cx="482.2" cy="633.6" r="29.8" fill="url(#vig)"/>
<circle cx="482.2" cy="633.6" r="29.6" fill="none" stroke="#3c2c6c" stroke-opacity="0.6" stroke-width="0.7"/>
<text x="405.3" y="338.4" font-size="10.7" text-anchor="middle" fill="#111" >Circ-control</text>
<text x="485.1" y="338.4" font-size="10.7" text-anchor="middle" fill="#111" >C-PIAS1-ATG-mut</text>
<text x="557.0" y="338.4" font-size="10.7" text-anchor="middle" fill="#111" >C-PIAS1</text>
<text x="403.3" y="524.6" font-size="10.7" text-anchor="middle" fill="#111" >Circ-control</text>
<text x="483.0" y="524.6" font-size="10.7" text-anchor="middle" fill="#111" >C-PIAS1-ATG-mut</text>
<text x="557.0" y="524.6" font-size="10.7" text-anchor="middle" fill="#111" >C-PIAS1</text>
<text x="403.8" y="417.0" font-size="10.7" text-anchor="middle" fill="#111" >Linear-control</text>
<text x="491.5" y="417.0" font-size="10.7" text-anchor="middle" fill="#111" >Linear-ORF-108aa</text>
<text x="403.6" y="601.6" font-size="10.7" text-anchor="middle" fill="#111" >Linear-control</text>
<text x="490.6" y="601.6" font-size="10.7" text-anchor="middle" fill="#111" >Linear-ORF-108aa</text>
<text x="555.0" y="455.3" font-size="11.5" text-anchor="middle" fill="#111" >B16-F10</text>
<line x1="533.0" y1="457.2" x2="577.0" y2="457.2" stroke="#222" stroke-width="1.0"/>
<text x="555.7" y="636.0" font-size="11.5" text-anchor="middle" fill="#111" >A375</text>
<line x1="541.6" y1="637.8" x2="569.8" y2="637.8" stroke="#222" stroke-width="1.0"/>
<rect x="363.2" y="720.3" width="110.8" height="73" fill="#000" filter="url(#ia1)"/>
<g clip-path="url(#cg00)">
<polygon points="418.2,715.3 479.0,715.3 479.0,798.3 438.2,798.3 423.2,760.3" fill="#8a8acc" opacity="0.28" filter="url(#bl4)"/>
<polygon points="358.2,715.3 403.2,715.3 398.2,798.3 358.2,798.3" fill="#c0a890" opacity="0.3" filter="url(#bl4)"/>
</g>
<rect x="363.2" y="720.3" width="110.8" height="73" fill="none" stroke="#2a2a2a" stroke-width="1"/>
<rect x="448.4" y="786.1" width="20.4" height="2.1" fill="#0a0a0a" />
<rect x="480.4" y="720.3" width="110.8" height="73" fill="#000" filter="url(#it1)"/>
<g clip-path="url(#cg01)">
<polygon points="482.4,728.3 506.4,723.3 496.4,742.3 482.4,746.3" fill="#e6ded4" opacity="0.45" filter="url(#bl3)"/>
<polygon points="568.4,728.3 590.4,724.3 590.4,778.3 576.4,772.3 570.4,750.3" fill="#ece6de" opacity="0.55" filter="url(#bl3)"/>
<polygon points="485.4,778.3 515.4,782.3 508.4,793.3 482.4,793.3" fill="#e6e0d8" opacity="0.4" filter="url(#bl3)"/>
</g>
<rect x="480.4" y="720.3" width="110.8" height="73" fill="none" stroke="#2a2a2a" stroke-width="1"/>
<rect x="565.6" y="786.1" width="20.4" height="2.1" fill="#0a0a0a" />
<rect x="363.2" y="799.6" width="110.8" height="73" fill="#000" filter="url(#ia2)"/>
<g clip-path="url(#cg10)">
<polygon points="363.8,800.0 399.5,800.0 396.4,807.6 378.2,811.4 363.8,812.2" fill="#e4e0e8" opacity="0.55" filter="url(#bl3)"/>
<polygon points="366.1,813.7 390.4,810.7 417.7,815.2 439.0,819.8 442.0,831.9 423.8,842.6 423.8,868.4 405.6,868.4 405.6,845.6 382.8,842.6 366.1,839.5" fill="#8e8ec8" opacity="0.55" filter="url(#bl4)"/>
<polygon points="363.8,847.1 398.0,847.1 405.6,871.4 363.8,871.4" fill="#c8ae90" opacity="0.45" filter="url(#bl4)"/>
<polygon points="439.0,831.9 472.4,825.9 472.4,871.4 426.8,871.4 431.4,847.1" fill="#c8b49c" opacity="0.4" filter="url(#bl4)"/>
<polygon points="404.8,805.8 411.6,804.9 423.8,807.0 432.9,809.8 445.0,809.1 457.2,808.2 473.1,807.9 473.1,818.3 464.8,824.0 455.7,821.3 446.6,818.0 434.4,817.5 425.3,816.4 431.4,814.3 420.7,811.4 410.1,808.8" fill="#f6f4f4" opacity="0.9" filter="url(#bl1)"/>
</g>
<rect x="363.2" y="799.6" width="110.8" height="73" fill="none" stroke="#2a2a2a" stroke-width="1"/>
<rect x="448.4" y="865.4" width="20.4" height="2.1" fill="#0a0a0a" />
<rect x="480.4" y="799.6" width="110.8" height="73" fill="#000" filter="url(#it2)"/>
<rect x="480.4" y="799.6" width="110.8" height="73" fill="none" stroke="#2a2a2a" stroke-width="1"/>
<rect x="565.6" y="865.4" width="20.4" height="2.1" fill="#0a0a0a" />
<rect x="363.2" y="879.2" width="110.8" height="73" fill="#000" filter="url(#ia3)"/>
<g clip-path="url(#cg20)">
<polygon points="440.2,879.2 455.2,879.2 453.2,909.2 458.2,952.2 445.2,952.2 443.2,919.2" fill="#ece8ec" opacity="0.6" filter="url(#bl4)"/>
</g>
<rect x="363.2" y="879.2" width="110.8" height="73" fill="none" stroke="#2a2a2a" stroke-width="1"/>
<rect x="448.4" y="945.0" width="20.4" height="2.1" fill="#0a0a0a" />
<rect x="480.4" y="879.2" width="110.8" height="73" fill="#000" filter="url(#it3)"/>
<rect x="480.4" y="879.2" width="110.8" height="73" fill="none" stroke="#2a2a2a" stroke-width="1"/>
<rect x="565.6" y="945.0" width="20.4" height="2.1" fill="#0a0a0a" />
<text x="419.6" y="712.2" font-size="11.6" text-anchor="middle" fill="#111" >Adjacent</text>
<text x="534.2" y="712.2" font-size="11.6" text-anchor="middle" fill="#111" >Tumor</text>
<text x="309.0" y="760.3" font-size="11.3" text-anchor="start" fill="#111" >Patient 1</text>
<text x="309.0" y="835.3" font-size="11.3" text-anchor="start" fill="#111" >Patient 2</text>
<text x="309.0" y="918.3" font-size="11.3" text-anchor="start" fill="#111" >Patient 3</text>
<text x="12.2" y="21.9" font-size="27" text-anchor="start" fill="#000" >a</text>
<text x="335.1" y="21.8" font-size="27" text-anchor="start" fill="#000" >b</text>
<text x="10.1" y="312.6" font-size="27" text-anchor="start" fill="#000" >c</text>
<text x="16.4" y="701.5" font-size="27" text-anchor="start" fill="#000" >d</text>
<text x="375.6" y="308.4" font-size="27" text-anchor="start" fill="#000" >e</text>
<text x="608.3" y="313.0" font-size="27" text-anchor="start" fill="#000" >f</text>
<text x="307.2" y="701.3" font-size="27" text-anchor="start" fill="#000" >g</text>
<text x="608.5" y="702.4" font-size="27" text-anchor="start" fill="#000" >h</text>
<line x1="83.0" y1="137.0" x2="83.0" y2="34.7" stroke="#151515" stroke-width="1.3"/>
<line x1="79.4" y1="136.4" x2="83.0" y2="136.4" stroke="#151515" stroke-width="1.2"/>
<text x="77.8" y="140.0" font-size="10.6" text-anchor="end" fill="#111" >0</text>
<line x1="79.4" y1="102.7" x2="83.0" y2="102.7" stroke="#151515" stroke-width="1.2"/>
<text x="77.8" y="106.3" font-size="10.6" text-anchor="end" fill="#111" >50</text>
<line x1="79.4" y1="69.0" x2="83.0" y2="69.0" stroke="#151515" stroke-width="1.2"/>
<text x="77.8" y="72.6" font-size="10.6" text-anchor="end" fill="#111" >100</text>
<line x1="79.4" y1="35.3" x2="83.0" y2="35.3" stroke="#151515" stroke-width="1.2"/>
<text x="77.8" y="38.9" font-size="10.6" text-anchor="end" fill="#111" >150</text>
<line x1="82.4" y1="136.4" x2="235.0" y2="136.4" stroke="#151515" stroke-width="1.3"/>
<line x1="119.4" y1="136.4" x2="119.4" y2="140.0" stroke="#151515" stroke-width="1.2"/>
<text x="119.4" y="151.6" font-size="10.7" text-anchor="middle" fill="#111" >B16-F10</text>
<line x1="198.7" y1="136.4" x2="198.7" y2="140.0" stroke="#151515" stroke-width="1.2"/>
<text x="198.7" y="151.6" font-size="10.7" text-anchor="middle" fill="#111" >A375</text>
<circle cx="93.0" cy="135.4" r="1.5" fill="#a8a8a8"/>
<circle cx="97.5" cy="135.4" r="1.5" fill="#a8a8a8"/>
<circle cx="102.0" cy="135.4" r="1.5" fill="#a8a8a8"/>
<circle cx="173.0" cy="135.4" r="1.5" fill="#a8a8a8"/>
<circle cx="177.5" cy="135.4" r="1.5" fill="#a8a8a8"/>
<circle cx="182.0" cy="135.4" r="1.5" fill="#a8a8a8"/>
<rect x="112.0" y="85.7" width="14.8" height="50.7" fill="#f9a038" />
<line x1="119.4" y1="83.7" x2="119.4" y2="85.7" stroke="#9a9a9a" stroke-width="1.0"/>
<line x1="116.4" y1="83.7" x2="122.4" y2="83.7" stroke="#9a9a9a" stroke-width="1.0"/>
<circle cx="116.4" cy="84.5" r="1.6" fill="#a0a0a8"/>
<circle cx="122.4" cy="84.5" r="1.6" fill="#a0a0a8"/>
<circle cx="119.4" cy="87.9" r="1.6" fill="#a0a0a8"/>
<rect x="133.8" y="72.0" width="14.8" height="64.4" fill="#f06a66" />
<line x1="141.2" y1="69.3" x2="141.2" y2="72.0" stroke="#9a9a9a" stroke-width="1.0"/>
<line x1="138.2" y1="69.3" x2="144.2" y2="69.3" stroke="#9a9a9a" stroke-width="1.0"/>
<circle cx="138.2" cy="73.0" r="1.6" fill="#a0a0a8"/>
<circle cx="144.2" cy="73.0" r="1.6" fill="#a0a0a8"/>
<circle cx="141.2" cy="71.0" r="1.6" fill="#a0a0a8"/>
<rect x="191.3" y="60.0" width="14.8" height="76.4" fill="#f9a038" />
<line x1="198.7" y1="49.9" x2="198.7" y2="60.0" stroke="#9a9a9a" stroke-width="1.0"/>
<line x1="195.7" y1="49.9" x2="201.7" y2="49.9" stroke="#9a9a9a" stroke-width="1.0"/>
<circle cx="198.7" cy="50.1" r="1.6" fill="#a0a0a8"/>
<circle cx="198.7" cy="60.2" r="1.6" fill="#a0a0a8"/>
<circle cx="198.7" cy="69.0" r="1.6" fill="#a0a0a8"/>
<rect x="213.2" y="84.0" width="14.8" height="52.4" fill="#f06a66" />
<line x1="220.6" y1="78.6" x2="220.6" y2="84.0" stroke="#9a9a9a" stroke-width="1.0"/>
<line x1="217.6" y1="78.6" x2="223.6" y2="78.6" stroke="#9a9a9a" stroke-width="1.0"/>
<circle cx="217.6" cy="85.2" r="1.6" fill="#a0a0a8"/>
<circle cx="223.6" cy="85.2" r="1.6" fill="#a0a0a8"/>
<circle cx="220.6" cy="82.5" r="1.6" fill="#a0a0a8"/>
<line x1="99.5" y1="75.1" x2="119.9" y2="75.1" stroke="#222" stroke-width="1.3"/>
<text x="110.1" y="78.1" font-size="13.3" text-anchor="middle" fill="#111" letter-spacing="0.8" stroke="#111" stroke-width="0.35">**</text>
<line x1="99.5" y1="61.0" x2="139.9" y2="61.0" stroke="#222" stroke-width="1.3"/>
<text x="120.1" y="64.0" font-size="13.3" text-anchor="middle" fill="#111" letter-spacing="0.8" stroke="#111" stroke-width="0.35">**</text>
<line x1="178.0" y1="42.5" x2="197.3" y2="42.5" stroke="#222" stroke-width="1.3"/>
<text x="188.1" y="45.5" font-size="13.3" text-anchor="middle" fill="#111" letter-spacing="0.8" stroke="#111" stroke-width="0.35">**</text>
<line x1="178.0" y1="29.1" x2="217.6" y2="29.1" stroke="#222" stroke-width="1.3"/>
<text x="198.2" y="32.1" font-size="13.3" text-anchor="middle" fill="#111" letter-spacing="0.8" stroke="#111" stroke-width="0.35">**</text>
<rect x="235.8" y="23.3" width="10.3" height="5.0" fill="#2a9a86" />
<text x="249.5" y="29.5" font-size="10.7" text-anchor="start" fill="#111" >Circ-control</text>
<rect x="235.8" y="37.2" width="10.3" height="5.0" fill="#f9a038" />
<text x="249.5" y="43.4" font-size="10.7" text-anchor="start" fill="#111" >C-PIAS1-ATG-mut</text>
<rect x="235.8" y="51.7" width="10.3" height="5.0" fill="#f06a66" />
<text x="249.5" y="57.9" font-size="10.7" text-anchor="start" fill="#111" >C-PIAS1</text>
<text transform="translate(54.4,84.5) rotate(-90)" font-size="10.7" text-anchor="middle" fill="#111">Relative circPIAS1 levels</text>
<line x1="83.0" y1="266.0" x2="83.0" y2="164.4" stroke="#151515" stroke-width="1.3"/>
<line x1="79.4" y1="265.4" x2="83.0" y2="265.4" stroke="#151515" stroke-width="1.2"/>
<text x="77.8" y="269.0" font-size="10.6" text-anchor="end" fill="#111" >0</text>
<line x1="79.4" y1="245.3" x2="83.0" y2="245.3" stroke="#151515" stroke-width="1.2"/>
<text x="77.8" y="248.9" font-size="10.6" text-anchor="end" fill="#111" >20</text>
<line x1="79.4" y1="225.2" x2="83.0" y2="225.2" stroke="#151515" stroke-width="1.2"/>
<text x="77.8" y="228.8" font-size="10.6" text-anchor="end" fill="#111" >40</text>
<line x1="79.4" y1="205.2" x2="83.0" y2="205.2" stroke="#151515" stroke-width="1.2"/>
<text x="77.8" y="208.8" font-size="10.6" text-anchor="end" fill="#111" >60</text>
<line x1="79.4" y1="185.1" x2="83.0" y2="185.1" stroke="#151515" stroke-width="1.2"/>
<text x="77.8" y="188.7" font-size="10.6" text-anchor="end" fill="#111" >80</text>
<line x1="79.4" y1="165.0" x2="83.0" y2="165.0" stroke="#151515" stroke-width="1.2"/>
<text x="77.8" y="168.6" font-size="10.6" text-anchor="end" fill="#111" >100</text>
<line x1="82.4" y1="265.4" x2="235.0" y2="265.4" stroke="#151515" stroke-width="1.3"/>
<line x1="118.7" y1="265.4" x2="118.7" y2="269.0" stroke="#151515" stroke-width="1.2"/>
<text x="118.7" y="281.8" font-size="10.7" text-anchor="middle" fill="#111" >B16-F10</text>
<line x1="198.9" y1="265.4" x2="198.9" y2="269.0" stroke="#151515" stroke-width="1.2"/>
<text x="198.9" y="281.8" font-size="10.7" text-anchor="middle" fill="#111" >A375</text>
<circle cx="99.0" cy="264.4" r="1.5" fill="#a8a8a8"/>
<circle cx="103.5" cy="264.4" r="1.5" fill="#a8a8a8"/>
<circle cx="108.0" cy="264.4" r="1.5" fill="#a8a8a8"/>
<circle cx="179.0" cy="264.4" r="1.5" fill="#a8a8a8"/>
<circle cx="183.5" cy="264.4" r="1.5" fill="#a8a8a8"/>
<circle cx="188.0" cy="264.4" r="1.5" fill="#a8a8a8"/>
<rect x="124.3" y="200.0" width="19.3" height="65.4" fill="#f43c3e" />
<line x1="134.0" y1="197.0" x2="134.0" y2="200.0" stroke="#9a9a9a" stroke-width="1.0"/>
<line x1="131.0" y1="197.0" x2="137.0" y2="197.0" stroke="#9a9a9a" stroke-width="1.0"/>
<circle cx="131.0" cy="198.1" r="1.6" fill="#a0a0a8"/>
<circle cx="137.0" cy="198.1" r="1.6" fill="#a0a0a8"/>
<circle cx="134.0" cy="204.2" r="1.6" fill="#a0a0a8"/>
<rect x="205.0" y="195.6" width="19.3" height="69.8" fill="#f43c3e" />
<line x1="214.7" y1="187.6" x2="214.7" y2="195.6" stroke="#9a9a9a" stroke-width="1.0"/>
<line x1="211.7" y1="187.6" x2="217.7" y2="187.6" stroke="#9a9a9a" stroke-width="1.0"/>
<circle cx="214.7" cy="188.1" r="1.6" fill="#a0a0a8"/>
<circle cx="214.7" cy="196.1" r="1.6" fill="#a0a0a8"/>
<circle cx="214.7" cy="203.2" r="1.6" fill="#a0a0a8"/>
<line x1="106.0" y1="190.2" x2="133.8" y2="190.2" stroke="#222" stroke-width="1.3"/>
<text x="120.3" y="193.2" font-size="13.3" text-anchor="middle" fill="#111" letter-spacing="0.8" stroke="#111" stroke-width="0.35">**</text>
<line x1="186.8" y1="180.0" x2="214.3" y2="180.0" stroke="#222" stroke-width="1.3"/>
<text x="201.0" y="183.0" font-size="13.3" text-anchor="middle" fill="#111" letter-spacing="0.8" stroke="#111" stroke-width="0.35">**</text>
<rect x="235.7" y="169.2" width="10.3" height="5.0" fill="#2a9a86" />
<text x="249.4" y="175.4" font-size="10.7" text-anchor="start" fill="#111" >Linear-control</text>
<rect x="235.7" y="184.1" width="10.3" height="5.0" fill="#f43c3e" />
<text x="249.4" y="190.3" font-size="10.7" text-anchor="start" fill="#111" >Linear-ORF-108aa</text>
<text transform="translate(53.9,214.6) rotate(-90)" font-size="10.7" text-anchor="middle" fill="#111">Relative circPIAS1 levels</text>
<line x1="394.7" y1="124.7" x2="394.7" y2="31.6" stroke="#151515" stroke-width="1.3"/>
<line x1="392.5" y1="124.1" x2="394.7" y2="124.1" stroke="#151515" stroke-width="1.2"/>
<text x="390.8" y="127.7" font-size="10.6" text-anchor="end" fill="#111" >0</text>
<line x1="392.5" y1="93.5" x2="394.7" y2="93.5" stroke="#151515" stroke-width="1.2"/>
<text x="390.8" y="97.1" font-size="10.6" text-anchor="end" fill="#111" >1</text>
<line x1="392.5" y1="62.8" x2="394.7" y2="62.8" stroke="#151515" stroke-width="1.2"/>
<text x="390.8" y="66.4" font-size="10.6" text-anchor="end" fill="#111" >2</text>
<line x1="392.5" y1="32.2" x2="394.7" y2="32.2" stroke="#151515" stroke-width="1.2"/>
<text x="390.8" y="35.8" font-size="10.6" text-anchor="end" fill="#111" >3</text>
<line x1="394.1" y1="124.1" x2="532.9" y2="124.1" stroke="#151515" stroke-width="1.3"/>
<line x1="411.8" y1="124.1" x2="411.8" y2="127.7" stroke="#151515" stroke-width="1.2"/>
<text x="411.8" y="138.9" font-size="10.7" text-anchor="middle" fill="#111" >0</text>
<line x1="437.7" y1="124.1" x2="437.7" y2="127.7" stroke="#151515" stroke-width="1.2"/>
<text x="437.7" y="138.9" font-size="10.7" text-anchor="middle" fill="#111" >24</text>
<line x1="463.4" y1="124.1" x2="463.4" y2="127.7" stroke="#151515" stroke-width="1.2"/>
<text x="463.4" y="138.9" font-size="10.7" text-anchor="middle" fill="#111" >48</text>
<line x1="489.4" y1="124.1" x2="489.4" y2="127.7" stroke="#151515" stroke-width="1.2"/>
<text x="489.4" y="138.9" font-size="10.7" text-anchor="middle" fill="#111" >72</text>
<line x1="515.5" y1="124.1" x2="515.5" y2="127.7" stroke="#151515" stroke-width="1.2"/>
<text x="515.5" y="138.9" font-size="10.7" text-anchor="middle" fill="#111" >96</text>
<text x="526.1" y="138.9" font-size="10.7" text-anchor="middle" fill="#111" >h</text>
<text x="463.7" y="23.0" font-size="10.7" text-anchor="middle" fill="#111" >B16-F10</text>
<polyline points="411.8,117.4 437.7,112.8 463.4,104.8 489.4,84.3 515.5,44.5" fill="none" stroke="#2222e8" stroke-width="1.4"/>
<path d="M411.8,114.8 L414.3,119.2 L409.3,119.2 Z" fill="#2222e8"/>
<path d="M437.7,110.2 L440.2,114.6 L435.2,114.6 Z" fill="#2222e8"/>
<path d="M463.4,102.2 L465.9,106.6 L460.9,106.6 Z" fill="#2222e8"/>
<line x1="489.4" y1="82.7" x2="489.4" y2="85.8" stroke="#2222e8" stroke-width="1.0"/>
<line x1="487.2" y1="82.7" x2="491.6" y2="82.7" stroke="#2222e8" stroke-width="1.0"/>
<line x1="487.2" y1="85.8" x2="491.6" y2="85.8" stroke="#2222e8" stroke-width="1.0"/>
<path d="M489.4,81.7 L491.9,86.1 L486.9,86.1 Z" fill="#2222e8"/>
<line x1="515.5" y1="42.9" x2="515.5" y2="46.0" stroke="#2222e8" stroke-width="1.0"/>
<line x1="513.3" y1="42.9" x2="517.7" y2="42.9" stroke="#2222e8" stroke-width="1.0"/>
<line x1="513.3" y1="46.0" x2="517.7" y2="46.0" stroke="#2222e8" stroke-width="1.0"/>
<path d="M515.5,41.9 L518.0,46.3 L513.0,46.3 Z" fill="#2222e8"/>
<polyline points="411.8,117.4 437.7,114.9 463.4,109.7 489.4,95.6 515.5,59.8" fill="none" stroke="#33e033" stroke-width="1.4"/>
<rect x="409.8" y="115.4" width="4.0" height="4.0" fill="#33e033"/>
<rect x="435.7" y="112.9" width="4.0" height="4.0" fill="#33e033"/>
<rect x="461.4" y="107.7" width="4.0" height="4.0" fill="#33e033"/>
<line x1="489.4" y1="94.7" x2="489.4" y2="96.5" stroke="#33e033" stroke-width="1.0"/>
<line x1="487.2" y1="94.7" x2="491.6" y2="94.7" stroke="#33e033" stroke-width="1.0"/>
<line x1="487.2" y1="96.5" x2="491.6" y2="96.5" stroke="#33e033" stroke-width="1.0"/>
<rect x="487.4" y="93.6" width="4.0" height="4.0" fill="#33e033"/>
<line x1="515.5" y1="57.3" x2="515.5" y2="62.2" stroke="#33e033" stroke-width="1.0"/>
<line x1="513.3" y1="57.3" x2="517.7" y2="57.3" stroke="#33e033" stroke-width="1.0"/>
<line x1="513.3" y1="62.2" x2="517.7" y2="62.2" stroke="#33e033" stroke-width="1.0"/>
<rect x="513.5" y="57.8" width="4.0" height="4.0" fill="#33e033"/>
<polyline points="411.8,117.4 437.7,113.4 463.4,108.8 489.4,90.4 515.5,62.8" fill="none" stroke="#ee2222" stroke-width="1.4"/>
<circle cx="411.8" cy="117.4" r="2.0" fill="#ee2222"/>
<circle cx="437.7" cy="113.4" r="2.0" fill="#ee2222"/>
<circle cx="463.4" cy="108.8" r="2.0" fill="#ee2222"/>
<line x1="489.4" y1="88.9" x2="489.4" y2="91.9" stroke="#ee2222" stroke-width="1.0"/>
<line x1="487.2" y1="88.9" x2="491.6" y2="88.9" stroke="#ee2222" stroke-width="1.0"/>
<line x1="487.2" y1="91.9" x2="491.6" y2="91.9" stroke="#ee2222" stroke-width="1.0"/>
<circle cx="489.4" cy="90.4" r="2.0" fill="#ee2222"/>
<line x1="515.5" y1="59.8" x2="515.5" y2="65.9" stroke="#ee2222" stroke-width="1.0"/>
<line x1="513.3" y1="59.8" x2="517.7" y2="59.8" stroke="#ee2222" stroke-width="1.0"/>
<line x1="513.3" y1="65.9" x2="517.7" y2="65.9" stroke="#ee2222" stroke-width="1.0"/>
<circle cx="515.5" cy="62.8" r="2.0" fill="#ee2222"/>
<line x1="400.4" y1="35.5" x2="410.8" y2="35.5" stroke="#ee2222" stroke-width="1.3"/>
<circle cx="405.6" cy="35.5" r="2.1" fill="#ee2222"/>
<text x="415.8" y="39.2" font-size="10.7" text-anchor="start" fill="#111" >Circ-control</text>
<line x1="400.4" y1="48.8" x2="410.8" y2="48.8" stroke="#33e033" stroke-width="1.3"/>
<rect x="403.5" y="46.7" width="4.2" height="4.2" fill="#33e033"/>
<text x="415.8" y="52.5" font-size="10.7" text-anchor="start" fill="#111" >C-PIAS1-ATG-mut</text>
<line x1="400.4" y1="61.6" x2="410.8" y2="61.6" stroke="#2222e8" stroke-width="1.3"/>
<path d="M405.6,58.9 L408.2,63.5 L403.0,63.5 Z" fill="#2222e8"/>
<text x="415.8" y="65.3" font-size="10.7" text-anchor="start" fill="#111" >C-PIAS1</text>
<polyline points="521.2,45.9 526.6,45.9 526.6,63.5 521.2,63.5" fill="none" stroke="#333" stroke-width="1.0"/>
<line x1="521.2" y1="60.3" x2="521.2" y2="66.5" stroke="#555" stroke-width="1.0"/>
<text x="531.2" y="59.2" font-size="14" stroke="#111" stroke-width="0.35" text-anchor="middle" fill="#111">*<tspan x="531.2" dy="6.2">*</tspan></text>
<text transform="translate(363.1,77.8) rotate(-90)" font-size="10.7" text-anchor="middle" fill="#111">Cell Viability</text>
<text transform="translate(376.7,77.8) rotate(-90)" font-size="10.7" text-anchor="middle" fill="#111">(OD value 450nm)</text>
<line x1="630.2" y1="125.2" x2="630.2" y2="32.5" stroke="#151515" stroke-width="1.3"/>
<line x1="626.4" y1="124.6" x2="630.2" y2="124.6" stroke="#151515" stroke-width="1.2"/>
<text x="623.8" y="128.2" font-size="10.6" text-anchor="end" fill="#111" >0.0</text>
<line x1="626.4" y1="111.5" x2="630.2" y2="111.5" stroke="#151515" stroke-width="1.2"/>
<text x="623.8" y="115.1" font-size="10.6" text-anchor="end" fill="#111" >0.5</text>
<line x1="626.4" y1="98.5" x2="630.2" y2="98.5" stroke="#151515" stroke-width="1.2"/>
<text x="623.8" y="102.1" font-size="10.6" text-anchor="end" fill="#111" >1.0</text>
<line x1="626.4" y1="85.4" x2="630.2" y2="85.4" stroke="#151515" stroke-width="1.2"/>
<text x="623.8" y="89.0" font-size="10.6" text-anchor="end" fill="#111" >1.5</text>
<line x1="626.4" y1="72.3" x2="630.2" y2="72.3" stroke="#151515" stroke-width="1.2"/>
<text x="623.8" y="75.9" font-size="10.6" text-anchor="end" fill="#111" >2.0</text>
<line x1="626.4" y1="59.2" x2="630.2" y2="59.2" stroke="#151515" stroke-width="1.2"/>
<text x="623.8" y="62.8" font-size="10.6" text-anchor="end" fill="#111" >2.5</text>
<line x1="626.4" y1="46.2" x2="630.2" y2="46.2" stroke="#151515" stroke-width="1.2"/>
<text x="623.8" y="49.8" font-size="10.6" text-anchor="end" fill="#111" >3.0</text>
<line x1="626.4" y1="33.1" x2="630.2" y2="33.1" stroke="#151515" stroke-width="1.2"/>
<text x="623.8" y="36.7" font-size="10.6" text-anchor="end" fill="#111" >3.5</text>
<line x1="629.6" y1="124.6" x2="767.6" y2="124.6" stroke="#151515" stroke-width="1.3"/>
<line x1="647.3" y1="124.6" x2="647.3" y2="128.2" stroke="#151515" stroke-width="1.2"/>
<text x="647.3" y="139.4" font-size="10.7" text-anchor="middle" fill="#111" >0</text>
<line x1="672.9" y1="124.6" x2="672.9" y2="128.2" stroke="#151515" stroke-width="1.2"/>
<text x="672.9" y="139.4" font-size="10.7" text-anchor="middle" fill="#111" >24</text>
<line x1="698.8" y1="124.6" x2="698.8" y2="128.2" stroke="#151515" stroke-width="1.2"/>
<text x="698.8" y="139.4" font-size="10.7" text-anchor="middle" fill="#111" >48</text>
<line x1="724.1" y1="124.6" x2="724.1" y2="128.2" stroke="#151515" stroke-width="1.2"/>
<text x="724.1" y="139.4" font-size="10.7" text-anchor="middle" fill="#111" >72</text>
<line x1="750.1" y1="124.6" x2="750.1" y2="128.2" stroke="#151515" stroke-width="1.2"/>
<text x="750.1" y="139.4" font-size="10.7" text-anchor="middle" fill="#111" >96</text>
<text x="761.2" y="139.4" font-size="10.7" text-anchor="middle" fill="#111" >h</text>
<text x="693.5" y="23.3" font-size="10.7" text-anchor="middle" fill="#111" >B16-F10</text>
<polyline points="647.3,118.8 672.9,114.9 698.8,111.0 724.1,92.7 750.1,58.7" fill="none" stroke="#2222e8" stroke-width="1.4"/>
<path d="M647.3,116.2 L649.8,120.6 L644.8,120.6 Z" fill="#2222e8"/>
<path d="M672.9,112.3 L675.4,116.7 L670.4,116.7 Z" fill="#2222e8"/>
<path d="M698.8,108.4 L701.3,112.8 L696.3,112.8 Z" fill="#2222e8"/>
<line x1="724.1" y1="91.9" x2="724.1" y2="93.5" stroke="#2222e8" stroke-width="1.0"/>
<line x1="721.9" y1="91.9" x2="726.3" y2="91.9" stroke="#2222e8" stroke-width="1.0"/>
<line x1="721.9" y1="93.5" x2="726.3" y2="93.5" stroke="#2222e8" stroke-width="1.0"/>
<path d="M724.1,90.1 L726.6,94.5 L721.6,94.5 Z" fill="#2222e8"/>
<line x1="750.1" y1="57.7" x2="750.1" y2="59.8" stroke="#2222e8" stroke-width="1.0"/>
<line x1="747.9" y1="57.7" x2="752.3" y2="57.7" stroke="#2222e8" stroke-width="1.0"/>
<line x1="747.9" y1="59.8" x2="752.3" y2="59.8" stroke="#2222e8" stroke-width="1.0"/>
<path d="M750.1,56.1 L752.6,60.5 L747.6,60.5 Z" fill="#2222e8"/>
<polyline points="647.3,118.8 672.9,116.5 698.8,112.8 724.1,99.8 750.1,77.0" fill="none" stroke="#ee2222" stroke-width="1.4"/>
<circle cx="647.3" cy="118.8" r="2.0" fill="#ee2222"/>
<circle cx="672.9" cy="116.5" r="2.0" fill="#ee2222"/>
<circle cx="698.8" cy="112.8" r="2.0" fill="#ee2222"/>
<line x1="724.1" y1="98.2" x2="724.1" y2="101.3" stroke="#ee2222" stroke-width="1.0"/>
<line x1="721.9" y1="98.2" x2="726.3" y2="98.2" stroke="#ee2222" stroke-width="1.0"/>
<line x1="721.9" y1="101.3" x2="726.3" y2="101.3" stroke="#ee2222" stroke-width="1.0"/>
<circle cx="724.1" cy="99.8" r="2.0" fill="#ee2222"/>
<line x1="750.1" y1="72.8" x2="750.1" y2="81.2" stroke="#ee2222" stroke-width="1.0"/>
<line x1="747.9" y1="72.8" x2="752.3" y2="72.8" stroke="#ee2222" stroke-width="1.0"/>
<line x1="747.9" y1="81.2" x2="752.3" y2="81.2" stroke="#ee2222" stroke-width="1.0"/>
<circle cx="750.1" cy="77.0" r="2.0" fill="#ee2222"/>
<line x1="637.4" y1="42.2" x2="647.8" y2="42.2" stroke="#ee2222" stroke-width="1.3"/>
<circle cx="642.6" cy="42.2" r="2.1" fill="#ee2222"/>
<text x="653.5" y="45.9" font-size="10.7" text-anchor="start" fill="#111" >Linear-control</text>
<line x1="637.4" y1="54.6" x2="647.8" y2="54.6" stroke="#2222e8" stroke-width="1.3"/>
<path d="M642.6,51.9 L645.2,56.5 L640.0,56.5 Z" fill="#2222e8"/>
<text x="653.5" y="58.3" font-size="10.7" text-anchor="start" fill="#111" >Linear-ORF-108aa</text>
<polyline points="755.5,59.2 759.7,59.2 759.7,76.8 755.5,76.8" fill="none" stroke="#333" stroke-width="1.0"/>
<text x="764.3" y="72.5" font-size="14" stroke="#111" stroke-width="0.35" text-anchor="middle" fill="#111">*<tspan x="764.3" dy="6.2">*</tspan></text>
<text transform="translate(586.9,77.4) rotate(-90)" font-size="10.7" text-anchor="middle" fill="#111">Cell Viability</text>
<text transform="translate(600.3,77.4) rotate(-90)" font-size="10.7" text-anchor="middle" fill="#111">(OD value 450nm)</text>
<line x1="394.1" y1="264.0" x2="394.1" y2="170.7" stroke="#151515" stroke-width="1.3"/>
<line x1="391.3" y1="263.4" x2="394.1" y2="263.4" stroke="#151515" stroke-width="1.2"/>
<text x="388.8" y="267.0" font-size="10.6" text-anchor="end" fill="#111" >0</text>
<line x1="391.3" y1="240.4" x2="394.1" y2="240.4" stroke="#151515" stroke-width="1.2"/>
<text x="388.8" y="244.0" font-size="10.6" text-anchor="end" fill="#111" >1</text>
<line x1="391.3" y1="217.3" x2="394.1" y2="217.3" stroke="#151515" stroke-width="1.2"/>
<text x="388.8" y="221.0" font-size="10.6" text-anchor="end" fill="#111" >2</text>
<line x1="391.3" y1="194.3" x2="394.1" y2="194.3" stroke="#151515" stroke-width="1.2"/>
<text x="388.8" y="197.9" font-size="10.6" text-anchor="end" fill="#111" >3</text>
<line x1="391.3" y1="171.3" x2="394.1" y2="171.3" stroke="#151515" stroke-width="1.2"/>
<text x="388.8" y="174.9" font-size="10.6" text-anchor="end" fill="#111" >4</text>
<line x1="393.5" y1="263.4" x2="532.9" y2="263.4" stroke="#151515" stroke-width="1.3"/>
<line x1="411.3" y1="263.4" x2="411.3" y2="267.0" stroke="#151515" stroke-width="1.2"/>
<text x="411.3" y="278.2" font-size="10.7" text-anchor="middle" fill="#111" >0</text>
<line x1="437.6" y1="263.4" x2="437.6" y2="267.0" stroke="#151515" stroke-width="1.2"/>
<text x="437.6" y="278.2" font-size="10.7" text-anchor="middle" fill="#111" >24</text>
<line x1="463.2" y1="263.4" x2="463.2" y2="267.0" stroke="#151515" stroke-width="1.2"/>
<text x="463.2" y="278.2" font-size="10.7" text-anchor="middle" fill="#111" >48</text>
<line x1="489.3" y1="263.4" x2="489.3" y2="267.0" stroke="#151515" stroke-width="1.2"/>
<text x="489.3" y="278.2" font-size="10.7" text-anchor="middle" fill="#111" >72</text>
<line x1="514.8" y1="263.4" x2="514.8" y2="267.0" stroke="#151515" stroke-width="1.2"/>
<text x="514.8" y="278.2" font-size="10.7" text-anchor="middle" fill="#111" >96</text>
<text x="525.5" y="278.2" font-size="10.7" text-anchor="middle" fill="#111" >h</text>
<text x="464.4" y="166.9" font-size="10.7" text-anchor="middle" fill="#111" >A375</text>
<polyline points="411.3,257.6 437.6,257.0 463.2,247.3 489.3,231.9 514.8,198.5" fill="none" stroke="#2222e8" stroke-width="1.4"/>
<path d="M411.3,255.0 L413.8,259.4 L408.8,259.4 Z" fill="#2222e8"/>
<path d="M437.6,254.4 L440.1,258.8 L435.1,258.8 Z" fill="#2222e8"/>
<line x1="463.2" y1="245.9" x2="463.2" y2="248.7" stroke="#2222e8" stroke-width="1.0"/>
<line x1="461.0" y1="245.9" x2="465.4" y2="245.9" stroke="#2222e8" stroke-width="1.0"/>
<line x1="461.0" y1="248.7" x2="465.4" y2="248.7" stroke="#2222e8" stroke-width="1.0"/>
<path d="M463.2,244.7 L465.7,249.1 L460.7,249.1 Z" fill="#2222e8"/>
<line x1="489.3" y1="230.7" x2="489.3" y2="233.0" stroke="#2222e8" stroke-width="1.0"/>
<line x1="487.1" y1="230.7" x2="491.5" y2="230.7" stroke="#2222e8" stroke-width="1.0"/>
<line x1="487.1" y1="233.0" x2="491.5" y2="233.0" stroke="#2222e8" stroke-width="1.0"/>
<path d="M489.3,229.3 L491.8,233.7 L486.8,233.7 Z" fill="#2222e8"/>
<line x1="514.8" y1="196.9" x2="514.8" y2="200.1" stroke="#2222e8" stroke-width="1.0"/>
<line x1="512.6" y1="196.9" x2="517.0" y2="196.9" stroke="#2222e8" stroke-width="1.0"/>
<line x1="512.6" y1="200.1" x2="517.0" y2="200.1" stroke="#2222e8" stroke-width="1.0"/>
<path d="M514.8,195.9 L517.3,200.3 L512.3,200.3 Z" fill="#2222e8"/>
<polyline points="411.3,257.6 437.6,257.6 463.2,252.3 489.3,243.4 514.8,219.0" fill="none" stroke="#33e033" stroke-width="1.4"/>
<rect x="409.3" y="255.6" width="4.0" height="4.0" fill="#33e033"/>
<rect x="435.6" y="255.6" width="4.0" height="4.0" fill="#33e033"/>
<rect x="461.2" y="250.3" width="4.0" height="4.0" fill="#33e033"/>
<line x1="489.3" y1="242.4" x2="489.3" y2="244.3" stroke="#33e033" stroke-width="1.0"/>
<line x1="487.1" y1="242.4" x2="491.5" y2="242.4" stroke="#33e033" stroke-width="1.0"/>
<line x1="487.1" y1="244.3" x2="491.5" y2="244.3" stroke="#33e033" stroke-width="1.0"/>
<rect x="487.3" y="241.4" width="4.0" height="4.0" fill="#33e033"/>
<line x1="514.8" y1="217.6" x2="514.8" y2="220.3" stroke="#33e033" stroke-width="1.0"/>
<line x1="512.6" y1="217.6" x2="517.0" y2="217.6" stroke="#33e033" stroke-width="1.0"/>
<line x1="512.6" y1="220.3" x2="517.0" y2="220.3" stroke="#33e033" stroke-width="1.0"/>
<rect x="512.8" y="217.0" width="4.0" height="4.0" fill="#33e033"/>
<polyline points="411.3,257.6 437.6,257.6 463.2,253.3 489.3,244.3 514.8,222.4" fill="none" stroke="#ee2222" stroke-width="1.4"/>
<circle cx="411.3" cy="257.6" r="2.0" fill="#ee2222"/>
<circle cx="437.6" cy="257.6" r="2.0" fill="#ee2222"/>
<circle cx="463.2" cy="253.3" r="2.0" fill="#ee2222"/>
<line x1="489.3" y1="243.1" x2="489.3" y2="245.4" stroke="#ee2222" stroke-width="1.0"/>
<line x1="487.1" y1="243.1" x2="491.5" y2="243.1" stroke="#ee2222" stroke-width="1.0"/>
<line x1="487.1" y1="245.4" x2="491.5" y2="245.4" stroke="#ee2222" stroke-width="1.0"/>
<circle cx="489.3" cy="244.3" r="2.0" fill="#ee2222"/>
<line x1="514.8" y1="220.6" x2="514.8" y2="224.3" stroke="#ee2222" stroke-width="1.0"/>
<line x1="512.6" y1="220.6" x2="517.0" y2="220.6" stroke="#ee2222" stroke-width="1.0"/>
<line x1="512.6" y1="224.3" x2="517.0" y2="224.3" stroke="#ee2222" stroke-width="1.0"/>
<circle cx="514.8" cy="222.4" r="2.0" fill="#ee2222"/>
<line x1="400.4" y1="178.5" x2="410.8" y2="178.5" stroke="#ee2222" stroke-width="1.3"/>
<circle cx="405.6" cy="178.5" r="2.1" fill="#ee2222"/>
<text x="415.3" y="182.2" font-size="10.7" text-anchor="start" fill="#111" >Circ-control</text>
<line x1="400.4" y1="191.8" x2="410.8" y2="191.8" stroke="#33e033" stroke-width="1.3"/>
<rect x="403.5" y="189.7" width="4.2" height="4.2" fill="#33e033"/>
<text x="415.3" y="195.5" font-size="10.7" text-anchor="start" fill="#111" >C-PIAS1-ATG-mut</text>
<line x1="400.4" y1="204.5" x2="410.8" y2="204.5" stroke="#2222e8" stroke-width="1.3"/>
<path d="M405.6,201.8 L408.2,206.4 L403.0,206.4 Z" fill="#2222e8"/>
<text x="415.3" y="208.2" font-size="10.7" text-anchor="start" fill="#111" >C-PIAS1</text>
<polyline points="521.2,199.2 526.6,199.2 526.6,222.9 521.2,222.9" fill="none" stroke="#333" stroke-width="1.0"/>
<line x1="521.2" y1="219.7" x2="521.2" y2="225.9" stroke="#555" stroke-width="1.0"/>
<text x="531.2" y="215.6" font-size="14" stroke="#111" stroke-width="0.35" text-anchor="middle" fill="#111">*<tspan x="531.2" dy="6.2">*</tspan></text>
<text transform="translate(362.4,217.5) rotate(-90)" font-size="10.7" text-anchor="middle" fill="#111">Cell Viability</text>
<text transform="translate(376.1,217.5) rotate(-90)" font-size="10.7" text-anchor="middle" fill="#111">(OD value 450nm)</text>
<line x1="632.1" y1="264.7" x2="632.1" y2="171.9" stroke="#151515" stroke-width="1.3"/>
<line x1="628.3" y1="264.1" x2="632.1" y2="264.1" stroke="#151515" stroke-width="1.2"/>
<text x="626.4" y="267.7" font-size="10.6" text-anchor="end" fill="#111" >0.0</text>
<line x1="628.3" y1="251.0" x2="632.1" y2="251.0" stroke="#151515" stroke-width="1.2"/>
<text x="626.4" y="254.6" font-size="10.6" text-anchor="end" fill="#111" >0.5</text>
<line x1="628.3" y1="237.9" x2="632.1" y2="237.9" stroke="#151515" stroke-width="1.2"/>
<text x="626.4" y="241.5" font-size="10.6" text-anchor="end" fill="#111" >1.0</text>
<line x1="628.3" y1="224.8" x2="632.1" y2="224.8" stroke="#151515" stroke-width="1.2"/>
<text x="626.4" y="228.4" font-size="10.6" text-anchor="end" fill="#111" >1.5</text>
<line x1="628.3" y1="211.8" x2="632.1" y2="211.8" stroke="#151515" stroke-width="1.2"/>
<text x="626.4" y="215.4" font-size="10.6" text-anchor="end" fill="#111" >2.0</text>
<line x1="628.3" y1="198.7" x2="632.1" y2="198.7" stroke="#151515" stroke-width="1.2"/>
<text x="626.4" y="202.3" font-size="10.6" text-anchor="end" fill="#111" >2.5</text>
<line x1="628.3" y1="185.6" x2="632.1" y2="185.6" stroke="#151515" stroke-width="1.2"/>
<text x="626.4" y="189.2" font-size="10.6" text-anchor="end" fill="#111" >3.0</text>
<line x1="628.3" y1="172.5" x2="632.1" y2="172.5" stroke="#151515" stroke-width="1.2"/>
<text x="626.4" y="176.1" font-size="10.6" text-anchor="end" fill="#111" >3.5</text>
<line x1="631.5" y1="264.1" x2="769.4" y2="264.1" stroke="#151515" stroke-width="1.3"/>
<line x1="648.7" y1="264.1" x2="648.7" y2="267.7" stroke="#151515" stroke-width="1.2"/>
<text x="648.7" y="278.9" font-size="10.7" text-anchor="middle" fill="#111" >0</text>
<line x1="674.8" y1="264.1" x2="674.8" y2="267.7" stroke="#151515" stroke-width="1.2"/>
<text x="674.8" y="278.9" font-size="10.7" text-anchor="middle" fill="#111" >24</text>
<line x1="700.3" y1="264.1" x2="700.3" y2="267.7" stroke="#151515" stroke-width="1.2"/>
<text x="700.3" y="278.9" font-size="10.7" text-anchor="middle" fill="#111" >48</text>
<line x1="726.0" y1="264.1" x2="726.0" y2="267.7" stroke="#151515" stroke-width="1.2"/>
<text x="726.0" y="278.9" font-size="10.7" text-anchor="middle" fill="#111" >72</text>
<line x1="751.4" y1="264.1" x2="751.4" y2="267.7" stroke="#151515" stroke-width="1.2"/>
<text x="751.4" y="278.9" font-size="10.7" text-anchor="middle" fill="#111" >96</text>
<text x="762.5" y="278.9" font-size="10.7" text-anchor="middle" fill="#111" >h</text>
<text x="693.2" y="168.9" font-size="10.7" text-anchor="middle" fill="#111" >A375</text>
<polyline points="648.7,258.3 674.8,256.8 700.3,249.2 726.0,235.3 751.4,206.0" fill="none" stroke="#2222e8" stroke-width="1.4"/>
<path d="M648.7,255.7 L651.2,260.1 L646.2,260.1 Z" fill="#2222e8"/>
<path d="M674.8,254.2 L677.3,258.6 L672.3,258.6 Z" fill="#2222e8"/>
<path d="M700.3,246.6 L702.8,251.0 L697.8,251.0 Z" fill="#2222e8"/>
<line x1="726.0" y1="234.5" x2="726.0" y2="236.1" stroke="#2222e8" stroke-width="1.0"/>
<line x1="723.8" y1="234.5" x2="728.2" y2="234.5" stroke="#2222e8" stroke-width="1.0"/>
<line x1="723.8" y1="236.1" x2="728.2" y2="236.1" stroke="#2222e8" stroke-width="1.0"/>
<path d="M726.0,232.7 L728.5,237.1 L723.5,237.1 Z" fill="#2222e8"/>
<line x1="751.4" y1="202.9" x2="751.4" y2="209.1" stroke="#2222e8" stroke-width="1.0"/>
<line x1="749.2" y1="202.9" x2="753.6" y2="202.9" stroke="#2222e8" stroke-width="1.0"/>
<line x1="749.2" y1="209.1" x2="753.6" y2="209.1" stroke="#2222e8" stroke-width="1.0"/>
<path d="M751.4,203.4 L753.9,207.8 L748.9,207.8 Z" fill="#2222e8"/>
<polyline points="648.7,258.3 674.8,257.8 700.3,254.4 726.0,246.6 751.4,228.2" fill="none" stroke="#ee2222" stroke-width="1.4"/>
<circle cx="648.7" cy="258.3" r="2.0" fill="#ee2222"/>
<circle cx="674.8" cy="257.8" r="2.0" fill="#ee2222"/>
<circle cx="700.3" cy="254.4" r="2.0" fill="#ee2222"/>
<line x1="726.0" y1="245.8" x2="726.0" y2="247.4" stroke="#ee2222" stroke-width="1.0"/>
<line x1="723.8" y1="245.8" x2="728.2" y2="245.8" stroke="#ee2222" stroke-width="1.0"/>
<line x1="723.8" y1="247.4" x2="728.2" y2="247.4" stroke="#ee2222" stroke-width="1.0"/>
<circle cx="726.0" cy="246.6" r="2.0" fill="#ee2222"/>
<line x1="751.4" y1="224.1" x2="751.4" y2="232.4" stroke="#ee2222" stroke-width="1.0"/>
<line x1="749.2" y1="224.1" x2="753.6" y2="224.1" stroke="#ee2222" stroke-width="1.0"/>
<line x1="749.2" y1="232.4" x2="753.6" y2="232.4" stroke="#ee2222" stroke-width="1.0"/>
<circle cx="751.4" cy="228.2" r="2.0" fill="#ee2222"/>
<line x1="637.4" y1="185.5" x2="647.8" y2="185.5" stroke="#ee2222" stroke-width="1.3"/>
<circle cx="642.6" cy="185.5" r="2.1" fill="#ee2222"/>
<text x="653.5" y="189.2" font-size="10.7" text-anchor="start" fill="#111" >Linear-control</text>
<line x1="637.4" y1="197.3" x2="647.8" y2="197.3" stroke="#2222e8" stroke-width="1.3"/>
<path d="M642.6,194.6 L645.2,199.2 L640.0,199.2 Z" fill="#2222e8"/>
<text x="653.5" y="201.0" font-size="10.7" text-anchor="start" fill="#111" >Linear-ORF-108aa</text>
<polyline points="755.6,207.4 760.8,207.4 760.8,228.5 755.6,228.5" fill="none" stroke="#333" stroke-width="1.0"/>
<text x="765.4" y="222.4" font-size="14" stroke="#111" stroke-width="0.35" text-anchor="middle" fill="#111">*<tspan x="765.4" dy="6.2">*</tspan></text>
<text transform="translate(586.9,217.5) rotate(-90)" font-size="10.7" text-anchor="middle" fill="#111">Cell Viability</text>
<text transform="translate(600.3,217.5) rotate(-90)" font-size="10.7" text-anchor="middle" fill="#111">(OD value 450nm)</text>
<line x1="77.0" y1="813.6" x2="77.0" y2="723.2" stroke="#151515" stroke-width="1.3"/>
<line x1="73.0" y1="813.0" x2="77.0" y2="813.0" stroke="#151515" stroke-width="1.2"/>
<text x="70.6" y="816.6" font-size="10.6" text-anchor="end" fill="#111" >0.0</text>
<line x1="73.0" y1="795.2" x2="77.0" y2="795.2" stroke="#151515" stroke-width="1.2"/>
<text x="70.6" y="798.8" font-size="10.6" text-anchor="end" fill="#111" >0.5</text>
<line x1="73.0" y1="777.3" x2="77.0" y2="777.3" stroke="#151515" stroke-width="1.2"/>
<text x="70.6" y="780.9" font-size="10.6" text-anchor="end" fill="#111" >1.0</text>
<line x1="73.0" y1="759.5" x2="77.0" y2="759.5" stroke="#151515" stroke-width="1.2"/>
<text x="70.6" y="763.1" font-size="10.6" text-anchor="end" fill="#111" >1.5</text>
<line x1="73.0" y1="741.6" x2="77.0" y2="741.6" stroke="#151515" stroke-width="1.2"/>
<text x="70.6" y="745.2" font-size="10.6" text-anchor="end" fill="#111" >2.0</text>
<line x1="73.0" y1="723.8" x2="77.0" y2="723.8" stroke="#151515" stroke-width="1.2"/>
<text x="70.6" y="727.4" font-size="10.6" text-anchor="end" fill="#111" >2.5</text>
<line x1="76.4" y1="813.0" x2="212.8" y2="813.0" stroke="#151515" stroke-width="1.3"/>
<line x1="109.4" y1="813.0" x2="109.4" y2="816.6" stroke="#151515" stroke-width="1.2"/>
<text x="109.4" y="829.8" font-size="10.7" text-anchor="middle" fill="#111" >B16-F10</text>
<line x1="180.0" y1="813.0" x2="180.0" y2="816.6" stroke="#151515" stroke-width="1.2"/>
<text x="180.0" y="829.8" font-size="10.7" text-anchor="middle" fill="#111" >A375</text>
<rect x="83.7" y="777.3" width="12.8" height="35.7" fill="#2a9a86" />
<line x1="90.1" y1="773.0" x2="90.1" y2="777.3" stroke="#9a9a9a" stroke-width="1.0"/>
<line x1="87.1" y1="773.0" x2="93.1" y2="773.0" stroke="#9a9a9a" stroke-width="1.0"/>
<circle cx="90.1" cy="779.1" r="1.6" fill="#a0a0a8"/>
<circle cx="90.1" cy="773.8" r="1.6" fill="#a0a0a8"/>
<rect x="103.0" y="774.8" width="12.8" height="38.2" fill="#f9a038" />
<line x1="109.4" y1="773.8" x2="109.4" y2="774.8" stroke="#9a9a9a" stroke-width="1.0"/>
<line x1="106.4" y1="773.8" x2="112.4" y2="773.8" stroke="#9a9a9a" stroke-width="1.0"/>
<circle cx="106.4" cy="774.5" r="1.6" fill="#a0a0a8"/>
<circle cx="112.4" cy="774.5" r="1.6" fill="#a0a0a8"/>
<rect x="122.3" y="738.1" width="12.8" height="74.9" fill="#f06a66" />
<line x1="128.7" y1="737.0" x2="128.7" y2="738.1" stroke="#9a9a9a" stroke-width="1.0"/>
<line x1="125.7" y1="737.0" x2="131.7" y2="737.0" stroke="#9a9a9a" stroke-width="1.0"/>
<circle cx="125.7" cy="738.4" r="1.6" fill="#a0a0a8"/>
<circle cx="131.7" cy="738.4" r="1.6" fill="#a0a0a8"/>
<rect x="154.5" y="777.3" width="12.8" height="35.7" fill="#2a9a86" />
<line x1="160.9" y1="771.3" x2="160.9" y2="777.3" stroke="#9a9a9a" stroke-width="1.0"/>
<line x1="157.9" y1="771.3" x2="163.9" y2="771.3" stroke="#9a9a9a" stroke-width="1.0"/>
<circle cx="160.9" cy="780.9" r="1.6" fill="#a0a0a8"/>
<circle cx="160.9" cy="773.8" r="1.6" fill="#a0a0a8"/>
<rect x="173.8" y="782.0" width="12.8" height="31.0" fill="#f9a038" />
<line x1="180.2" y1="780.2" x2="180.2" y2="782.0" stroke="#9a9a9a" stroke-width="1.0"/>
<line x1="177.2" y1="780.2" x2="183.2" y2="780.2" stroke="#9a9a9a" stroke-width="1.0"/>
<circle cx="177.2" cy="780.9" r="1.6" fill="#a0a0a8"/>
<circle cx="183.2" cy="780.9" r="1.6" fill="#a0a0a8"/>
<circle cx="180.2" cy="783.7" r="1.6" fill="#a0a0a8"/>
<rect x="193.2" y="761.3" width="12.8" height="51.7" fill="#f06a66" />
<line x1="199.6" y1="759.5" x2="199.6" y2="761.3" stroke="#9a9a9a" stroke-width="1.0"/>
<line x1="196.6" y1="759.5" x2="202.6" y2="759.5" stroke="#9a9a9a" stroke-width="1.0"/>
<circle cx="196.6" cy="761.6" r="1.6" fill="#a0a0a8"/>
<circle cx="202.6" cy="761.6" r="1.6" fill="#a0a0a8"/>
<line x1="89.3" y1="730.3" x2="127.9" y2="730.3" stroke="#222" stroke-width="1.3"/>
<text x="109.0" y="733.3" font-size="13.3" text-anchor="middle" fill="#111" letter-spacing="0.8" stroke="#111" stroke-width="0.35">**</text>
<line x1="89.3" y1="765.7" x2="110.2" y2="765.7" stroke="#222" stroke-width="1.3"/>
<text x="99.8" y="763.5" font-size="11.5" text-anchor="middle" fill="#222" >ns</text>
<line x1="159.0" y1="750.0" x2="198.0" y2="750.0" stroke="#222" stroke-width="1.3"/>
<text x="178.9" y="753.0" font-size="13.3" text-anchor="middle" fill="#111" letter-spacing="0.8" stroke="#111" stroke-width="0.35">**</text>
<line x1="159.0" y1="764.4" x2="180.2" y2="764.4" stroke="#222" stroke-width="1.3"/>
<text x="169.6" y="762.2" font-size="11.5" text-anchor="middle" fill="#222" >ns</text>
<rect x="175.0" y="692.2" width="10.3" height="5.0" fill="#2a9a86" />
<text x="187.6" y="698.4" font-size="10.7" text-anchor="start" fill="#111" >Circ-control</text>
<rect x="175.0" y="706.3" width="10.3" height="5.0" fill="#f9a038" />
<text x="187.6" y="712.5" font-size="10.7" text-anchor="start" fill="#111" >C-PIAS1-ATG-mut</text>
<rect x="175.0" y="720.7" width="10.3" height="5.0" fill="#f06a66" />
<text x="187.6" y="726.9" font-size="10.7" text-anchor="start" fill="#111" >C-PIAS1</text>
<text transform="translate(47.7,767.0) rotate(-90)" font-size="10.7" text-anchor="middle" fill="#111">Relative EdU positive cells</text>
<line x1="77.0" y1="952.6" x2="77.0" y2="861.5" stroke="#151515" stroke-width="1.3"/>
<line x1="73.0" y1="952.0" x2="77.0" y2="952.0" stroke="#151515" stroke-width="1.2"/>
<text x="70.6" y="955.6" font-size="10.6" text-anchor="end" fill="#111" >0</text>
<line x1="73.0" y1="922.0" x2="77.0" y2="922.0" stroke="#151515" stroke-width="1.2"/>
<text x="70.6" y="925.6" font-size="10.6" text-anchor="end" fill="#111" >1</text>
<line x1="73.0" y1="892.1" x2="77.0" y2="892.1" stroke="#151515" stroke-width="1.2"/>
<text x="70.6" y="895.7" font-size="10.6" text-anchor="end" fill="#111" >2</text>
<line x1="73.0" y1="862.1" x2="77.0" y2="862.1" stroke="#151515" stroke-width="1.2"/>
<text x="70.6" y="865.7" font-size="10.6" text-anchor="end" fill="#111" >3</text>
<line x1="76.4" y1="952.0" x2="212.8" y2="952.0" stroke="#151515" stroke-width="1.3"/>
<line x1="108.6" y1="952.0" x2="108.6" y2="955.6" stroke="#151515" stroke-width="1.2"/>
<text x="108.6" y="968.6" font-size="10.7" text-anchor="middle" fill="#111" >B16-F10</text>
<line x1="181.0" y1="952.0" x2="181.0" y2="955.6" stroke="#151515" stroke-width="1.2"/>
<text x="181.0" y="968.6" font-size="10.7" text-anchor="middle" fill="#111" >A375</text>
<rect x="86.2" y="922.0" width="18.0" height="30.0" fill="#2a9a86" />
<line x1="95.2" y1="917.5" x2="95.2" y2="922.0" stroke="#9a9a9a" stroke-width="1.0"/>
<line x1="92.2" y1="917.5" x2="98.2" y2="917.5" stroke="#9a9a9a" stroke-width="1.0"/>
<circle cx="95.2" cy="926.5" r="1.6" fill="#a0a0a8"/>
<circle cx="92.2" cy="919.0" r="1.6" fill="#a0a0a8"/>
<circle cx="98.2" cy="919.0" r="1.6" fill="#a0a0a8"/>
<rect x="113.3" y="881.3" width="18.0" height="70.7" fill="#f43c3e" />
<line x1="122.3" y1="876.8" x2="122.3" y2="881.3" stroke="#9a9a9a" stroke-width="1.0"/>
<line x1="119.3" y1="876.8" x2="125.3" y2="876.8" stroke="#9a9a9a" stroke-width="1.0"/>
<circle cx="122.3" cy="886.1" r="1.6" fill="#a0a0a8"/>
<circle cx="119.3" cy="878.6" r="1.6" fill="#a0a0a8"/>
<circle cx="125.3" cy="878.6" r="1.6" fill="#a0a0a8"/>
<rect x="158.3" y="922.0" width="18.0" height="30.0" fill="#2a9a86" />
<line x1="167.3" y1="917.5" x2="167.3" y2="922.0" stroke="#9a9a9a" stroke-width="1.0"/>
<line x1="164.3" y1="917.5" x2="170.3" y2="917.5" stroke="#9a9a9a" stroke-width="1.0"/>
<circle cx="167.3" cy="926.5" r="1.6" fill="#a0a0a8"/>
<circle cx="164.3" cy="919.0" r="1.6" fill="#a0a0a8"/>
<circle cx="170.3" cy="919.0" r="1.6" fill="#a0a0a8"/>
<rect x="185.5" y="904.7" width="18.0" height="47.3" fill="#f43c3e" />
<line x1="194.5" y1="901.7" x2="194.5" y2="904.7" stroke="#9a9a9a" stroke-width="1.0"/>
<line x1="191.5" y1="901.7" x2="197.5" y2="901.7" stroke="#9a9a9a" stroke-width="1.0"/>
<circle cx="194.5" cy="907.0" r="1.6" fill="#a0a0a8"/>
<circle cx="194.5" cy="904.1" r="1.6" fill="#a0a0a8"/>
<circle cx="194.5" cy="902.3" r="1.6" fill="#a0a0a8"/>
<line x1="96.5" y1="871.1" x2="121.5" y2="871.1" stroke="#222" stroke-width="1.3"/>
<text x="109.4" y="874.1" font-size="13.3" text-anchor="middle" fill="#111" letter-spacing="0.8" stroke="#111" stroke-width="0.35">**</text>
<line x1="169.9" y1="893.5" x2="194.8" y2="893.5" stroke="#222" stroke-width="1.3"/>
<text x="182.8" y="896.5" font-size="13.3" text-anchor="middle" fill="#111" letter-spacing="0.8" stroke="#111" stroke-width="0.35">**</text>
<rect x="175.0" y="852.1" width="10.3" height="5.0" fill="#2a9a86" />
<text x="188.0" y="858.3" font-size="10.7" text-anchor="start" fill="#111" >Linear-control</text>
<rect x="175.0" y="866.6" width="10.3" height="5.0" fill="#f43c3e" />
<text x="188.0" y="872.8" font-size="10.7" text-anchor="start" fill="#111" >Linear-ORF-108aa</text>
<text transform="translate(46.4,909.0) rotate(-90)" font-size="10.7" text-anchor="middle" fill="#111">Relative EdU positive cells</text>
<line x1="639.3" y1="459.9" x2="639.3" y2="368.4" stroke="#151515" stroke-width="1.3"/>
<line x1="635.7" y1="459.3" x2="639.3" y2="459.3" stroke="#151515" stroke-width="1.2"/>
<text x="634.1" y="462.9" font-size="10.6" text-anchor="end" fill="#111" >0.0</text>
<line x1="635.7" y1="436.7" x2="639.3" y2="436.7" stroke="#151515" stroke-width="1.2"/>
<text x="634.1" y="440.3" font-size="10.6" text-anchor="end" fill="#111" >0.5</text>
<line x1="635.7" y1="414.1" x2="639.3" y2="414.1" stroke="#151515" stroke-width="1.2"/>
<text x="634.1" y="417.8" font-size="10.6" text-anchor="end" fill="#111" >1.0</text>
<line x1="635.7" y1="391.6" x2="639.3" y2="391.6" stroke="#151515" stroke-width="1.2"/>
<text x="634.1" y="395.2" font-size="10.6" text-anchor="end" fill="#111" >1.5</text>
<line x1="635.7" y1="369.0" x2="639.3" y2="369.0" stroke="#151515" stroke-width="1.2"/>
<text x="634.1" y="372.6" font-size="10.6" text-anchor="end" fill="#111" >2.0</text>
<line x1="638.7" y1="459.3" x2="775.3" y2="459.3" stroke="#151515" stroke-width="1.3"/>
<line x1="671.1" y1="459.3" x2="671.1" y2="462.9" stroke="#151515" stroke-width="1.2"/>
<text x="671.1" y="475.8" font-size="10.7" text-anchor="middle" fill="#111" >B16-F10</text>
<line x1="741.6" y1="459.3" x2="741.6" y2="462.9" stroke="#151515" stroke-width="1.2"/>
<text x="741.6" y="475.8" font-size="10.7" text-anchor="middle" fill="#111" >A375</text>
<rect x="645.8" y="414.1" width="12.8" height="45.2" fill="#2a9a86" />
<line x1="652.2" y1="413.7" x2="652.2" y2="414.1" stroke="#9a9a9a" stroke-width="1.0"/>
<line x1="649.2" y1="413.7" x2="655.2" y2="413.7" stroke="#9a9a9a" stroke-width="1.0"/>
<circle cx="649.2" cy="414.1" r="1.6" fill="#a0a0a8"/>
<circle cx="655.2" cy="414.1" r="1.6" fill="#a0a0a8"/>
<rect x="665.1" y="410.5" width="12.8" height="48.8" fill="#f9a038" />
<line x1="671.5" y1="407.4" x2="671.5" y2="410.5" stroke="#9a9a9a" stroke-width="1.0"/>
<line x1="668.5" y1="407.4" x2="674.5" y2="407.4" stroke="#9a9a9a" stroke-width="1.0"/>
<circle cx="668.5" cy="408.7" r="1.6" fill="#a0a0a8"/>
<circle cx="674.5" cy="409.6" r="1.6" fill="#a0a0a8"/>
<circle cx="671.5" cy="412.8" r="1.6" fill="#a0a0a8"/>
<rect x="684.3" y="388.4" width="12.8" height="70.9" fill="#f06a66" />
<line x1="690.7" y1="387.1" x2="690.7" y2="388.4" stroke="#9a9a9a" stroke-width="1.0"/>
<line x1="687.7" y1="387.1" x2="693.7" y2="387.1" stroke="#9a9a9a" stroke-width="1.0"/>
<circle cx="687.7" cy="388.4" r="1.6" fill="#a0a0a8"/>
<circle cx="693.7" cy="388.4" r="1.6" fill="#a0a0a8"/>
<rect x="716.4" y="414.1" width="12.8" height="45.2" fill="#2a9a86" />
<line x1="722.8" y1="412.8" x2="722.8" y2="414.1" stroke="#9a9a9a" stroke-width="1.0"/>
<line x1="719.8" y1="412.8" x2="725.8" y2="412.8" stroke="#9a9a9a" stroke-width="1.0"/>
<circle cx="719.8" cy="414.1" r="1.6" fill="#a0a0a8"/>
<circle cx="725.8" cy="414.1" r="1.6" fill="#a0a0a8"/>
<rect x="735.8" y="417.3" width="12.8" height="42.0" fill="#f9a038" />
<line x1="742.2" y1="415.5" x2="742.2" y2="417.3" stroke="#9a9a9a" stroke-width="1.0"/>
<line x1="739.2" y1="415.5" x2="745.2" y2="415.5" stroke="#9a9a9a" stroke-width="1.0"/>
<circle cx="739.2" cy="417.8" r="1.6" fill="#a0a0a8"/>
<circle cx="745.2" cy="417.8" r="1.6" fill="#a0a0a8"/>
<circle cx="742.2" cy="416.0" r="1.6" fill="#a0a0a8"/>
<rect x="755.3" y="398.8" width="12.8" height="60.5" fill="#f06a66" />
<line x1="761.7" y1="397.9" x2="761.7" y2="398.8" stroke="#9a9a9a" stroke-width="1.0"/>
<line x1="758.7" y1="397.9" x2="764.7" y2="397.9" stroke="#9a9a9a" stroke-width="1.0"/>
<circle cx="758.7" cy="398.8" r="1.6" fill="#a0a0a8"/>
<circle cx="764.7" cy="398.8" r="1.6" fill="#a0a0a8"/>
<line x1="651.4" y1="378.7" x2="689.9" y2="378.7" stroke="#222" stroke-width="1.3"/>
<text x="671.0" y="381.7" font-size="13.3" text-anchor="middle" fill="#111" letter-spacing="0.8" stroke="#111" stroke-width="0.35">**</text>
<line x1="650.2" y1="399.6" x2="671.8" y2="399.6" stroke="#222" stroke-width="1.3"/>
<text x="661.0" y="397.4" font-size="11.5" text-anchor="middle" fill="#222" >ns</text>
<line x1="721.9" y1="390.2" x2="760.4" y2="390.2" stroke="#222" stroke-width="1.3"/>
<text x="741.5" y="393.2" font-size="13.3" text-anchor="middle" fill="#111" letter-spacing="0.8" stroke="#111" stroke-width="0.35">**</text>
<line x1="721.2" y1="405.2" x2="741.6" y2="405.2" stroke="#222" stroke-width="1.3"/>
<text x="731.4" y="403.0" font-size="11.5" text-anchor="middle" fill="#222" >ns</text>
<rect x="641.3" y="328.0" width="10.8" height="5.0" fill="#2a9a86" />
<text x="654.5" y="334.2" font-size="10.7" text-anchor="start" fill="#111" >Circ-control</text>
<rect x="641.3" y="342.5" width="10.8" height="5.0" fill="#f9a038" />
<text x="654.5" y="348.7" font-size="10.7" text-anchor="start" fill="#111" >C-PIAS1-ATG-mut</text>
<rect x="641.3" y="356.9" width="10.8" height="5.0" fill="#f06a66" />
<text x="654.5" y="363.1" font-size="10.7" text-anchor="start" fill="#111" >C-PIAS1</text>
<text transform="translate(611.2,412.7) rotate(-90)" font-size="10.7" text-anchor="middle" fill="#111">Relative colony numbers</text>
<line x1="636.2" y1="640.6" x2="636.2" y2="549.2" stroke="#151515" stroke-width="1.3"/>
<line x1="632.6" y1="640.0" x2="636.2" y2="640.0" stroke="#151515" stroke-width="1.2"/>
<text x="631.0" y="643.6" font-size="10.6" text-anchor="end" fill="#111" >0.0</text>
<line x1="632.6" y1="617.5" x2="636.2" y2="617.5" stroke="#151515" stroke-width="1.2"/>
<text x="631.0" y="621.1" font-size="10.6" text-anchor="end" fill="#111" >0.5</text>
<line x1="632.6" y1="594.9" x2="636.2" y2="594.9" stroke="#151515" stroke-width="1.2"/>
<text x="631.0" y="598.5" font-size="10.6" text-anchor="end" fill="#111" >1.0</text>
<line x1="632.6" y1="572.3" x2="636.2" y2="572.3" stroke="#151515" stroke-width="1.2"/>
<text x="631.0" y="576.0" font-size="10.6" text-anchor="end" fill="#111" >1.5</text>
<line x1="632.6" y1="549.8" x2="636.2" y2="549.8" stroke="#151515" stroke-width="1.2"/>
<text x="631.0" y="553.4" font-size="10.6" text-anchor="end" fill="#111" >2.0</text>
<line x1="635.6" y1="640.0" x2="770.0" y2="640.0" stroke="#151515" stroke-width="1.3"/>
<line x1="667.7" y1="640.0" x2="667.7" y2="643.6" stroke="#151515" stroke-width="1.2"/>
<text x="667.7" y="656.6" font-size="10.7" text-anchor="middle" fill="#111" >B16-F10</text>
<line x1="740.4" y1="640.0" x2="740.4" y2="643.6" stroke="#151515" stroke-width="1.2"/>
<text x="740.4" y="656.6" font-size="10.7" text-anchor="middle" fill="#111" >A375</text>
<rect x="645.4" y="594.9" width="18.0" height="45.1" fill="#2a9a86" />
<line x1="654.4" y1="592.6" x2="654.4" y2="594.9" stroke="#9a9a9a" stroke-width="1.0"/>
<line x1="651.4" y1="592.6" x2="657.4" y2="592.6" stroke="#9a9a9a" stroke-width="1.0"/>
<circle cx="651.4" cy="595.8" r="1.6" fill="#a0a0a8"/>
<circle cx="657.4" cy="595.8" r="1.6" fill="#a0a0a8"/>
<rect x="672.6" y="585.9" width="18.0" height="54.1" fill="#f43c3e" />
<line x1="681.6" y1="584.1" x2="681.6" y2="585.9" stroke="#9a9a9a" stroke-width="1.0"/>
<line x1="678.6" y1="584.1" x2="684.6" y2="584.1" stroke="#9a9a9a" stroke-width="1.0"/>
<circle cx="678.6" cy="586.8" r="1.6" fill="#a0a0a8"/>
<circle cx="684.6" cy="585.0" r="1.6" fill="#a0a0a8"/>
<rect x="718.0" y="594.9" width="18.0" height="45.1" fill="#2a9a86" />
<line x1="727.0" y1="591.7" x2="727.0" y2="594.9" stroke="#9a9a9a" stroke-width="1.0"/>
<line x1="724.0" y1="591.7" x2="730.0" y2="591.7" stroke="#9a9a9a" stroke-width="1.0"/>
<circle cx="724.0" cy="595.8" r="1.6" fill="#a0a0a8"/>
<circle cx="730.0" cy="595.8" r="1.6" fill="#a0a0a8"/>
<rect x="745.2" y="559.7" width="18.0" height="80.3" fill="#f43c3e" />
<line x1="754.2" y1="557.9" x2="754.2" y2="559.7" stroke="#9a9a9a" stroke-width="1.0"/>
<line x1="751.2" y1="557.9" x2="757.2" y2="557.9" stroke="#9a9a9a" stroke-width="1.0"/>
<circle cx="751.2" cy="558.8" r="1.6" fill="#a0a0a8"/>
<circle cx="757.2" cy="558.8" r="1.6" fill="#a0a0a8"/>
<circle cx="754.2" cy="562.0" r="1.6" fill="#a0a0a8"/>
<line x1="655.5" y1="576.8" x2="680.7" y2="576.8" stroke="#222" stroke-width="1.3"/>
<text x="668.5" y="579.8" font-size="13.3" text-anchor="middle" fill="#111" letter-spacing="0.8" stroke="#111" stroke-width="0.35">**</text>
<line x1="729.1" y1="549.8" x2="754.1" y2="549.8" stroke="#222" stroke-width="1.3"/>
<text x="742.0" y="552.8" font-size="13.3" text-anchor="middle" fill="#111" letter-spacing="0.8" stroke="#111" stroke-width="0.35">**</text>
<rect x="640.5" y="514.1" width="10.3" height="5.0" fill="#2a9a86" />
<text x="653.8" y="520.3" font-size="10.7" text-anchor="start" fill="#111" >Linear-control</text>
<rect x="640.5" y="528.5" width="10.3" height="5.0" fill="#f43c3e" />
<text x="653.8" y="534.7" font-size="10.7" text-anchor="start" fill="#111" >Linear-ORF-108aa</text>
<text transform="translate(609.8,593.0) rotate(-90)" font-size="10.7" text-anchor="middle" fill="#111">Relative colony numbers</text>
<line x1="674.3" y1="863.4" x2="674.3" y2="737.7" stroke="#151515" stroke-width="1.3"/>
<line x1="669.3" y1="862.8" x2="674.3" y2="862.8" stroke="#151515" stroke-width="1.2"/>
<text x="667.0" y="866.5" font-size="11" text-anchor="end" fill="#111" >0</text>
<line x1="669.3" y1="821.3" x2="674.3" y2="821.3" stroke="#151515" stroke-width="1.2"/>
<text x="667.0" y="825.0" font-size="11" text-anchor="end" fill="#111" >1</text>
<line x1="669.3" y1="779.8" x2="674.3" y2="779.8" stroke="#151515" stroke-width="1.2"/>
<text x="667.0" y="783.5" font-size="11" text-anchor="end" fill="#111" >2</text>
<line x1="669.3" y1="738.3" x2="674.3" y2="738.3" stroke="#151515" stroke-width="1.2"/>
<text x="667.0" y="742.0" font-size="11" text-anchor="end" fill="#111" >3</text>
<line x1="673.7" y1="862.8" x2="757.0" y2="862.8" stroke="#151515" stroke-width="1.3"/>
<line x1="698.0" y1="862.8" x2="698.0" y2="866.4" stroke="#151515" stroke-width="1.2"/>
<line x1="733.8" y1="862.8" x2="733.8" y2="866.4" stroke="#151515" stroke-width="1.2"/>
<rect x="686.4" y="821.3" width="23.3" height="41.5" fill="#2a9a86" />
<line x1="698.0" y1="816.3" x2="698.0" y2="821.3" stroke="#9a9a9a" stroke-width="1.0"/>
<line x1="695.0" y1="816.3" x2="701.0" y2="816.3" stroke="#9a9a9a" stroke-width="1.0"/>
<circle cx="694.0" cy="815.9" r="2.1" fill="#a0a0a8"/>
<circle cx="702.0" cy="821.3" r="2.1" fill="#a0a0a8"/>
<circle cx="698.0" cy="826.3" r="2.1" fill="#a0a0a8"/>
<rect x="722.0" y="764.9" width="23.6" height="97.9" fill="#f9a038" />
<line x1="733.8" y1="759.9" x2="733.8" y2="764.9" stroke="#9a9a9a" stroke-width="1.0"/>
<line x1="730.8" y1="759.9" x2="736.8" y2="759.9" stroke="#9a9a9a" stroke-width="1.0"/>
<circle cx="733.8" cy="759.9" r="2.1" fill="#a0a0a8"/>
<circle cx="729.8" cy="767.3" r="2.1" fill="#a0a0a8"/>
<circle cx="737.8" cy="767.3" r="2.1" fill="#a0a0a8"/>
<line x1="700.7" y1="750.2" x2="732.5" y2="750.2" stroke="#222" stroke-width="1.3"/>
<text x="717.0" y="753.2" font-size="13.3" text-anchor="middle" fill="#111" letter-spacing="0.8" stroke="#111" stroke-width="0.35">**</text>
<text transform="translate(644.9,805.8) rotate(-90)" font-size="10.7" text-anchor="middle" fill="#111">Relative C-P-108aa expression</text>
<text transform="translate(704.0,872.3) rotate(-45)" font-size="10.7" text-anchor="end" fill="#111">Adjacent tissues</text>
<text transform="translate(739.8,872.3) rotate(-45)" font-size="10.7" text-anchor="end" fill="#111">Tumor tissues</text>
</svg>
</body></html>
